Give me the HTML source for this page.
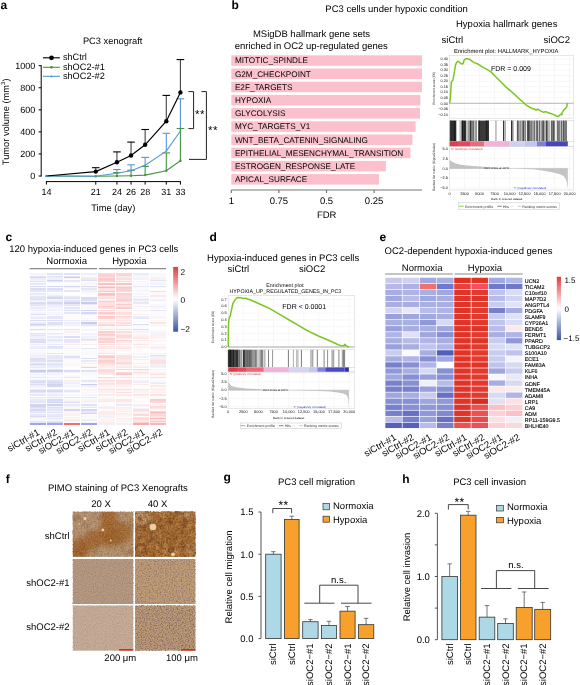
<!DOCTYPE html>
<html><head><meta charset="utf-8"><title>Figure</title>
<style>html,body{margin:0;padding:0;background:#fff;overflow:hidden}svg{display:block;font-family:"Liberation Sans",sans-serif;text-rendering:geometricPrecision;will-change:transform}</style>
</head><body>
<svg width="580" height="685" viewBox="0 0 580 685">
<rect width="580" height="685" fill="#fff"/>
<text x="0.60" y="8.70" font-size="12" font-weight="bold">a</text>
<text x="231.40" y="8.70" font-size="12" font-weight="bold">b</text>
<text x="5.40" y="241.30" font-size="12" font-weight="bold">c</text>
<text x="209.60" y="241.30" font-size="12" font-weight="bold">d</text>
<text x="379.60" y="241.00" font-size="12" font-weight="bold">e</text>
<text x="5.80" y="482.50" font-size="12" font-weight="bold">f</text>
<text x="223.50" y="481.30" font-size="12" font-weight="bold">g</text>
<text x="402.20" y="483.20" font-size="12" font-weight="bold">h</text>
<text x="82.90" y="43.60" font-size="9.3">PC3 xenograft</text>
<line x1="43.00" y1="57.80" x2="59.90" y2="57.80" stroke="#000" stroke-width="1.1"/>
<circle cx="51.5" cy="57.8" r="2.4" fill="#000"/>
<line x1="43.00" y1="67.30" x2="59.90" y2="67.30" stroke="#46963c" stroke-width="1.1"/>
<circle cx="51.5" cy="67.3" r="1.4" fill="#46963c"/>
<line x1="43.00" y1="76.30" x2="59.90" y2="76.30" stroke="#5096dc" stroke-width="1.1"/>
<path d="M50.1,77.3 L51.5,74.9 L52.9,77.3 Z" fill="#5096dc"/>
<text x="62.90" y="59.60" font-size="9.2">shCtrl</text>
<text x="62.90" y="69.60" font-size="9.2">shOC2-#1</text>
<text x="62.90" y="79.30" font-size="9.2">shOC2-#2</text>
<line x1="41.20" y1="65.20" x2="41.20" y2="176.50" stroke="#000" stroke-width="1"/>
<line x1="38.60" y1="176.00" x2="41.20" y2="176.00" stroke="#000" stroke-width="1"/>
<text x="35.20" y="179.30" font-size="9.0" text-anchor="end">0</text>
<line x1="38.60" y1="153.94" x2="41.20" y2="153.94" stroke="#000" stroke-width="1"/>
<text x="35.20" y="157.24" font-size="9.0" text-anchor="end">200</text>
<line x1="38.60" y1="131.88" x2="41.20" y2="131.88" stroke="#000" stroke-width="1"/>
<text x="35.20" y="135.18" font-size="9.0" text-anchor="end">400</text>
<line x1="38.60" y1="109.82" x2="41.20" y2="109.82" stroke="#000" stroke-width="1"/>
<text x="35.20" y="113.12" font-size="9.0" text-anchor="end">600</text>
<line x1="38.60" y1="87.76" x2="41.20" y2="87.76" stroke="#000" stroke-width="1"/>
<text x="35.20" y="91.06" font-size="9.0" text-anchor="end">800</text>
<line x1="38.60" y1="65.70" x2="41.20" y2="65.70" stroke="#000" stroke-width="1"/>
<text x="35.20" y="69.00" font-size="9.0" text-anchor="end">1000</text>
<text transform="translate(8.6,121.8) rotate(-90)" font-size="9.3" text-anchor="middle">Tumor volume (mm<tspan font-size="6" dy="-3.2">3</tspan><tspan dy="3.2">)</tspan></text>
<line x1="45.90" y1="181.60" x2="180.90" y2="181.60" stroke="#000" stroke-width="1"/>
<line x1="46.40" y1="181.60" x2="46.40" y2="184.60" stroke="#000" stroke-width="1"/>
<text x="46.40" y="195.40" font-size="9.0" text-anchor="middle">14</text>
<line x1="95.77" y1="181.60" x2="95.77" y2="184.60" stroke="#000" stroke-width="1"/>
<text x="95.77" y="195.40" font-size="9.0" text-anchor="middle">21</text>
<line x1="116.93" y1="181.60" x2="116.93" y2="184.60" stroke="#000" stroke-width="1"/>
<text x="116.93" y="195.40" font-size="9.0" text-anchor="middle">24</text>
<line x1="131.04" y1="181.60" x2="131.04" y2="184.60" stroke="#000" stroke-width="1"/>
<text x="131.04" y="195.40" font-size="9.0" text-anchor="middle">26</text>
<line x1="145.14" y1="181.60" x2="145.14" y2="184.60" stroke="#000" stroke-width="1"/>
<text x="145.14" y="195.40" font-size="9.0" text-anchor="middle">28</text>
<line x1="166.30" y1="181.60" x2="166.30" y2="184.60" stroke="#000" stroke-width="1"/>
<text x="166.30" y="195.40" font-size="9.0" text-anchor="middle">31</text>
<line x1="180.41" y1="181.60" x2="180.41" y2="184.60" stroke="#000" stroke-width="1"/>
<text x="180.41" y="195.40" font-size="9.0" text-anchor="middle">33</text>
<text x="113.30" y="211.00" font-size="9.3" text-anchor="middle">Time (day)</text>
<line x1="116.93" y1="173.30" x2="116.93" y2="169.50" stroke="#5096dc" stroke-width="1.1"/>
<line x1="113.13" y1="169.50" x2="120.73" y2="169.50" stroke="#5096dc" stroke-width="1.1"/>
<line x1="131.04" y1="170.80" x2="131.04" y2="164.80" stroke="#5096dc" stroke-width="1.1"/>
<line x1="127.24" y1="164.80" x2="134.84" y2="164.80" stroke="#5096dc" stroke-width="1.1"/>
<line x1="145.14" y1="165.20" x2="145.14" y2="157.40" stroke="#5096dc" stroke-width="1.1"/>
<line x1="141.34" y1="157.40" x2="148.94" y2="157.40" stroke="#5096dc" stroke-width="1.1"/>
<line x1="166.30" y1="151.10" x2="166.30" y2="133.30" stroke="#5096dc" stroke-width="1.1"/>
<line x1="162.50" y1="133.30" x2="170.10" y2="133.30" stroke="#5096dc" stroke-width="1.1"/>
<line x1="180.41" y1="131.00" x2="180.41" y2="98.80" stroke="#5096dc" stroke-width="1.1"/>
<line x1="176.61" y1="98.80" x2="184.21" y2="98.80" stroke="#5096dc" stroke-width="1.1"/>
<line x1="116.93" y1="176.00" x2="116.93" y2="172.60" stroke="#46963c" stroke-width="1.1"/>
<line x1="113.13" y1="172.60" x2="120.73" y2="172.60" stroke="#46963c" stroke-width="1.1"/>
<line x1="131.04" y1="175.70" x2="131.04" y2="170.20" stroke="#46963c" stroke-width="1.1"/>
<line x1="127.24" y1="170.20" x2="134.84" y2="170.20" stroke="#46963c" stroke-width="1.1"/>
<line x1="145.14" y1="175.10" x2="145.14" y2="166.40" stroke="#46963c" stroke-width="1.1"/>
<line x1="141.34" y1="166.40" x2="148.94" y2="166.40" stroke="#46963c" stroke-width="1.1"/>
<line x1="166.30" y1="170.70" x2="166.30" y2="152.90" stroke="#46963c" stroke-width="1.1"/>
<line x1="162.50" y1="152.90" x2="170.10" y2="152.90" stroke="#46963c" stroke-width="1.1"/>
<line x1="180.41" y1="160.80" x2="180.41" y2="128.50" stroke="#46963c" stroke-width="1.1"/>
<line x1="176.61" y1="128.50" x2="184.21" y2="128.50" stroke="#46963c" stroke-width="1.1"/>
<line x1="95.77" y1="171.60" x2="95.77" y2="167.70" stroke="#444" stroke-width="1.1"/>
<line x1="91.97" y1="167.70" x2="99.57" y2="167.70" stroke="#000" stroke-width="1.1"/>
<line x1="116.93" y1="162.20" x2="116.93" y2="151.90" stroke="#444" stroke-width="1.1"/>
<line x1="113.13" y1="151.90" x2="120.73" y2="151.90" stroke="#000" stroke-width="1.1"/>
<line x1="131.04" y1="155.50" x2="131.04" y2="142.10" stroke="#444" stroke-width="1.1"/>
<line x1="127.24" y1="142.10" x2="134.84" y2="142.10" stroke="#000" stroke-width="1.1"/>
<line x1="145.14" y1="144.80" x2="145.14" y2="129.50" stroke="#444" stroke-width="1.1"/>
<line x1="141.34" y1="129.50" x2="148.94" y2="129.50" stroke="#000" stroke-width="1.1"/>
<line x1="166.30" y1="121.20" x2="166.30" y2="95.40" stroke="#444" stroke-width="1.1"/>
<line x1="162.50" y1="95.40" x2="170.10" y2="95.40" stroke="#000" stroke-width="1.1"/>
<line x1="180.41" y1="92.40" x2="180.41" y2="59.60" stroke="#444" stroke-width="1.1"/>
<line x1="176.61" y1="59.60" x2="184.21" y2="59.60" stroke="#000" stroke-width="1.1"/>
<polyline points="46.40,176.00 95.77,176.20 116.93,176.00 131.04,175.70 145.14,175.10 166.30,170.70 180.41,160.80" fill="none" stroke="#46963c" stroke-width="1.1"/>
<polyline points="46.40,176.00 95.77,176.20 116.93,173.30 131.04,170.80 145.14,165.20 166.30,151.10 180.41,131.00" fill="none" stroke="#5096dc" stroke-width="1.1"/>
<polyline points="46.40,176.00 95.77,171.60 116.93,162.20 131.04,155.50 145.14,144.80 166.30,121.20 180.41,92.40" fill="none" stroke="#000" stroke-width="1.2"/>
<circle cx="46.40" cy="176.00" r="1.2" fill="#46963c"/>
<circle cx="95.77" cy="176.20" r="1.2" fill="#46963c"/>
<circle cx="116.93" cy="176.00" r="1.2" fill="#46963c"/>
<circle cx="131.04" cy="175.70" r="1.2" fill="#46963c"/>
<circle cx="145.14" cy="175.10" r="1.2" fill="#46963c"/>
<circle cx="166.30" cy="170.70" r="1.2" fill="#46963c"/>
<circle cx="180.41" cy="160.80" r="1.2" fill="#46963c"/>
<path d="M45.30,176.70 L46.40,174.90 L47.50,176.70 Z" fill="#5096dc"/>
<path d="M94.67,176.90 L95.77,175.10 L96.87,176.90 Z" fill="#5096dc"/>
<path d="M115.83,174.00 L116.93,172.20 L118.03,174.00 Z" fill="#5096dc"/>
<path d="M129.94,171.50 L131.04,169.70 L132.14,171.50 Z" fill="#5096dc"/>
<path d="M144.04,165.90 L145.14,164.10 L146.24,165.90 Z" fill="#5096dc"/>
<path d="M165.20,151.80 L166.30,150.00 L167.40,151.80 Z" fill="#5096dc"/>
<path d="M179.31,131.70 L180.41,129.90 L181.51,131.70 Z" fill="#5096dc"/>
<circle cx="95.77" cy="171.60" r="2.2" fill="#000"/>
<circle cx="116.93" cy="162.20" r="2.2" fill="#000"/>
<circle cx="131.04" cy="155.50" r="2.2" fill="#000"/>
<circle cx="145.14" cy="144.80" r="2.2" fill="#000"/>
<circle cx="166.30" cy="121.20" r="2.2" fill="#000"/>
<circle cx="180.41" cy="92.40" r="2.2" fill="#000"/>
<path d="M188.4,91.6 H193.6 V128.6 H188.4" fill="none" stroke="#222" stroke-width="1"/>
<text x="200.00" y="117.60" font-size="11.5" text-anchor="middle" letter-spacing="0.5">**</text>
<path d="M201.4,91.6 H206.4 V159.4 H189" fill="none" stroke="#222" stroke-width="1"/>
<text x="212.90" y="134.00" font-size="11.5" text-anchor="middle" letter-spacing="0.5">**</text>
<text x="325.30" y="11.80" font-size="9.5">PC3 cells under hypoxic condition</text>
<text x="311.50" y="37.20" font-size="9.5" text-anchor="middle">MSigDB hallmark gene sets</text>
<text x="311.30" y="49.00" font-size="9.5" text-anchor="middle">enriched in OC2 up-regulated genes</text>
<rect x="231.30" y="55.30" width="190.70" height="10.50" fill="#fbc0cc"/>
<text x="234.90" y="63.40" font-size="8.2">MITOTIC_SPINDLE</text>
<rect x="231.30" y="68.50" width="190.70" height="10.50" fill="#fbc0cc"/>
<text x="234.90" y="76.60" font-size="8.2">G2M_CHECKPOINT</text>
<rect x="231.30" y="81.70" width="190.70" height="10.50" fill="#fbc0cc"/>
<text x="234.90" y="89.80" font-size="8.2">E2F_TARGETS</text>
<rect x="231.30" y="94.90" width="189.10" height="10.50" fill="#fbc0cc"/>
<text x="234.90" y="103.00" font-size="8.2">HYPOXIA</text>
<rect x="231.30" y="108.10" width="188.70" height="10.50" fill="#fbc0cc"/>
<text x="234.90" y="116.20" font-size="8.2">GLYCOLYSIS</text>
<rect x="231.30" y="121.30" width="184.30" height="10.50" fill="#fbc0cc"/>
<text x="234.90" y="129.40" font-size="8.2">MYC_TARGETS_V1</text>
<rect x="231.30" y="134.50" width="181.10" height="10.50" fill="#fbc0cc"/>
<text x="234.90" y="142.60" font-size="8.2">WNT_BETA_CATENIN_SIGNALING</text>
<rect x="231.30" y="147.70" width="179.10" height="10.50" fill="#fbc0cc"/>
<text x="234.90" y="155.80" font-size="8.2">EPITHELIAL_MESENCHYMAL_TRANSITION</text>
<rect x="231.30" y="160.90" width="154.60" height="10.50" fill="#fbc0cc"/>
<text x="234.90" y="169.00" font-size="8.2">ESTROGEN_RESPONSE_LATE</text>
<rect x="231.30" y="174.10" width="147.70" height="10.50" fill="#fbc0cc"/>
<text x="234.90" y="182.20" font-size="8.2">APICAL_SURFACE</text>
<line x1="231.30" y1="190.00" x2="422.00" y2="190.00" stroke="#777" stroke-width="1.2"/>
<line x1="231.30" y1="190.00" x2="231.30" y2="193.00" stroke="#777" stroke-width="1.2"/>
<text x="231.30" y="204.00" font-size="9.5" text-anchor="middle">1</text>
<line x1="278.90" y1="190.00" x2="278.90" y2="193.00" stroke="#777" stroke-width="1.2"/>
<text x="278.90" y="204.00" font-size="9.5" text-anchor="middle">0.75</text>
<line x1="326.50" y1="190.00" x2="326.50" y2="193.00" stroke="#777" stroke-width="1.2"/>
<text x="326.50" y="204.00" font-size="9.5" text-anchor="middle">0.5</text>
<line x1="374.10" y1="190.00" x2="374.10" y2="193.00" stroke="#777" stroke-width="1.2"/>
<text x="374.10" y="204.00" font-size="9.5" text-anchor="middle">0.25</text>
<text x="326.70" y="218.00" font-size="9.5" text-anchor="middle">FDR</text>
<text x="456.00" y="26.80" font-size="9.5">Hypoxia hallmark genes</text>
<text x="441.60" y="42.80" font-size="9.5">siCtrl</text>
<text x="543.60" y="42.80" font-size="9.5">siOC2</text>
<text x="506.20" y="53.00" font-size="5.85" text-anchor="middle">Enrichment plot: HALLMARK_HYPOXIA</text>
<rect x="449.60" y="55.30" width="124.10" height="62.90" fill="#fff" stroke="#d8d8d8" stroke-width="0.6"/>
<line x1="464.60" y1="55.30" x2="464.60" y2="118.20" stroke="#eeeeee" stroke-width="0.5"/>
<line x1="464.60" y1="146.60" x2="464.60" y2="190.00" stroke="#eeeeee" stroke-width="0.5"/>
<line x1="479.60" y1="55.30" x2="479.60" y2="118.20" stroke="#eeeeee" stroke-width="0.5"/>
<line x1="479.60" y1="146.60" x2="479.60" y2="190.00" stroke="#eeeeee" stroke-width="0.5"/>
<line x1="494.60" y1="55.30" x2="494.60" y2="118.20" stroke="#eeeeee" stroke-width="0.5"/>
<line x1="494.60" y1="146.60" x2="494.60" y2="190.00" stroke="#eeeeee" stroke-width="0.5"/>
<line x1="509.60" y1="55.30" x2="509.60" y2="118.20" stroke="#eeeeee" stroke-width="0.5"/>
<line x1="509.60" y1="146.60" x2="509.60" y2="190.00" stroke="#eeeeee" stroke-width="0.5"/>
<line x1="524.60" y1="55.30" x2="524.60" y2="118.20" stroke="#eeeeee" stroke-width="0.5"/>
<line x1="524.60" y1="146.60" x2="524.60" y2="190.00" stroke="#eeeeee" stroke-width="0.5"/>
<line x1="539.60" y1="55.30" x2="539.60" y2="118.20" stroke="#eeeeee" stroke-width="0.5"/>
<line x1="539.60" y1="146.60" x2="539.60" y2="190.00" stroke="#eeeeee" stroke-width="0.5"/>
<line x1="554.60" y1="55.30" x2="554.60" y2="118.20" stroke="#eeeeee" stroke-width="0.5"/>
<line x1="554.60" y1="146.60" x2="554.60" y2="190.00" stroke="#eeeeee" stroke-width="0.5"/>
<line x1="569.60" y1="55.30" x2="569.60" y2="118.20" stroke="#eeeeee" stroke-width="0.5"/>
<line x1="569.60" y1="146.60" x2="569.60" y2="190.00" stroke="#eeeeee" stroke-width="0.5"/>
<line x1="449.60" y1="58.98" x2="573.70" y2="58.98" stroke="#f0f0f0" stroke-width="0.5"/>
<line x1="449.60" y1="64.52" x2="573.70" y2="64.52" stroke="#f0f0f0" stroke-width="0.5"/>
<line x1="449.60" y1="70.06" x2="573.70" y2="70.06" stroke="#f0f0f0" stroke-width="0.5"/>
<line x1="449.60" y1="75.60" x2="573.70" y2="75.60" stroke="#f0f0f0" stroke-width="0.5"/>
<line x1="449.60" y1="81.14" x2="573.70" y2="81.14" stroke="#f0f0f0" stroke-width="0.5"/>
<line x1="449.60" y1="86.68" x2="573.70" y2="86.68" stroke="#f0f0f0" stroke-width="0.5"/>
<line x1="449.60" y1="92.22" x2="573.70" y2="92.22" stroke="#f0f0f0" stroke-width="0.5"/>
<line x1="449.60" y1="97.76" x2="573.70" y2="97.76" stroke="#f0f0f0" stroke-width="0.5"/>
<line x1="449.60" y1="103.30" x2="573.70" y2="103.30" stroke="#f0f0f0" stroke-width="0.5"/>
<line x1="449.60" y1="108.84" x2="573.70" y2="108.84" stroke="#f0f0f0" stroke-width="0.5"/>
<line x1="449.60" y1="114.38" x2="573.70" y2="114.38" stroke="#f0f0f0" stroke-width="0.5"/>
<line x1="449.60" y1="103.30" x2="573.70" y2="103.30" stroke="#9a9a9a" stroke-width="0.7"/>
<text x="448.00" y="60.18" font-size="3.9" text-anchor="end" fill="#111">0.40</text>
<text x="448.00" y="65.72" font-size="3.9" text-anchor="end" fill="#111">0.35</text>
<text x="448.00" y="71.26" font-size="3.9" text-anchor="end" fill="#111">0.30</text>
<text x="448.00" y="76.80" font-size="3.9" text-anchor="end" fill="#111">0.25</text>
<text x="448.00" y="82.34" font-size="3.9" text-anchor="end" fill="#111">0.20</text>
<text x="448.00" y="87.88" font-size="3.9" text-anchor="end" fill="#111">0.15</text>
<text x="448.00" y="93.42" font-size="3.9" text-anchor="end" fill="#111">0.10</text>
<text x="448.00" y="98.96" font-size="3.9" text-anchor="end" fill="#111">0.05</text>
<text x="448.00" y="104.50" font-size="3.9" text-anchor="end" fill="#111">0.00</text>
<text x="448.00" y="110.04" font-size="3.9" text-anchor="end" fill="#111">−0.05</text>
<text x="448.00" y="115.58" font-size="3.9" text-anchor="end" fill="#111">−0.10</text>
<polyline points="449.60,103.30 450.40,97.90 451.30,82.20 452.20,81.00 452.80,80.40 454.10,73.70 455.60,64.70 456.50,62.60 458.00,61.20 460.10,62.90 461.90,64.10 463.10,63.50 464.30,59.80 466.10,58.60 468.50,59.00 470.30,59.80 474.00,62.60 477.00,63.50 480.00,65.30 483.60,67.70 487.80,69.90 490.90,71.90 495.70,76.70 500.50,81.60 505.30,86.40 510.20,90.60 515.00,94.80 517.10,96.90 523.10,102.30 526.70,105.30 531.00,108.00 534.00,109.00 536.10,110.20 537.60,109.20 540.60,110.80 543.60,112.30 545.40,111.60 548.40,112.80 553.30,114.40 556.30,116.00 558.10,116.60 559.90,115.00 561.10,114.00 561.70,114.80 562.90,111.10 564.10,109.60 565.90,108.00 566.80,106.60 567.20,104.10 567.50,102.90" fill="none" stroke="#7cc623" stroke-width="1.5" stroke-linejoin="round"/>
<rect x="449.60" y="120.40" width="124.10" height="20.90" fill="#fff" stroke="#d8d8d8" stroke-width="0.6"/>
<rect x="449.90" y="120.70" width="6.30" height="20.60" fill="#2a2a2a"/>
<rect x="461.80" y="120.70" width="4.50" height="20.60" fill="#333"/>
<rect x="467.40" y="120.70" width="6.70" height="20.60" fill="#999"/>
<rect x="478.60" y="120.70" width="10.10" height="20.60" fill="#3a3a3a"/>
<rect x="516.70" y="120.70" width="4.50" height="20.60" fill="#aaa"/>
<rect x="526.80" y="120.70" width="7.90" height="20.60" fill="#a4a4a4"/>
<rect x="541.40" y="120.70" width="9.00" height="20.60" fill="#b8b8b8"/>
<rect x="557.10" y="120.70" width="6.70" height="20.60" fill="#bbb"/>
<line x1="452.70" y1="120.70" x2="452.70" y2="141.30" stroke="rgb(50,50,50)" stroke-width="0.6"/>
<line x1="455.71" y1="120.70" x2="455.71" y2="141.30" stroke="rgb(41,41,41)" stroke-width="0.6"/>
<line x1="453.05" y1="120.70" x2="453.05" y2="141.30" stroke="rgb(52,52,52)" stroke-width="0.6"/>
<line x1="450.98" y1="120.70" x2="450.98" y2="141.30" stroke="rgb(46,46,46)" stroke-width="0.6"/>
<line x1="453.83" y1="120.70" x2="453.83" y2="141.30" stroke="rgb(71,71,71)" stroke-width="0.6"/>
<line x1="450.40" y1="120.70" x2="450.40" y2="141.30" stroke="rgb(27,27,27)" stroke-width="0.6"/>
<line x1="450.38" y1="120.70" x2="450.38" y2="141.30" stroke="rgb(72,72,72)" stroke-width="0.6"/>
<line x1="454.24" y1="120.70" x2="454.24" y2="141.30" stroke="rgb(3,3,3)" stroke-width="0.6"/>
<line x1="461.43" y1="120.70" x2="461.43" y2="141.30" stroke="rgb(146,146,146)" stroke-width="0.6"/>
<line x1="460.12" y1="120.70" x2="460.12" y2="141.30" stroke="rgb(107,107,107)" stroke-width="0.6"/>
<line x1="462.51" y1="120.70" x2="462.51" y2="141.30" stroke="rgb(1,1,1)" stroke-width="0.6"/>
<line x1="464.18" y1="120.70" x2="464.18" y2="141.30" stroke="rgb(5,5,5)" stroke-width="0.6"/>
<line x1="462.66" y1="120.70" x2="462.66" y2="141.30" stroke="rgb(21,21,21)" stroke-width="0.6"/>
<line x1="461.94" y1="120.70" x2="461.94" y2="141.30" stroke="rgb(41,41,41)" stroke-width="0.6"/>
<line x1="463.78" y1="120.70" x2="463.78" y2="141.30" stroke="rgb(75,75,75)" stroke-width="0.6"/>
<line x1="470.88" y1="120.70" x2="470.88" y2="141.30" stroke="rgb(57,57,57)" stroke-width="0.6"/>
<line x1="470.75" y1="120.70" x2="470.75" y2="141.30" stroke="rgb(59,59,59)" stroke-width="0.6"/>
<line x1="470.46" y1="120.70" x2="470.46" y2="141.30" stroke="rgb(25,25,25)" stroke-width="0.6"/>
<line x1="474.08" y1="120.70" x2="474.08" y2="141.30" stroke="rgb(89,89,89)" stroke-width="0.6"/>
<line x1="473.03" y1="120.70" x2="473.03" y2="141.30" stroke="rgb(63,63,63)" stroke-width="0.6"/>
<line x1="476.10" y1="120.70" x2="476.10" y2="141.30" stroke="rgb(65,65,65)" stroke-width="0.6"/>
<line x1="476.01" y1="120.70" x2="476.01" y2="141.30" stroke="rgb(47,47,47)" stroke-width="0.6"/>
<line x1="486.34" y1="120.70" x2="486.34" y2="141.30" stroke="rgb(36,36,36)" stroke-width="0.6"/>
<line x1="487.15" y1="120.70" x2="487.15" y2="141.30" stroke="rgb(34,34,34)" stroke-width="0.6"/>
<line x1="488.28" y1="120.70" x2="488.28" y2="141.30" stroke="rgb(76,76,76)" stroke-width="0.6"/>
<line x1="478.61" y1="120.70" x2="478.61" y2="141.30" stroke="rgb(18,18,18)" stroke-width="0.6"/>
<line x1="487.79" y1="120.70" x2="487.79" y2="141.30" stroke="rgb(42,42,42)" stroke-width="0.6"/>
<line x1="488.50" y1="120.70" x2="488.50" y2="141.30" stroke="rgb(35,35,35)" stroke-width="0.6"/>
<line x1="479.34" y1="120.70" x2="479.34" y2="141.30" stroke="rgb(56,56,56)" stroke-width="0.6"/>
<line x1="486.46" y1="120.70" x2="486.46" y2="141.30" stroke="rgb(24,24,24)" stroke-width="0.6"/>
<line x1="479.48" y1="120.70" x2="479.48" y2="141.30" stroke="rgb(29,29,29)" stroke-width="0.6"/>
<line x1="495.96" y1="120.70" x2="495.96" y2="141.30" stroke="rgb(68,68,68)" stroke-width="0.6"/>
<line x1="503.56" y1="120.70" x2="503.56" y2="141.30" stroke="rgb(22,22,22)" stroke-width="0.6"/>
<line x1="503.52" y1="120.70" x2="503.52" y2="141.30" stroke="rgb(5,5,5)" stroke-width="0.6"/>
<line x1="505.05" y1="120.70" x2="505.05" y2="141.30" stroke="rgb(15,15,15)" stroke-width="0.6"/>
<line x1="513.00" y1="120.70" x2="513.00" y2="141.30" stroke="rgb(40,40,40)" stroke-width="0.6"/>
<line x1="511.75" y1="120.70" x2="511.75" y2="141.30" stroke="rgb(65,65,65)" stroke-width="0.6"/>
<line x1="511.55" y1="120.70" x2="511.55" y2="141.30" stroke="rgb(57,57,57)" stroke-width="0.6"/>
<line x1="511.50" y1="120.70" x2="511.50" y2="141.30" stroke="rgb(37,37,37)" stroke-width="0.6"/>
<line x1="511.82" y1="120.70" x2="511.82" y2="141.30" stroke="rgb(24,24,24)" stroke-width="0.6"/>
<line x1="521.07" y1="120.70" x2="521.07" y2="141.30" stroke="rgb(72,72,72)" stroke-width="0.6"/>
<line x1="518.07" y1="120.70" x2="518.07" y2="141.30" stroke="rgb(79,79,79)" stroke-width="0.6"/>
<line x1="517.65" y1="120.70" x2="517.65" y2="141.30" stroke="rgb(35,35,35)" stroke-width="0.6"/>
<line x1="525.22" y1="120.70" x2="525.22" y2="141.30" stroke="rgb(57,57,57)" stroke-width="0.6"/>
<line x1="522.73" y1="120.70" x2="522.73" y2="141.30" stroke="rgb(89,89,89)" stroke-width="0.6"/>
<line x1="523.10" y1="120.70" x2="523.10" y2="141.30" stroke="rgb(23,23,23)" stroke-width="0.6"/>
<line x1="524.95" y1="120.70" x2="524.95" y2="141.30" stroke="rgb(29,29,29)" stroke-width="0.6"/>
<line x1="523.38" y1="120.70" x2="523.38" y2="141.30" stroke="rgb(6,6,6)" stroke-width="0.6"/>
<line x1="527.51" y1="120.70" x2="527.51" y2="141.30" stroke="rgb(52,52,52)" stroke-width="0.6"/>
<line x1="528.72" y1="120.70" x2="528.72" y2="141.30" stroke="rgb(54,54,54)" stroke-width="0.6"/>
<line x1="529.74" y1="120.70" x2="529.74" y2="141.30" stroke="rgb(40,40,40)" stroke-width="0.6"/>
<line x1="534.38" y1="120.70" x2="534.38" y2="141.30" stroke="rgb(43,43,43)" stroke-width="0.6"/>
<line x1="531.34" y1="120.70" x2="531.34" y2="141.30" stroke="rgb(77,77,77)" stroke-width="0.6"/>
<line x1="528.24" y1="120.70" x2="528.24" y2="141.30" stroke="rgb(13,13,13)" stroke-width="0.6"/>
<line x1="539.89" y1="120.70" x2="539.89" y2="141.30" stroke="rgb(73,73,73)" stroke-width="0.6"/>
<line x1="536.92" y1="120.70" x2="536.92" y2="141.30" stroke="rgb(17,17,17)" stroke-width="0.6"/>
<line x1="539.13" y1="120.70" x2="539.13" y2="141.30" stroke="rgb(84,84,84)" stroke-width="0.6"/>
<line x1="536.68" y1="120.70" x2="536.68" y2="141.30" stroke="rgb(85,85,85)" stroke-width="0.6"/>
<line x1="539.77" y1="120.70" x2="539.77" y2="141.30" stroke="rgb(54,54,54)" stroke-width="0.6"/>
<line x1="537.70" y1="120.70" x2="537.70" y2="141.30" stroke="rgb(9,9,9)" stroke-width="0.6"/>
<line x1="535.97" y1="120.70" x2="535.97" y2="141.30" stroke="rgb(86,86,86)" stroke-width="0.6"/>
<line x1="543.55" y1="120.70" x2="543.55" y2="141.30" stroke="rgb(63,63,63)" stroke-width="0.6"/>
<line x1="543.71" y1="120.70" x2="543.71" y2="141.30" stroke="rgb(74,74,74)" stroke-width="0.6"/>
<line x1="546.77" y1="120.70" x2="546.77" y2="141.30" stroke="rgb(26,26,26)" stroke-width="0.6"/>
<line x1="542.98" y1="120.70" x2="542.98" y2="141.30" stroke="rgb(64,64,64)" stroke-width="0.6"/>
<line x1="542.02" y1="120.70" x2="542.02" y2="141.30" stroke="rgb(20,20,20)" stroke-width="0.6"/>
<line x1="546.43" y1="120.70" x2="546.43" y2="141.30" stroke="rgb(76,76,76)" stroke-width="0.6"/>
<line x1="546.93" y1="120.70" x2="546.93" y2="141.30" stroke="rgb(25,25,25)" stroke-width="0.6"/>
<line x1="554.62" y1="120.70" x2="554.62" y2="141.30" stroke="rgb(18,18,18)" stroke-width="0.6"/>
<line x1="551.56" y1="120.70" x2="551.56" y2="141.30" stroke="rgb(24,24,24)" stroke-width="0.6"/>
<line x1="553.02" y1="120.70" x2="553.02" y2="141.30" stroke="rgb(5,5,5)" stroke-width="0.6"/>
<line x1="552.10" y1="120.70" x2="552.10" y2="141.30" stroke="rgb(33,33,33)" stroke-width="0.6"/>
<line x1="553.45" y1="120.70" x2="553.45" y2="141.30" stroke="rgb(11,11,11)" stroke-width="0.6"/>
<line x1="559.42" y1="120.70" x2="559.42" y2="141.30" stroke="rgb(80,80,80)" stroke-width="0.6"/>
<line x1="563.38" y1="120.70" x2="563.38" y2="141.30" stroke="rgb(59,59,59)" stroke-width="0.6"/>
<line x1="561.52" y1="120.70" x2="561.52" y2="141.30" stroke="rgb(52,52,52)" stroke-width="0.6"/>
<line x1="558.00" y1="120.70" x2="558.00" y2="141.30" stroke="rgb(3,3,3)" stroke-width="0.6"/>
<line x1="557.21" y1="120.70" x2="557.21" y2="141.30" stroke="rgb(81,81,81)" stroke-width="0.6"/>
<line x1="566.32" y1="120.70" x2="566.32" y2="141.30" stroke="rgb(86,86,86)" stroke-width="0.6"/>
<line x1="563.88" y1="120.70" x2="563.88" y2="141.30" stroke="rgb(57,57,57)" stroke-width="0.6"/>
<line x1="565.54" y1="120.70" x2="565.54" y2="141.30" stroke="rgb(65,65,65)" stroke-width="0.6"/>
<line x1="564.95" y1="120.70" x2="564.95" y2="141.30" stroke="rgb(89,89,89)" stroke-width="0.6"/>
<line x1="564.07" y1="120.70" x2="564.07" y2="141.30" stroke="rgb(49,49,49)" stroke-width="0.6"/>
<line x1="566.45" y1="120.70" x2="566.45" y2="141.30" stroke="rgb(81,81,81)" stroke-width="0.6"/>
<rect x="449.60" y="141.30" width="124.10" height="5.30" fill="#fff" stroke="#d8d8d8" stroke-width="0.6"/>
<rect x="449.60" y="141.30" width="8.40" height="5.30" fill="#dc4050"/>
<rect x="458.00" y="141.30" width="12.00" height="5.30" fill="#e24a5c"/>
<rect x="470.00" y="141.30" width="14.20" height="5.30" fill="#ea6a80"/>
<rect x="484.20" y="141.30" width="24.80" height="5.30" fill="#f1b2d8"/>
<rect x="509.00" y="141.30" width="16.00" height="5.30" fill="#d0d0f2"/>
<rect x="525.00" y="141.30" width="12.00" height="5.30" fill="#c4c4ee"/>
<rect x="537.00" y="141.30" width="9.00" height="5.30" fill="#8080d4"/>
<rect x="546.00" y="141.30" width="21.80" height="5.30" fill="#4646ba"/>
<rect x="449.60" y="146.60" width="124.10" height="43.40" fill="none" stroke="#d8d8d8" stroke-width="0.6"/>
<line x1="449.60" y1="148.90" x2="573.70" y2="148.90" stroke="#f0f0f0" stroke-width="0.5"/>
<text x="448.00" y="150.00" font-size="3.9" text-anchor="end" fill="#111">5.0</text>
<line x1="449.60" y1="158.65" x2="573.70" y2="158.65" stroke="#f0f0f0" stroke-width="0.5"/>
<text x="448.00" y="159.75" font-size="3.9" text-anchor="end" fill="#111">2.5</text>
<line x1="449.60" y1="168.40" x2="573.70" y2="168.40" stroke="#f0f0f0" stroke-width="0.5"/>
<text x="448.00" y="169.50" font-size="3.9" text-anchor="end" fill="#111">0.0</text>
<line x1="449.60" y1="178.15" x2="573.70" y2="178.15" stroke="#f0f0f0" stroke-width="0.5"/>
<text x="448.00" y="179.25" font-size="3.9" text-anchor="end" fill="#111">−2.5</text>
<line x1="449.60" y1="187.90" x2="573.70" y2="187.90" stroke="#f0f0f0" stroke-width="0.5"/>
<text x="448.00" y="189.00" font-size="3.9" text-anchor="end" fill="#111">−5.0</text>
<path d="M449.60,168.40 L449.60,159.70 L451.00,161.00 L453.00,162.30 L456.00,163.40 L460.00,164.40 L467.00,165.40 L480.00,166.60 L490.00,167.30 L500.00,167.90 L512.00,168.40 L525.00,168.90 L535.00,169.60 L542.00,170.40 L548.00,171.50 L555.00,172.90 L560.00,174.20 L563.50,176.00 L565.50,178.50 L566.80,182.00 L567.50,187.80 L567.80,187.80 L567.80,168.40 Z" fill="#c4c4c4" stroke="none" stroke-width="1"/>
<line x1="449.60" y1="168.40" x2="567.80" y2="168.40" stroke="#aaaaaa" stroke-width="0.4"/>
<text x="450.60" y="150.00" font-size="2.95" fill="#e04040">'N' (positively correlated)</text>
<text x="484.20" y="169.40" font-size="2.95" fill="#333">Zero cross at 10H1</text>
<text x="513.40" y="189.00" font-size="2.95" fill="#3040c0">'Y' (negatively correlated)</text>
<text x="449.60" y="194.50" font-size="3.9" text-anchor="middle" fill="#111">0</text>
<text x="464.60" y="194.50" font-size="3.9" text-anchor="middle" fill="#111">2500</text>
<text x="479.60" y="194.50" font-size="3.9" text-anchor="middle" fill="#111">5000</text>
<text x="494.60" y="194.50" font-size="3.9" text-anchor="middle" fill="#111">7500</text>
<text x="509.60" y="194.50" font-size="3.9" text-anchor="middle" fill="#111">10,000</text>
<text x="524.60" y="194.50" font-size="3.9" text-anchor="middle" fill="#111">12,500</text>
<text x="539.60" y="194.50" font-size="3.9" text-anchor="middle" fill="#111">15,000</text>
<text x="554.60" y="194.50" font-size="3.9" text-anchor="middle" fill="#111">17,500</text>
<text x="569.60" y="194.50" font-size="3.9" text-anchor="middle" fill="#111">20,000</text>
<text x="506.70" y="199.70" font-size="2.95" text-anchor="middle" fill="#111">Rank in ordered dataset</text>
<text transform="translate(435.10,88.30) rotate(-90)" font-size="3.25" text-anchor="middle" fill="#111">Enrichment score (ES)</text>
<text transform="translate(435.10,167.00) rotate(-90)" font-size="3.25" text-anchor="middle" fill="#111">Ranked list metric (Signal2Noise)</text>
<rect x="458.40" y="202.80" width="100.90" height="6.90" fill="#fff" stroke="#c4c4c4" stroke-width="0.5"/>
<line x1="459.00" y1="206.25" x2="463.60" y2="206.25" stroke="#7cc623" stroke-width="0.9"/>
<text x="464.90" y="207.50" font-size="3.5" fill="#333">Enrichment profile</text>
<line x1="497.20" y1="206.25" x2="501.80" y2="206.25" stroke="#333" stroke-width="0.6"/>
<text x="503.10" y="207.50" font-size="3.5" fill="#333">Hits</text>
<line x1="510.20" y1="206.25" x2="513.90" y2="206.25" stroke="#e4e4e4" stroke-width="0.6"/>
<line x1="517.60" y1="206.25" x2="521.40" y2="206.25" stroke="#aaa" stroke-width="0.6"/>
<text x="522.30" y="207.50" font-size="3.5" fill="#333">Ranking metric scores</text>
<text x="491.00" y="70.90" font-size="7.0">FDR = 0.009</text>
<text x="207.10" y="260.70" font-size="9.5">Hypoxia-induced genes in PC3 cells</text>
<text x="227.60" y="272.20" font-size="9.5">siCtrl</text>
<text x="299.00" y="272.20" font-size="9.5">siOC2</text>
<text x="285.40" y="286.50" font-size="5.3" text-anchor="middle">Enrichment plot:</text>
<text x="285.40" y="293.30" font-size="5.3" text-anchor="middle">HYPOXIA_UP_REGULATED_GENES_IN_PC3</text>
<rect x="228.20" y="295.40" width="126.50" height="52.30" fill="#fff" stroke="#d8d8d8" stroke-width="0.6"/>
<line x1="243.32" y1="295.40" x2="243.32" y2="347.70" stroke="#eeeeee" stroke-width="0.5"/>
<line x1="243.32" y1="372.00" x2="243.32" y2="408.50" stroke="#eeeeee" stroke-width="0.5"/>
<line x1="258.45" y1="295.40" x2="258.45" y2="347.70" stroke="#eeeeee" stroke-width="0.5"/>
<line x1="258.45" y1="372.00" x2="258.45" y2="408.50" stroke="#eeeeee" stroke-width="0.5"/>
<line x1="273.57" y1="295.40" x2="273.57" y2="347.70" stroke="#eeeeee" stroke-width="0.5"/>
<line x1="273.57" y1="372.00" x2="273.57" y2="408.50" stroke="#eeeeee" stroke-width="0.5"/>
<line x1="288.70" y1="295.40" x2="288.70" y2="347.70" stroke="#eeeeee" stroke-width="0.5"/>
<line x1="288.70" y1="372.00" x2="288.70" y2="408.50" stroke="#eeeeee" stroke-width="0.5"/>
<line x1="303.82" y1="295.40" x2="303.82" y2="347.70" stroke="#eeeeee" stroke-width="0.5"/>
<line x1="303.82" y1="372.00" x2="303.82" y2="408.50" stroke="#eeeeee" stroke-width="0.5"/>
<line x1="318.95" y1="295.40" x2="318.95" y2="347.70" stroke="#eeeeee" stroke-width="0.5"/>
<line x1="318.95" y1="372.00" x2="318.95" y2="408.50" stroke="#eeeeee" stroke-width="0.5"/>
<line x1="334.07" y1="295.40" x2="334.07" y2="347.70" stroke="#eeeeee" stroke-width="0.5"/>
<line x1="334.07" y1="372.00" x2="334.07" y2="408.50" stroke="#eeeeee" stroke-width="0.5"/>
<line x1="349.20" y1="295.40" x2="349.20" y2="347.70" stroke="#eeeeee" stroke-width="0.5"/>
<line x1="349.20" y1="372.00" x2="349.20" y2="408.50" stroke="#eeeeee" stroke-width="0.5"/>
<line x1="228.20" y1="299.51" x2="354.70" y2="299.51" stroke="#f0f0f0" stroke-width="0.5"/>
<line x1="228.20" y1="306.28" x2="354.70" y2="306.28" stroke="#f0f0f0" stroke-width="0.5"/>
<line x1="228.20" y1="313.05" x2="354.70" y2="313.05" stroke="#f0f0f0" stroke-width="0.5"/>
<line x1="228.20" y1="319.82" x2="354.70" y2="319.82" stroke="#f0f0f0" stroke-width="0.5"/>
<line x1="228.20" y1="326.59" x2="354.70" y2="326.59" stroke="#f0f0f0" stroke-width="0.5"/>
<line x1="228.20" y1="333.36" x2="354.70" y2="333.36" stroke="#f0f0f0" stroke-width="0.5"/>
<line x1="228.20" y1="340.13" x2="354.70" y2="340.13" stroke="#f0f0f0" stroke-width="0.5"/>
<line x1="228.20" y1="346.90" x2="354.70" y2="346.90" stroke="#f0f0f0" stroke-width="0.5"/>
<line x1="228.20" y1="346.90" x2="354.70" y2="346.90" stroke="#9a9a9a" stroke-width="0.7"/>
<text x="226.60" y="300.71" font-size="3.9" text-anchor="end" fill="#111">0.7</text>
<text x="226.60" y="307.48" font-size="3.9" text-anchor="end" fill="#111">0.6</text>
<text x="226.60" y="314.25" font-size="3.9" text-anchor="end" fill="#111">0.5</text>
<text x="226.60" y="321.02" font-size="3.9" text-anchor="end" fill="#111">0.4</text>
<text x="226.60" y="327.79" font-size="3.9" text-anchor="end" fill="#111">0.3</text>
<text x="226.60" y="334.56" font-size="3.9" text-anchor="end" fill="#111">0.2</text>
<text x="226.60" y="341.33" font-size="3.9" text-anchor="end" fill="#111">0.1</text>
<text x="226.60" y="348.10" font-size="3.9" text-anchor="end" fill="#111">0.0</text>
<polyline points="228.30,346.90 228.40,330.60 228.60,322.20 229.20,318.00 230.20,316.10 231.40,310.10 232.90,303.50 234.70,300.40 237.10,297.40 241.30,297.80 243.10,298.60 245.50,298.30 249.80,299.80 255.80,302.30 263.00,305.50 270.30,308.90 277.50,313.10 284.80,317.30 290.00,320.50 297.20,324.70 304.50,329.00 311.70,332.80 319.00,336.20 326.20,339.20 333.40,342.50 338.30,344.70 341.90,345.90 343.70,345.60 344.90,344.40 346.10,345.60 348.90,347.10" fill="none" stroke="#7cc623" stroke-width="1.5" stroke-linejoin="round"/>
<rect x="228.20" y="349.60" width="126.50" height="17.80" fill="#fff" stroke="#d8d8d8" stroke-width="0.6"/>
<rect x="228.60" y="349.90" width="5.60" height="17.50" fill="#1a1a1a"/>
<rect x="234.20" y="349.90" width="3.50" height="17.50" fill="#555"/>
<rect x="237.70" y="349.90" width="4.50" height="17.50" fill="#aaa"/>
<rect x="243.30" y="349.90" width="2.30" height="17.50" fill="#333"/>
<rect x="245.60" y="349.90" width="10.30" height="17.50" fill="#999"/>
<rect x="256.00" y="349.90" width="6.70" height="17.50" fill="#ccc"/>
<line x1="232.01" y1="349.90" x2="232.01" y2="367.40" stroke="rgb(66,66,66)" stroke-width="0.6"/>
<line x1="233.01" y1="349.90" x2="233.01" y2="367.40" stroke="rgb(84,84,84)" stroke-width="0.6"/>
<line x1="232.69" y1="349.90" x2="232.69" y2="367.40" stroke="rgb(83,83,83)" stroke-width="0.6"/>
<line x1="228.57" y1="349.90" x2="228.57" y2="367.40" stroke="rgb(41,41,41)" stroke-width="0.6"/>
<line x1="233.87" y1="349.90" x2="233.87" y2="367.40" stroke="rgb(58,58,58)" stroke-width="0.6"/>
<line x1="233.63" y1="349.90" x2="233.63" y2="367.40" stroke="rgb(10,10,10)" stroke-width="0.6"/>
<line x1="231.12" y1="349.90" x2="231.12" y2="367.40" stroke="rgb(22,22,22)" stroke-width="0.6"/>
<line x1="231.55" y1="349.90" x2="231.55" y2="367.40" stroke="rgb(51,51,51)" stroke-width="0.6"/>
<line x1="228.48" y1="349.90" x2="228.48" y2="367.40" stroke="rgb(19,19,19)" stroke-width="0.6"/>
<line x1="230.02" y1="349.90" x2="230.02" y2="367.40" stroke="rgb(82,82,82)" stroke-width="0.6"/>
<line x1="232.84" y1="349.90" x2="232.84" y2="367.40" stroke="rgb(14,14,14)" stroke-width="0.6"/>
<line x1="233.02" y1="349.90" x2="233.02" y2="367.40" stroke="rgb(12,12,12)" stroke-width="0.6"/>
<line x1="231.98" y1="349.90" x2="231.98" y2="367.40" stroke="rgb(11,11,11)" stroke-width="0.6"/>
<line x1="228.41" y1="349.90" x2="228.41" y2="367.40" stroke="rgb(78,78,78)" stroke-width="0.6"/>
<line x1="229.61" y1="349.90" x2="229.61" y2="367.40" stroke="rgb(19,19,19)" stroke-width="0.6"/>
<line x1="234.10" y1="349.90" x2="234.10" y2="367.40" stroke="rgb(78,78,78)" stroke-width="0.6"/>
<line x1="230.08" y1="349.90" x2="230.08" y2="367.40" stroke="rgb(86,86,86)" stroke-width="0.6"/>
<line x1="231.53" y1="349.90" x2="231.53" y2="367.40" stroke="rgb(61,61,61)" stroke-width="0.6"/>
<line x1="229.59" y1="349.90" x2="229.59" y2="367.40" stroke="rgb(84,84,84)" stroke-width="0.6"/>
<line x1="232.41" y1="349.90" x2="232.41" y2="367.40" stroke="rgb(86,86,86)" stroke-width="0.6"/>
<line x1="233.58" y1="349.90" x2="233.58" y2="367.40" stroke="rgb(26,26,26)" stroke-width="0.6"/>
<line x1="230.49" y1="349.90" x2="230.49" y2="367.40" stroke="rgb(14,14,14)" stroke-width="0.6"/>
<line x1="229.25" y1="349.90" x2="229.25" y2="367.40" stroke="rgb(5,5,5)" stroke-width="0.6"/>
<line x1="230.15" y1="349.90" x2="230.15" y2="367.40" stroke="rgb(54,54,54)" stroke-width="0.6"/>
<line x1="228.42" y1="349.90" x2="228.42" y2="367.40" stroke="rgb(61,61,61)" stroke-width="0.6"/>
<line x1="230.36" y1="349.90" x2="230.36" y2="367.40" stroke="rgb(27,27,27)" stroke-width="0.6"/>
<line x1="237.06" y1="349.90" x2="237.06" y2="367.40" stroke="rgb(43,43,43)" stroke-width="0.6"/>
<line x1="235.31" y1="349.90" x2="235.31" y2="367.40" stroke="rgb(43,43,43)" stroke-width="0.6"/>
<line x1="236.67" y1="349.90" x2="236.67" y2="367.40" stroke="rgb(5,5,5)" stroke-width="0.6"/>
<line x1="237.61" y1="349.90" x2="237.61" y2="367.40" stroke="rgb(2,2,2)" stroke-width="0.6"/>
<line x1="236.82" y1="349.90" x2="236.82" y2="367.40" stroke="rgb(76,76,76)" stroke-width="0.6"/>
<line x1="234.26" y1="349.90" x2="234.26" y2="367.40" stroke="rgb(70,70,70)" stroke-width="0.6"/>
<line x1="239.35" y1="349.90" x2="239.35" y2="367.40" stroke="rgb(103,103,103)" stroke-width="0.6"/>
<line x1="237.74" y1="349.90" x2="237.74" y2="367.40" stroke="rgb(45,45,45)" stroke-width="0.6"/>
<line x1="238.51" y1="349.90" x2="238.51" y2="367.40" stroke="rgb(145,145,145)" stroke-width="0.6"/>
<line x1="238.58" y1="349.90" x2="238.58" y2="367.40" stroke="rgb(123,123,123)" stroke-width="0.6"/>
<line x1="241.88" y1="349.90" x2="241.88" y2="367.40" stroke="rgb(143,143,143)" stroke-width="0.6"/>
<line x1="239.25" y1="349.90" x2="239.25" y2="367.40" stroke="rgb(79,79,79)" stroke-width="0.6"/>
<line x1="244.51" y1="349.90" x2="244.51" y2="367.40" stroke="rgb(69,69,69)" stroke-width="0.6"/>
<line x1="243.55" y1="349.90" x2="243.55" y2="367.40" stroke="rgb(67,67,67)" stroke-width="0.6"/>
<line x1="245.13" y1="349.90" x2="245.13" y2="367.40" stroke="rgb(77,77,77)" stroke-width="0.6"/>
<line x1="243.38" y1="349.90" x2="243.38" y2="367.40" stroke="rgb(85,85,85)" stroke-width="0.6"/>
<line x1="243.51" y1="349.90" x2="243.51" y2="367.40" stroke="rgb(30,30,30)" stroke-width="0.6"/>
<line x1="251.89" y1="349.90" x2="251.89" y2="367.40" stroke="rgb(140,140,140)" stroke-width="0.6"/>
<line x1="249.10" y1="349.90" x2="249.10" y2="367.40" stroke="rgb(141,141,141)" stroke-width="0.6"/>
<line x1="251.21" y1="349.90" x2="251.21" y2="367.40" stroke="rgb(74,74,74)" stroke-width="0.6"/>
<line x1="248.86" y1="349.90" x2="248.86" y2="367.40" stroke="rgb(59,59,59)" stroke-width="0.6"/>
<line x1="246.41" y1="349.90" x2="246.41" y2="367.40" stroke="rgb(56,56,56)" stroke-width="0.6"/>
<line x1="252.70" y1="349.90" x2="252.70" y2="367.40" stroke="rgb(149,149,149)" stroke-width="0.6"/>
<line x1="247.26" y1="349.90" x2="247.26" y2="367.40" stroke="rgb(45,45,45)" stroke-width="0.6"/>
<line x1="255.76" y1="349.90" x2="255.76" y2="367.40" stroke="rgb(98,98,98)" stroke-width="0.6"/>
<line x1="249.78" y1="349.90" x2="249.78" y2="367.40" stroke="rgb(66,66,66)" stroke-width="0.6"/>
<line x1="251.72" y1="349.90" x2="251.72" y2="367.40" stroke="rgb(130,130,130)" stroke-width="0.6"/>
<line x1="250.29" y1="349.90" x2="250.29" y2="367.40" stroke="rgb(86,86,86)" stroke-width="0.6"/>
<line x1="246.17" y1="349.90" x2="246.17" y2="367.40" stroke="rgb(140,140,140)" stroke-width="0.6"/>
<line x1="256.22" y1="349.90" x2="256.22" y2="367.40" stroke="rgb(94,94,94)" stroke-width="0.6"/>
<line x1="261.62" y1="349.90" x2="261.62" y2="367.40" stroke="rgb(54,54,54)" stroke-width="0.6"/>
<line x1="260.90" y1="349.90" x2="260.90" y2="367.40" stroke="rgb(144,144,144)" stroke-width="0.6"/>
<line x1="260.22" y1="349.90" x2="260.22" y2="367.40" stroke="rgb(126,126,126)" stroke-width="0.6"/>
<line x1="262.80" y1="349.90" x2="262.80" y2="367.40" stroke="rgb(39,39,39)" stroke-width="0.6"/>
<line x1="264.89" y1="349.90" x2="264.89" y2="367.40" stroke="rgb(76,76,76)" stroke-width="0.6"/>
<line x1="268.49" y1="349.90" x2="268.49" y2="367.40" stroke="rgb(40,40,40)" stroke-width="0.6"/>
<line x1="272.60" y1="349.90" x2="272.60" y2="367.40" stroke="rgb(76,76,76)" stroke-width="0.6"/>
<line x1="288.40" y1="349.90" x2="288.40" y2="367.40" stroke="#222" stroke-width="0.6"/>
<line x1="293.40" y1="349.90" x2="293.40" y2="367.40" stroke="#777" stroke-width="0.6"/>
<line x1="296.80" y1="349.90" x2="296.80" y2="367.40" stroke="#666" stroke-width="0.6"/>
<line x1="298.00" y1="349.90" x2="298.00" y2="367.40" stroke="#888" stroke-width="0.6"/>
<line x1="301.40" y1="349.90" x2="301.40" y2="367.40" stroke="#222" stroke-width="0.6"/>
<line x1="311.00" y1="349.90" x2="311.00" y2="367.40" stroke="#333" stroke-width="0.6"/>
<line x1="312.80" y1="349.90" x2="312.80" y2="367.40" stroke="#333" stroke-width="0.6"/>
<line x1="317.30" y1="349.90" x2="317.30" y2="367.40" stroke="#222" stroke-width="0.6"/>
<line x1="324.10" y1="349.90" x2="324.10" y2="367.40" stroke="#333" stroke-width="0.6"/>
<line x1="327.60" y1="349.90" x2="327.60" y2="367.40" stroke="#444" stroke-width="0.6"/>
<line x1="332.10" y1="349.90" x2="332.10" y2="367.40" stroke="#333" stroke-width="0.6"/>
<line x1="333.70" y1="349.90" x2="333.70" y2="367.40" stroke="#444" stroke-width="0.6"/>
<line x1="338.90" y1="349.90" x2="338.90" y2="367.40" stroke="#333" stroke-width="0.6"/>
<line x1="342.30" y1="349.90" x2="342.30" y2="367.40" stroke="#444" stroke-width="0.6"/>
<line x1="343.50" y1="349.90" x2="343.50" y2="367.40" stroke="#333" stroke-width="0.6"/>
<line x1="344.60" y1="349.90" x2="344.60" y2="367.40" stroke="#222" stroke-width="0.6"/>
<rect x="228.20" y="367.40" width="126.50" height="4.60" fill="#fff" stroke="#d8d8d8" stroke-width="0.6"/>
<rect x="228.20" y="367.40" width="8.80" height="4.60" fill="#dc3c4c"/>
<rect x="237.00" y="367.40" width="9.80" height="4.60" fill="#e24a5c"/>
<rect x="246.80" y="367.40" width="17.00" height="4.60" fill="#ea6678"/>
<rect x="263.80" y="367.40" width="25.10" height="4.60" fill="#f1b2d8"/>
<rect x="288.90" y="367.40" width="20.00" height="4.60" fill="#d4d4f4"/>
<rect x="308.90" y="367.40" width="8.40" height="4.60" fill="#c6c6f0"/>
<rect x="317.30" y="367.40" width="8.00" height="4.60" fill="#8282d8"/>
<rect x="325.30" y="367.40" width="19.20" height="4.60" fill="#4a4ac0"/>
<rect x="344.50" y="367.40" width="4.40" height="4.60" fill="#3434a8"/>
<rect x="228.20" y="372.00" width="126.50" height="36.50" fill="none" stroke="#d8d8d8" stroke-width="0.6"/>
<line x1="228.20" y1="373.70" x2="354.70" y2="373.70" stroke="#f0f0f0" stroke-width="0.5"/>
<text x="226.60" y="374.80" font-size="3.9" text-anchor="end" fill="#111">5.0</text>
<line x1="228.20" y1="381.95" x2="354.70" y2="381.95" stroke="#f0f0f0" stroke-width="0.5"/>
<text x="226.60" y="383.05" font-size="3.9" text-anchor="end" fill="#111">2.5</text>
<line x1="228.20" y1="390.20" x2="354.70" y2="390.20" stroke="#f0f0f0" stroke-width="0.5"/>
<text x="226.60" y="391.30" font-size="3.9" text-anchor="end" fill="#111">0.0</text>
<line x1="228.20" y1="398.45" x2="354.70" y2="398.45" stroke="#f0f0f0" stroke-width="0.5"/>
<text x="226.60" y="399.55" font-size="3.9" text-anchor="end" fill="#111">−2.5</text>
<line x1="228.20" y1="406.70" x2="354.70" y2="406.70" stroke="#f0f0f0" stroke-width="0.5"/>
<text x="226.60" y="407.80" font-size="3.9" text-anchor="end" fill="#111">−5.0</text>
<path d="M228.20,390.20 L228.20,381.00 L229.50,383.50 L231.70,386.00 L236.00,387.30 L246.10,388.40 L263.00,389.40 L280.00,389.90 L288.40,390.20 L300.00,390.50 L318.50,390.90 L330.00,391.60 L337.90,392.60 L343.00,393.60 L346.00,394.80 L347.50,396.50 L348.30,400.00 L348.70,406.80 L348.90,406.80 L348.90,390.20 Z" fill="#c4c4c4" stroke="none" stroke-width="1"/>
<line x1="228.20" y1="390.20" x2="348.90" y2="390.20" stroke="#aaaaaa" stroke-width="0.4"/>
<text x="229.20" y="375.40" font-size="2.95" fill="#e04040">'N' (positively correlated)</text>
<text x="263.00" y="391.20" font-size="2.95" fill="#333">Zero cross at 10H1</text>
<text x="293.20" y="407.50" font-size="2.95" fill="#3040c0">'Y' (negatively correlated)</text>
<text x="228.20" y="412.60" font-size="3.9" text-anchor="middle" fill="#111">0</text>
<text x="243.32" y="412.60" font-size="3.9" text-anchor="middle" fill="#111">2500</text>
<text x="258.45" y="412.60" font-size="3.9" text-anchor="middle" fill="#111">5000</text>
<text x="273.57" y="412.60" font-size="3.9" text-anchor="middle" fill="#111">7500</text>
<text x="288.70" y="412.60" font-size="3.9" text-anchor="middle" fill="#111">10,000</text>
<text x="303.82" y="412.60" font-size="3.9" text-anchor="middle" fill="#111">12,500</text>
<text x="318.95" y="412.60" font-size="3.9" text-anchor="middle" fill="#111">15,000</text>
<text x="334.07" y="412.60" font-size="3.9" text-anchor="middle" fill="#111">17,500</text>
<text x="349.20" y="412.60" font-size="3.9" text-anchor="middle" fill="#111">20,000</text>
<text x="288.60" y="419.10" font-size="2.95" text-anchor="middle" fill="#111">Rank in ordered dataset</text>
<text transform="translate(213.90,327.00) rotate(-90)" font-size="3.25" text-anchor="middle" fill="#111">Enrichment score (ES)</text>
<text transform="translate(213.90,394.00) rotate(-90)" font-size="3.25" text-anchor="middle" fill="#111">Ranked list metric (Signal2Noise)</text>
<rect x="240.20" y="423.00" width="101.20" height="5.40" fill="#fff" stroke="#c4c4c4" stroke-width="0.5"/>
<line x1="240.80" y1="425.70" x2="245.40" y2="425.70" stroke="#7cc623" stroke-width="0.9"/>
<text x="246.70" y="426.95" font-size="3.5" fill="#333">Enrichment profile</text>
<line x1="279.00" y1="425.70" x2="283.60" y2="425.70" stroke="#333" stroke-width="0.6"/>
<text x="284.90" y="426.95" font-size="3.5" fill="#333">Hits</text>
<line x1="292.00" y1="425.70" x2="295.70" y2="425.70" stroke="#e4e4e4" stroke-width="0.6"/>
<line x1="299.40" y1="425.70" x2="303.20" y2="425.70" stroke="#aaa" stroke-width="0.6"/>
<text x="304.10" y="426.95" font-size="3.5" fill="#333">Ranking metric scores</text>
<text x="282.30" y="308.60" font-size="7.0">FDR &lt; 0.0001</text>
<text x="9.30" y="252.00" font-size="9.5">120 hypoxia-induced genes in PC3 cells</text>
<text x="66.70" y="264.40" font-size="9.5" text-anchor="middle">Normoxia</text>
<text x="129.30" y="264.40" font-size="9.5" text-anchor="middle">Hypoxia</text>
<line x1="29.60" y1="268.60" x2="97.00" y2="268.60" stroke="#8a8a8a" stroke-width="1.2"/>
<line x1="98.80" y1="268.60" x2="166.00" y2="268.60" stroke="#8a8a8a" stroke-width="1.2"/>
<g shape-rendering="crispEdges">
<rect x="29.50" y="273.30" width="16.30" height="1.28" fill="#f4f5fc"/>
<rect x="46.70" y="273.30" width="16.30" height="1.28" fill="#e1e3f6"/>
<rect x="63.90" y="273.30" width="16.30" height="1.28" fill="#e2e4f6"/>
<rect x="81.10" y="273.30" width="16.30" height="1.28" fill="#edeef9"/>
<rect x="98.30" y="273.30" width="16.30" height="1.28" fill="#fbd6d6"/>
<rect x="115.50" y="273.30" width="16.30" height="1.28" fill="#fbd4d4"/>
<rect x="132.70" y="273.30" width="16.30" height="1.28" fill="#ebecf9"/>
<rect x="149.90" y="273.30" width="16.30" height="1.28" fill="#f8f9fd"/>
<rect x="29.50" y="274.56" width="16.30" height="1.28" fill="#fef8f8"/>
<rect x="46.70" y="274.56" width="16.30" height="1.28" fill="#fafafd"/>
<rect x="63.90" y="274.56" width="16.30" height="1.28" fill="#fffefe"/>
<rect x="81.10" y="274.56" width="16.30" height="1.28" fill="#fcfcfe"/>
<rect x="98.30" y="274.56" width="16.30" height="1.28" fill="#fbcdcd"/>
<rect x="115.50" y="274.56" width="16.30" height="1.28" fill="#fbd1d1"/>
<rect x="132.70" y="274.56" width="16.30" height="1.28" fill="#f3f4fb"/>
<rect x="149.90" y="274.56" width="16.30" height="1.28" fill="#fef7f7"/>
<rect x="29.50" y="275.82" width="16.30" height="1.28" fill="#e5e6f7"/>
<rect x="46.70" y="275.82" width="16.30" height="1.28" fill="#e3e4f6"/>
<rect x="63.90" y="275.82" width="16.30" height="1.28" fill="#e6e7f7"/>
<rect x="81.10" y="275.82" width="16.30" height="1.28" fill="#fffafa"/>
<rect x="98.30" y="275.82" width="16.30" height="1.28" fill="#fbd5d5"/>
<rect x="115.50" y="275.82" width="16.30" height="1.28" fill="#fdebeb"/>
<rect x="132.70" y="275.82" width="16.30" height="1.28" fill="#f8f8fd"/>
<rect x="149.90" y="275.82" width="16.30" height="1.28" fill="#fffafa"/>
<rect x="29.50" y="277.08" width="16.30" height="1.28" fill="#d5d7f2"/>
<rect x="46.70" y="277.08" width="16.30" height="1.28" fill="#ebecf9"/>
<rect x="63.90" y="277.08" width="16.30" height="1.28" fill="#c7cbee"/>
<rect x="81.10" y="277.08" width="16.30" height="1.28" fill="#edeef9"/>
<rect x="98.30" y="277.08" width="16.30" height="1.28" fill="#fcdcdc"/>
<rect x="115.50" y="277.08" width="16.30" height="1.28" fill="#fde5e5"/>
<rect x="132.70" y="277.08" width="16.30" height="1.28" fill="#f5f5fc"/>
<rect x="149.90" y="277.08" width="16.30" height="1.28" fill="#f4f4fb"/>
<rect x="29.50" y="278.34" width="16.30" height="1.28" fill="#efeffa"/>
<rect x="46.70" y="278.34" width="16.30" height="1.28" fill="#eeeffa"/>
<rect x="63.90" y="278.34" width="16.30" height="1.28" fill="#fff9f9"/>
<rect x="81.10" y="278.34" width="16.30" height="1.28" fill="#e8eaf8"/>
<rect x="98.30" y="278.34" width="16.30" height="1.28" fill="#fac9c9"/>
<rect x="115.50" y="278.34" width="16.30" height="1.28" fill="#fcdede"/>
<rect x="132.70" y="278.34" width="16.30" height="1.28" fill="#f3f3fb"/>
<rect x="149.90" y="278.34" width="16.30" height="1.28" fill="#feefef"/>
<rect x="29.50" y="279.60" width="16.30" height="1.28" fill="#f2f3fb"/>
<rect x="46.70" y="279.60" width="16.30" height="1.28" fill="#cfd2f0"/>
<rect x="63.90" y="279.60" width="16.30" height="1.28" fill="#e4e5f6"/>
<rect x="81.10" y="279.60" width="16.30" height="1.28" fill="#dddff4"/>
<rect x="98.30" y="279.60" width="16.30" height="1.28" fill="#fbcdcd"/>
<rect x="115.50" y="279.60" width="16.30" height="1.28" fill="#fef5f5"/>
<rect x="132.70" y="279.60" width="16.30" height="1.28" fill="#fffefe"/>
<rect x="149.90" y="279.60" width="16.30" height="1.28" fill="#e3e4f6"/>
<rect x="29.50" y="280.86" width="16.30" height="1.28" fill="#e2e4f6"/>
<rect x="46.70" y="280.86" width="16.30" height="1.28" fill="#e2e4f6"/>
<rect x="63.90" y="280.86" width="16.30" height="1.28" fill="#e8e9f8"/>
<rect x="81.10" y="280.86" width="16.30" height="1.28" fill="#fffcfc"/>
<rect x="98.30" y="280.86" width="16.30" height="1.28" fill="#fbd1d1"/>
<rect x="115.50" y="280.86" width="16.30" height="1.28" fill="#fcd7d7"/>
<rect x="132.70" y="280.86" width="16.30" height="1.28" fill="#f5f5fc"/>
<rect x="149.90" y="280.86" width="16.30" height="1.28" fill="#f9f9fd"/>
<rect x="29.50" y="282.12" width="16.30" height="1.28" fill="#f8f9fd"/>
<rect x="46.70" y="282.12" width="16.30" height="1.28" fill="#fcfcfe"/>
<rect x="63.90" y="282.12" width="16.30" height="1.28" fill="#fbfbfe"/>
<rect x="81.10" y="282.12" width="16.30" height="1.28" fill="#f9f9fd"/>
<rect x="98.30" y="282.12" width="16.30" height="1.28" fill="#fef9f9"/>
<rect x="115.50" y="282.12" width="16.30" height="1.28" fill="#fff9f9"/>
<rect x="132.70" y="282.12" width="16.30" height="1.28" fill="#fbfcfe"/>
<rect x="149.90" y="282.12" width="16.30" height="1.28" fill="#f9f9fd"/>
<rect x="29.50" y="283.38" width="16.30" height="1.28" fill="#e8e9f8"/>
<rect x="46.70" y="283.38" width="16.30" height="1.28" fill="#fffefe"/>
<rect x="63.90" y="283.38" width="16.30" height="1.28" fill="#fdfdfe"/>
<rect x="81.10" y="283.38" width="16.30" height="1.28" fill="#fef4f4"/>
<rect x="98.30" y="283.38" width="16.30" height="1.28" fill="#fac2c2"/>
<rect x="115.50" y="283.38" width="16.30" height="1.28" fill="#fac4c4"/>
<rect x="132.70" y="283.38" width="16.30" height="1.28" fill="#fef6f6"/>
<rect x="149.90" y="283.38" width="16.30" height="1.28" fill="#f3f3fb"/>
<rect x="29.50" y="284.64" width="16.30" height="1.28" fill="#ffffff"/>
<rect x="46.70" y="284.64" width="16.30" height="1.28" fill="#fdfdfe"/>
<rect x="63.90" y="284.64" width="16.30" height="1.28" fill="#fafafd"/>
<rect x="81.10" y="284.64" width="16.30" height="1.28" fill="#fffcfc"/>
<rect x="98.30" y="284.64" width="16.30" height="1.28" fill="#fef5f5"/>
<rect x="115.50" y="284.64" width="16.30" height="1.28" fill="#fef8f8"/>
<rect x="132.70" y="284.64" width="16.30" height="1.28" fill="#fbfbfe"/>
<rect x="149.90" y="284.64" width="16.30" height="1.28" fill="#ffffff"/>
<rect x="29.50" y="285.90" width="16.30" height="1.28" fill="#dadcf3"/>
<rect x="46.70" y="285.90" width="16.30" height="1.28" fill="#d5d7f2"/>
<rect x="63.90" y="285.90" width="16.30" height="1.28" fill="#d2d5f1"/>
<rect x="81.10" y="285.90" width="16.30" height="1.28" fill="#d6d9f2"/>
<rect x="98.30" y="285.90" width="16.30" height="1.28" fill="#fcdfdf"/>
<rect x="115.50" y="285.90" width="16.30" height="1.28" fill="#fde2e2"/>
<rect x="132.70" y="285.90" width="16.30" height="1.28" fill="#e6e7f7"/>
<rect x="149.90" y="285.90" width="16.30" height="1.28" fill="#e2e4f6"/>
<rect x="29.50" y="287.16" width="16.30" height="1.28" fill="#fbfbfe"/>
<rect x="46.70" y="287.16" width="16.30" height="1.28" fill="#fcfdfe"/>
<rect x="63.90" y="287.16" width="16.30" height="1.28" fill="#f2f3fb"/>
<rect x="81.10" y="287.16" width="16.30" height="1.28" fill="#fef7f7"/>
<rect x="98.30" y="287.16" width="16.30" height="1.28" fill="#f9b7b7"/>
<rect x="115.50" y="287.16" width="16.30" height="1.28" fill="#fac6c6"/>
<rect x="132.70" y="287.16" width="16.30" height="1.28" fill="#fef7f7"/>
<rect x="149.90" y="287.16" width="16.30" height="1.28" fill="#fef8f8"/>
<rect x="29.50" y="288.42" width="16.30" height="1.28" fill="#dcdef4"/>
<rect x="46.70" y="288.42" width="16.30" height="1.28" fill="#dcdef4"/>
<rect x="63.90" y="288.42" width="16.30" height="1.28" fill="#fafafd"/>
<rect x="81.10" y="288.42" width="16.30" height="1.28" fill="#e5e7f7"/>
<rect x="98.30" y="288.42" width="16.30" height="1.28" fill="#fce1e1"/>
<rect x="115.50" y="288.42" width="16.30" height="1.28" fill="#fbd2d2"/>
<rect x="132.70" y="288.42" width="16.30" height="1.28" fill="#fbfbfe"/>
<rect x="149.90" y="288.42" width="16.30" height="1.28" fill="#fdfdfe"/>
<rect x="29.50" y="289.68" width="16.30" height="1.28" fill="#e1e3f6"/>
<rect x="46.70" y="289.68" width="16.30" height="1.28" fill="#e4e6f7"/>
<rect x="63.90" y="289.68" width="16.30" height="1.28" fill="#e6e7f7"/>
<rect x="81.10" y="289.68" width="16.30" height="1.28" fill="#f3f3fb"/>
<rect x="98.30" y="289.68" width="16.30" height="1.28" fill="#fde4e4"/>
<rect x="115.50" y="289.68" width="16.30" height="1.28" fill="#fbd2d2"/>
<rect x="132.70" y="289.68" width="16.30" height="1.28" fill="#f2f3fb"/>
<rect x="149.90" y="289.68" width="16.30" height="1.28" fill="#fff9f9"/>
<rect x="29.50" y="290.94" width="16.30" height="1.28" fill="#e7e8f7"/>
<rect x="46.70" y="290.94" width="16.30" height="1.28" fill="#e9eaf8"/>
<rect x="63.90" y="290.94" width="16.30" height="1.28" fill="#e3e5f6"/>
<rect x="81.10" y="290.94" width="16.30" height="1.28" fill="#f0f1fa"/>
<rect x="98.30" y="290.94" width="16.30" height="1.28" fill="#fac6c6"/>
<rect x="115.50" y="290.94" width="16.30" height="1.28" fill="#fcdada"/>
<rect x="132.70" y="290.94" width="16.30" height="1.28" fill="#fffbfb"/>
<rect x="149.90" y="290.94" width="16.30" height="1.28" fill="#e2e3f6"/>
<rect x="29.50" y="292.20" width="16.30" height="1.28" fill="#fbfbfe"/>
<rect x="46.70" y="292.20" width="16.30" height="1.28" fill="#fdfdfe"/>
<rect x="63.90" y="292.20" width="16.30" height="1.28" fill="#fefeff"/>
<rect x="81.10" y="292.20" width="16.30" height="1.28" fill="#f9fafd"/>
<rect x="98.30" y="292.20" width="16.30" height="1.28" fill="#fef6f6"/>
<rect x="115.50" y="292.20" width="16.30" height="1.28" fill="#fef8f8"/>
<rect x="132.70" y="292.20" width="16.30" height="1.28" fill="#fcfcfe"/>
<rect x="149.90" y="292.20" width="16.30" height="1.28" fill="#fffcfc"/>
<rect x="29.50" y="293.46" width="16.30" height="1.28" fill="#e8eaf8"/>
<rect x="46.70" y="293.46" width="16.30" height="1.28" fill="#f7f7fc"/>
<rect x="63.90" y="293.46" width="16.30" height="1.28" fill="#fffdfd"/>
<rect x="81.10" y="293.46" width="16.30" height="1.28" fill="#fafbfe"/>
<rect x="98.30" y="293.46" width="16.30" height="1.28" fill="#fac1c1"/>
<rect x="115.50" y="293.46" width="16.30" height="1.28" fill="#fbd2d2"/>
<rect x="132.70" y="293.46" width="16.30" height="1.28" fill="#f7f7fc"/>
<rect x="149.90" y="293.46" width="16.30" height="1.28" fill="#fafafd"/>
<rect x="29.50" y="294.72" width="16.30" height="1.28" fill="#f8f9fd"/>
<rect x="46.70" y="294.72" width="16.30" height="1.28" fill="#eff0fa"/>
<rect x="63.90" y="294.72" width="16.30" height="1.28" fill="#fffafa"/>
<rect x="81.10" y="294.72" width="16.30" height="1.28" fill="#fffdfd"/>
<rect x="98.30" y="294.72" width="16.30" height="1.28" fill="#facaca"/>
<rect x="115.50" y="294.72" width="16.30" height="1.28" fill="#fcd7d7"/>
<rect x="132.70" y="294.72" width="16.30" height="1.28" fill="#fdfdfe"/>
<rect x="149.90" y="294.72" width="16.30" height="1.28" fill="#fdeaea"/>
<rect x="29.50" y="295.98" width="16.30" height="1.28" fill="#e6e7f7"/>
<rect x="46.70" y="295.98" width="16.30" height="1.28" fill="#e3e5f6"/>
<rect x="63.90" y="295.98" width="16.30" height="1.28" fill="#eaebf8"/>
<rect x="81.10" y="295.98" width="16.30" height="1.28" fill="#ffffff"/>
<rect x="98.30" y="295.98" width="16.30" height="1.28" fill="#fde7e7"/>
<rect x="115.50" y="295.98" width="16.30" height="1.28" fill="#fcd7d7"/>
<rect x="132.70" y="295.98" width="16.30" height="1.28" fill="#f2f2fb"/>
<rect x="149.90" y="295.98" width="16.30" height="1.28" fill="#fde9e9"/>
<rect x="29.50" y="297.24" width="16.30" height="1.28" fill="#e3e4f6"/>
<rect x="46.70" y="297.24" width="16.30" height="1.28" fill="#d4d7f2"/>
<rect x="63.90" y="297.24" width="16.30" height="1.28" fill="#e2e3f6"/>
<rect x="81.10" y="297.24" width="16.30" height="1.28" fill="#d8dbf3"/>
<rect x="98.30" y="297.24" width="16.30" height="1.28" fill="#fce1e1"/>
<rect x="115.50" y="297.24" width="16.30" height="1.28" fill="#fcd8d8"/>
<rect x="132.70" y="297.24" width="16.30" height="1.28" fill="#f6f6fc"/>
<rect x="149.90" y="297.24" width="16.30" height="1.28" fill="#fafbfe"/>
<rect x="29.50" y="298.50" width="16.30" height="1.28" fill="#dfe1f5"/>
<rect x="46.70" y="298.50" width="16.30" height="1.28" fill="#f6f6fc"/>
<rect x="63.90" y="298.50" width="16.30" height="1.28" fill="#f3f3fb"/>
<rect x="81.10" y="298.50" width="16.30" height="1.28" fill="#dcdef4"/>
<rect x="98.30" y="298.50" width="16.30" height="1.28" fill="#fef5f5"/>
<rect x="115.50" y="298.50" width="16.30" height="1.28" fill="#fbcfcf"/>
<rect x="132.70" y="298.50" width="16.30" height="1.28" fill="#e1e2f5"/>
<rect x="149.90" y="298.50" width="16.30" height="1.28" fill="#f3f3fb"/>
<rect x="29.50" y="299.76" width="16.30" height="1.28" fill="#ebecf9"/>
<rect x="46.70" y="299.76" width="16.30" height="1.28" fill="#eff0fa"/>
<rect x="63.90" y="299.76" width="16.30" height="1.28" fill="#e7e8f7"/>
<rect x="81.10" y="299.76" width="16.30" height="1.28" fill="#dddff4"/>
<rect x="98.30" y="299.76" width="16.30" height="1.28" fill="#fef0f0"/>
<rect x="115.50" y="299.76" width="16.30" height="1.28" fill="#fbd0d0"/>
<rect x="132.70" y="299.76" width="16.30" height="1.28" fill="#eff0fa"/>
<rect x="149.90" y="299.76" width="16.30" height="1.28" fill="#f1f1fa"/>
<rect x="29.50" y="301.02" width="16.30" height="1.28" fill="#f9f9fd"/>
<rect x="46.70" y="301.02" width="16.30" height="1.28" fill="#ebecf9"/>
<rect x="63.90" y="301.02" width="16.30" height="1.28" fill="#e3e5f6"/>
<rect x="81.10" y="301.02" width="16.30" height="1.28" fill="#f1f2fb"/>
<rect x="98.30" y="301.02" width="16.30" height="1.28" fill="#fbcece"/>
<rect x="115.50" y="301.02" width="16.30" height="1.28" fill="#fcdada"/>
<rect x="132.70" y="301.02" width="16.30" height="1.28" fill="#f2f2fb"/>
<rect x="149.90" y="301.02" width="16.30" height="1.28" fill="#fffafa"/>
<rect x="29.50" y="302.28" width="16.30" height="1.28" fill="#d9dbf3"/>
<rect x="46.70" y="302.28" width="16.30" height="1.28" fill="#d8daf3"/>
<rect x="63.90" y="302.28" width="16.30" height="1.28" fill="#cdd0ef"/>
<rect x="81.10" y="302.28" width="16.30" height="1.28" fill="#c8cbee"/>
<rect x="98.30" y="302.28" width="16.30" height="1.28" fill="#fde2e2"/>
<rect x="115.50" y="302.28" width="16.30" height="1.28" fill="#fdeaea"/>
<rect x="132.70" y="302.28" width="16.30" height="1.28" fill="#e9eaf8"/>
<rect x="149.90" y="302.28" width="16.30" height="1.28" fill="#fefeff"/>
<rect x="29.50" y="303.54" width="16.30" height="1.28" fill="#e5e7f7"/>
<rect x="46.70" y="303.54" width="16.30" height="1.28" fill="#e5e6f7"/>
<rect x="63.90" y="303.54" width="16.30" height="1.28" fill="#e9eaf8"/>
<rect x="81.10" y="303.54" width="16.30" height="1.28" fill="#eaebf8"/>
<rect x="98.30" y="303.54" width="16.30" height="1.28" fill="#fcdede"/>
<rect x="115.50" y="303.54" width="16.30" height="1.28" fill="#facaca"/>
<rect x="132.70" y="303.54" width="16.30" height="1.28" fill="#fef8f8"/>
<rect x="149.90" y="303.54" width="16.30" height="1.28" fill="#f8f9fd"/>
<rect x="29.50" y="304.80" width="16.30" height="1.28" fill="#e3e4f6"/>
<rect x="46.70" y="304.80" width="16.30" height="1.28" fill="#edeef9"/>
<rect x="63.90" y="304.80" width="16.30" height="1.28" fill="#e2e4f6"/>
<rect x="81.10" y="304.80" width="16.30" height="1.28" fill="#fafafd"/>
<rect x="98.30" y="304.80" width="16.30" height="1.28" fill="#fde5e5"/>
<rect x="115.50" y="304.80" width="16.30" height="1.28" fill="#fde4e4"/>
<rect x="132.70" y="304.80" width="16.30" height="1.28" fill="#fefeff"/>
<rect x="149.90" y="304.80" width="16.30" height="1.28" fill="#fef7f7"/>
<rect x="29.50" y="306.06" width="16.30" height="1.28" fill="#f6f7fc"/>
<rect x="46.70" y="306.06" width="16.30" height="1.28" fill="#edeef9"/>
<rect x="63.90" y="306.06" width="16.30" height="1.28" fill="#fbfbfe"/>
<rect x="81.10" y="306.06" width="16.30" height="1.28" fill="#f9f9fd"/>
<rect x="98.30" y="306.06" width="16.30" height="1.28" fill="#facaca"/>
<rect x="115.50" y="306.06" width="16.30" height="1.28" fill="#fde5e5"/>
<rect x="132.70" y="306.06" width="16.30" height="1.28" fill="#f2f2fb"/>
<rect x="149.90" y="306.06" width="16.30" height="1.28" fill="#eeeffa"/>
<rect x="29.50" y="307.32" width="16.30" height="1.28" fill="#eaebf8"/>
<rect x="46.70" y="307.32" width="16.30" height="1.28" fill="#f5f6fc"/>
<rect x="63.90" y="307.32" width="16.30" height="1.28" fill="#e4e6f7"/>
<rect x="81.10" y="307.32" width="16.30" height="1.28" fill="#f6f6fc"/>
<rect x="98.30" y="307.32" width="16.30" height="1.28" fill="#fce0e0"/>
<rect x="115.50" y="307.32" width="16.30" height="1.28" fill="#fbcccc"/>
<rect x="132.70" y="307.32" width="16.30" height="1.28" fill="#fafafd"/>
<rect x="149.90" y="307.32" width="16.30" height="1.28" fill="#fef5f5"/>
<rect x="29.50" y="308.58" width="16.30" height="1.28" fill="#f8f8fd"/>
<rect x="46.70" y="308.58" width="16.30" height="1.28" fill="#f7f7fc"/>
<rect x="63.90" y="308.58" width="16.30" height="1.28" fill="#fbfbfe"/>
<rect x="81.10" y="308.58" width="16.30" height="1.28" fill="#fefeff"/>
<rect x="98.30" y="308.58" width="16.30" height="1.28" fill="#fffdfd"/>
<rect x="115.50" y="308.58" width="16.30" height="1.28" fill="#fffefe"/>
<rect x="132.70" y="308.58" width="16.30" height="1.28" fill="#fffdfd"/>
<rect x="149.90" y="308.58" width="16.30" height="1.28" fill="#fdfdfe"/>
<rect x="29.50" y="309.84" width="16.30" height="1.28" fill="#edeef9"/>
<rect x="46.70" y="309.84" width="16.30" height="1.28" fill="#eeeffa"/>
<rect x="63.90" y="309.84" width="16.30" height="1.28" fill="#dcdef4"/>
<rect x="81.10" y="309.84" width="16.30" height="1.28" fill="#cfd1f0"/>
<rect x="98.30" y="309.84" width="16.30" height="1.28" fill="#fcdcdc"/>
<rect x="115.50" y="309.84" width="16.30" height="1.28" fill="#fef2f2"/>
<rect x="132.70" y="309.84" width="16.30" height="1.28" fill="#f5f6fc"/>
<rect x="149.90" y="309.84" width="16.30" height="1.28" fill="#e4e5f6"/>
<rect x="29.50" y="311.10" width="16.30" height="1.28" fill="#fdfdfe"/>
<rect x="46.70" y="311.10" width="16.30" height="1.28" fill="#fefeff"/>
<rect x="63.90" y="311.10" width="16.30" height="1.28" fill="#fffdfd"/>
<rect x="81.10" y="311.10" width="16.30" height="1.28" fill="#fefeff"/>
<rect x="98.30" y="311.10" width="16.30" height="1.28" fill="#fef6f6"/>
<rect x="115.50" y="311.10" width="16.30" height="1.28" fill="#fef3f3"/>
<rect x="132.70" y="311.10" width="16.30" height="1.28" fill="#fffafa"/>
<rect x="149.90" y="311.10" width="16.30" height="1.28" fill="#fffdfd"/>
<rect x="29.50" y="312.36" width="16.30" height="1.28" fill="#f5f6fc"/>
<rect x="46.70" y="312.36" width="16.30" height="1.28" fill="#f6f6fc"/>
<rect x="63.90" y="312.36" width="16.30" height="1.28" fill="#e6e8f7"/>
<rect x="81.10" y="312.36" width="16.30" height="1.28" fill="#d7d9f2"/>
<rect x="98.30" y="312.36" width="16.30" height="1.28" fill="#fbcccc"/>
<rect x="115.50" y="312.36" width="16.30" height="1.28" fill="#fce0e0"/>
<rect x="132.70" y="312.36" width="16.30" height="1.28" fill="#fffefe"/>
<rect x="149.90" y="312.36" width="16.30" height="1.28" fill="#fcfcfe"/>
<rect x="29.50" y="313.62" width="16.30" height="1.28" fill="#dfe1f5"/>
<rect x="46.70" y="313.62" width="16.30" height="1.28" fill="#f5f5fc"/>
<rect x="63.90" y="313.62" width="16.30" height="1.28" fill="#fffefe"/>
<rect x="81.10" y="313.62" width="16.30" height="1.28" fill="#f2f3fb"/>
<rect x="98.30" y="313.62" width="16.30" height="1.28" fill="#fcdcdc"/>
<rect x="115.50" y="313.62" width="16.30" height="1.28" fill="#fde3e3"/>
<rect x="132.70" y="313.62" width="16.30" height="1.28" fill="#fdeded"/>
<rect x="149.90" y="313.62" width="16.30" height="1.28" fill="#fef9f9"/>
<rect x="29.50" y="314.88" width="16.30" height="1.28" fill="#f9fafd"/>
<rect x="46.70" y="314.88" width="16.30" height="1.28" fill="#fcfcfe"/>
<rect x="63.90" y="314.88" width="16.30" height="1.28" fill="#fbfcfe"/>
<rect x="81.10" y="314.88" width="16.30" height="1.28" fill="#f8f8fd"/>
<rect x="98.30" y="314.88" width="16.30" height="1.28" fill="#fffafa"/>
<rect x="115.50" y="314.88" width="16.30" height="1.28" fill="#fef8f8"/>
<rect x="132.70" y="314.88" width="16.30" height="1.28" fill="#fcfcfe"/>
<rect x="149.90" y="314.88" width="16.30" height="1.28" fill="#fffdfd"/>
<rect x="29.50" y="316.14" width="16.30" height="1.28" fill="#f4f5fc"/>
<rect x="46.70" y="316.14" width="16.30" height="1.28" fill="#e4e6f7"/>
<rect x="63.90" y="316.14" width="16.30" height="1.28" fill="#fff9f9"/>
<rect x="81.10" y="316.14" width="16.30" height="1.28" fill="#fffefe"/>
<rect x="98.30" y="316.14" width="16.30" height="1.28" fill="#fac6c6"/>
<rect x="115.50" y="316.14" width="16.30" height="1.28" fill="#fbd6d6"/>
<rect x="132.70" y="316.14" width="16.30" height="1.28" fill="#eeeffa"/>
<rect x="149.90" y="316.14" width="16.30" height="1.28" fill="#f5f6fc"/>
<rect x="29.50" y="317.40" width="16.30" height="1.28" fill="#ebecf9"/>
<rect x="46.70" y="317.40" width="16.30" height="1.28" fill="#e5e6f7"/>
<rect x="63.90" y="317.40" width="16.30" height="1.28" fill="#fffbfb"/>
<rect x="81.10" y="317.40" width="16.30" height="1.28" fill="#f9f9fd"/>
<rect x="98.30" y="317.40" width="16.30" height="1.28" fill="#fbd1d1"/>
<rect x="115.50" y="317.40" width="16.30" height="1.28" fill="#fde5e5"/>
<rect x="132.70" y="317.40" width="16.30" height="1.28" fill="#e6e7f7"/>
<rect x="149.90" y="317.40" width="16.30" height="1.28" fill="#fef6f6"/>
<rect x="29.50" y="318.66" width="16.30" height="1.28" fill="#fcfcfe"/>
<rect x="46.70" y="318.66" width="16.30" height="1.28" fill="#fafafd"/>
<rect x="63.90" y="318.66" width="16.30" height="1.28" fill="#fcfcfe"/>
<rect x="81.10" y="318.66" width="16.30" height="1.28" fill="#fcfdfe"/>
<rect x="98.30" y="318.66" width="16.30" height="1.28" fill="#fef4f4"/>
<rect x="115.50" y="318.66" width="16.30" height="1.28" fill="#fef6f6"/>
<rect x="132.70" y="318.66" width="16.30" height="1.28" fill="#ffffff"/>
<rect x="149.90" y="318.66" width="16.30" height="1.28" fill="#ffffff"/>
<rect x="29.50" y="319.92" width="16.30" height="1.28" fill="#dbddf4"/>
<rect x="46.70" y="319.92" width="16.30" height="1.28" fill="#dee0f5"/>
<rect x="63.90" y="319.92" width="16.30" height="1.28" fill="#ebecf9"/>
<rect x="81.10" y="319.92" width="16.30" height="1.28" fill="#e9eaf8"/>
<rect x="98.30" y="319.92" width="16.30" height="1.28" fill="#fdeded"/>
<rect x="115.50" y="319.92" width="16.30" height="1.28" fill="#fde4e4"/>
<rect x="132.70" y="319.92" width="16.30" height="1.28" fill="#ffffff"/>
<rect x="149.90" y="319.92" width="16.30" height="1.28" fill="#fef7f7"/>
<rect x="29.50" y="321.18" width="16.30" height="1.28" fill="#fcfcfe"/>
<rect x="46.70" y="321.18" width="16.30" height="1.28" fill="#fbfcfe"/>
<rect x="63.90" y="321.18" width="16.30" height="1.28" fill="#fbfbfe"/>
<rect x="81.10" y="321.18" width="16.30" height="1.28" fill="#f8f8fd"/>
<rect x="98.30" y="321.18" width="16.30" height="1.28" fill="#fffafa"/>
<rect x="115.50" y="321.18" width="16.30" height="1.28" fill="#fef8f8"/>
<rect x="132.70" y="321.18" width="16.30" height="1.28" fill="#f9f9fd"/>
<rect x="149.90" y="321.18" width="16.30" height="1.28" fill="#fbfbfe"/>
<rect x="29.50" y="322.44" width="16.30" height="1.28" fill="#eaebf8"/>
<rect x="46.70" y="322.44" width="16.30" height="1.28" fill="#dfe1f5"/>
<rect x="63.90" y="322.44" width="16.30" height="1.28" fill="#ebedf9"/>
<rect x="81.10" y="322.44" width="16.30" height="1.28" fill="#c8cbee"/>
<rect x="98.30" y="322.44" width="16.30" height="1.28" fill="#fde6e6"/>
<rect x="115.50" y="322.44" width="16.30" height="1.28" fill="#fce0e0"/>
<rect x="132.70" y="322.44" width="16.30" height="1.28" fill="#ffffff"/>
<rect x="149.90" y="322.44" width="16.30" height="1.28" fill="#fde6e6"/>
<rect x="29.50" y="323.70" width="16.30" height="1.28" fill="#cccfef"/>
<rect x="46.70" y="323.70" width="16.30" height="1.28" fill="#e0e2f5"/>
<rect x="63.90" y="323.70" width="16.30" height="1.28" fill="#f3f3fb"/>
<rect x="81.10" y="323.70" width="16.30" height="1.28" fill="#e5e6f7"/>
<rect x="98.30" y="323.70" width="16.30" height="1.28" fill="#fcdede"/>
<rect x="115.50" y="323.70" width="16.30" height="1.28" fill="#fdeded"/>
<rect x="132.70" y="323.70" width="16.30" height="1.28" fill="#dadcf3"/>
<rect x="149.90" y="323.70" width="16.30" height="1.28" fill="#fffbfb"/>
<rect x="29.50" y="324.96" width="16.30" height="1.28" fill="#e1e2f5"/>
<rect x="46.70" y="324.96" width="16.30" height="1.28" fill="#edeef9"/>
<rect x="63.90" y="324.96" width="16.30" height="1.28" fill="#eeeffa"/>
<rect x="81.10" y="324.96" width="16.30" height="1.28" fill="#e5e6f7"/>
<rect x="98.30" y="324.96" width="16.30" height="1.28" fill="#fbcfcf"/>
<rect x="115.50" y="324.96" width="16.30" height="1.28" fill="#fcd7d7"/>
<rect x="132.70" y="324.96" width="16.30" height="1.28" fill="#f9f9fd"/>
<rect x="149.90" y="324.96" width="16.30" height="1.28" fill="#fef1f1"/>
<rect x="29.50" y="326.22" width="16.30" height="1.28" fill="#f7f8fd"/>
<rect x="46.70" y="326.22" width="16.30" height="1.28" fill="#f8f8fd"/>
<rect x="63.90" y="326.22" width="16.30" height="1.28" fill="#fdfdfe"/>
<rect x="81.10" y="326.22" width="16.30" height="1.28" fill="#f8f8fd"/>
<rect x="98.30" y="326.22" width="16.30" height="1.28" fill="#fffafa"/>
<rect x="115.50" y="326.22" width="16.30" height="1.28" fill="#ffffff"/>
<rect x="132.70" y="326.22" width="16.30" height="1.28" fill="#f9fafd"/>
<rect x="149.90" y="326.22" width="16.30" height="1.28" fill="#fbfbfe"/>
<rect x="29.50" y="327.48" width="16.30" height="1.28" fill="#fbfbfe"/>
<rect x="46.70" y="327.48" width="16.30" height="1.28" fill="#fefeff"/>
<rect x="63.90" y="327.48" width="16.30" height="1.28" fill="#fffcfc"/>
<rect x="81.10" y="327.48" width="16.30" height="1.28" fill="#fffefe"/>
<rect x="98.30" y="327.48" width="16.30" height="1.28" fill="#fef6f6"/>
<rect x="115.50" y="327.48" width="16.30" height="1.28" fill="#fef8f8"/>
<rect x="132.70" y="327.48" width="16.30" height="1.28" fill="#fffbfb"/>
<rect x="149.90" y="327.48" width="16.30" height="1.28" fill="#fffefe"/>
<rect x="29.50" y="328.74" width="16.30" height="1.28" fill="#dbddf4"/>
<rect x="46.70" y="328.74" width="16.30" height="1.28" fill="#e5e6f7"/>
<rect x="63.90" y="328.74" width="16.30" height="1.28" fill="#e3e4f6"/>
<rect x="81.10" y="328.74" width="16.30" height="1.28" fill="#f3f4fb"/>
<rect x="98.30" y="328.74" width="16.30" height="1.28" fill="#fde3e3"/>
<rect x="115.50" y="328.74" width="16.30" height="1.28" fill="#fcdddd"/>
<rect x="132.70" y="328.74" width="16.30" height="1.28" fill="#dbddf4"/>
<rect x="149.90" y="328.74" width="16.30" height="1.28" fill="#fcfcfe"/>
<rect x="29.50" y="330.00" width="16.30" height="1.28" fill="#f7f8fd"/>
<rect x="46.70" y="330.00" width="16.30" height="1.28" fill="#f9f9fd"/>
<rect x="63.90" y="330.00" width="16.30" height="1.28" fill="#fafafd"/>
<rect x="81.10" y="330.00" width="16.30" height="1.28" fill="#f6f6fc"/>
<rect x="98.30" y="330.00" width="16.30" height="1.28" fill="#fffbfb"/>
<rect x="115.50" y="330.00" width="16.30" height="1.28" fill="#fffbfb"/>
<rect x="132.70" y="330.00" width="16.30" height="1.28" fill="#fbfbfe"/>
<rect x="149.90" y="330.00" width="16.30" height="1.28" fill="#fbfbfe"/>
<rect x="29.50" y="331.26" width="16.30" height="1.28" fill="#fefeff"/>
<rect x="46.70" y="331.26" width="16.30" height="1.28" fill="#fdfdfe"/>
<rect x="63.90" y="331.26" width="16.30" height="1.28" fill="#feeeee"/>
<rect x="81.10" y="331.26" width="16.30" height="1.28" fill="#fcfdfe"/>
<rect x="98.30" y="331.26" width="16.30" height="1.28" fill="#fbcfcf"/>
<rect x="115.50" y="331.26" width="16.30" height="1.28" fill="#fcdcdc"/>
<rect x="132.70" y="331.26" width="16.30" height="1.28" fill="#f3f4fb"/>
<rect x="149.90" y="331.26" width="16.30" height="1.28" fill="#f6f6fc"/>
<rect x="29.50" y="332.52" width="16.30" height="1.28" fill="#e2e3f6"/>
<rect x="46.70" y="332.52" width="16.30" height="1.28" fill="#eaebf8"/>
<rect x="63.90" y="332.52" width="16.30" height="1.28" fill="#fffbfb"/>
<rect x="81.10" y="332.52" width="16.30" height="1.28" fill="#f4f4fb"/>
<rect x="98.30" y="332.52" width="16.30" height="1.28" fill="#fce0e0"/>
<rect x="115.50" y="332.52" width="16.30" height="1.28" fill="#fef1f1"/>
<rect x="132.70" y="332.52" width="16.30" height="1.28" fill="#fdfdfe"/>
<rect x="149.90" y="332.52" width="16.30" height="1.28" fill="#f2f3fb"/>
<rect x="29.50" y="333.78" width="16.30" height="1.28" fill="#eff0fa"/>
<rect x="46.70" y="333.78" width="16.30" height="1.28" fill="#f1f2fb"/>
<rect x="63.90" y="333.78" width="16.30" height="1.28" fill="#f7f7fc"/>
<rect x="81.10" y="333.78" width="16.30" height="1.28" fill="#eeeffa"/>
<rect x="98.30" y="333.78" width="16.30" height="1.28" fill="#fbcccc"/>
<rect x="115.50" y="333.78" width="16.30" height="1.28" fill="#fde6e6"/>
<rect x="132.70" y="333.78" width="16.30" height="1.28" fill="#fef1f1"/>
<rect x="149.90" y="333.78" width="16.30" height="1.28" fill="#f4f5fc"/>
<rect x="29.50" y="335.04" width="16.30" height="1.28" fill="#e3e4f6"/>
<rect x="46.70" y="335.04" width="16.30" height="1.28" fill="#fafbfe"/>
<rect x="63.90" y="335.04" width="16.30" height="1.28" fill="#fffdfd"/>
<rect x="81.10" y="335.04" width="16.30" height="1.28" fill="#fbfbfe"/>
<rect x="98.30" y="335.04" width="16.30" height="1.28" fill="#fbd4d4"/>
<rect x="115.50" y="335.04" width="16.30" height="1.28" fill="#fcd8d8"/>
<rect x="132.70" y="335.04" width="16.30" height="1.28" fill="#fef2f2"/>
<rect x="149.90" y="335.04" width="16.30" height="1.28" fill="#f2f2fb"/>
<rect x="29.50" y="336.30" width="16.30" height="1.28" fill="#eeeffa"/>
<rect x="46.70" y="336.30" width="16.30" height="1.28" fill="#e9ebf8"/>
<rect x="63.90" y="336.30" width="16.30" height="1.28" fill="#dcdef4"/>
<rect x="81.10" y="336.30" width="16.30" height="1.28" fill="#f0f1fa"/>
<rect x="98.30" y="336.30" width="16.30" height="1.28" fill="#fde9e9"/>
<rect x="115.50" y="336.30" width="16.30" height="1.28" fill="#fcd8d8"/>
<rect x="132.70" y="336.30" width="16.30" height="1.28" fill="#fdeded"/>
<rect x="149.90" y="336.30" width="16.30" height="1.28" fill="#fef0f0"/>
<rect x="29.50" y="337.56" width="16.30" height="1.28" fill="#f1f2fb"/>
<rect x="46.70" y="337.56" width="16.30" height="1.28" fill="#f7f7fc"/>
<rect x="63.90" y="337.56" width="16.30" height="1.28" fill="#fdfdfe"/>
<rect x="81.10" y="337.56" width="16.30" height="1.28" fill="#f4f4fb"/>
<rect x="98.30" y="337.56" width="16.30" height="1.28" fill="#fbcece"/>
<rect x="115.50" y="337.56" width="16.30" height="1.28" fill="#fdeded"/>
<rect x="132.70" y="337.56" width="16.30" height="1.28" fill="#fde4e4"/>
<rect x="149.90" y="337.56" width="16.30" height="1.28" fill="#fef4f4"/>
<rect x="29.50" y="338.82" width="16.30" height="1.28" fill="#dadcf3"/>
<rect x="46.70" y="338.82" width="16.30" height="1.28" fill="#ecedf9"/>
<rect x="63.90" y="338.82" width="16.30" height="1.28" fill="#e7e9f8"/>
<rect x="81.10" y="338.82" width="16.30" height="1.28" fill="#dddff4"/>
<rect x="98.30" y="338.82" width="16.30" height="1.28" fill="#fbd3d3"/>
<rect x="115.50" y="338.82" width="16.30" height="1.28" fill="#fef8f8"/>
<rect x="132.70" y="338.82" width="16.30" height="1.28" fill="#fcfcfe"/>
<rect x="149.90" y="338.82" width="16.30" height="1.28" fill="#fdfdfe"/>
<rect x="29.50" y="340.08" width="16.30" height="1.28" fill="#e1e3f6"/>
<rect x="46.70" y="340.08" width="16.30" height="1.28" fill="#dfe1f5"/>
<rect x="63.90" y="340.08" width="16.30" height="1.28" fill="#e4e6f7"/>
<rect x="81.10" y="340.08" width="16.30" height="1.28" fill="#ecedf9"/>
<rect x="98.30" y="340.08" width="16.30" height="1.28" fill="#fcdada"/>
<rect x="115.50" y="340.08" width="16.30" height="1.28" fill="#fbd5d5"/>
<rect x="132.70" y="340.08" width="16.30" height="1.28" fill="#fde9e9"/>
<rect x="149.90" y="340.08" width="16.30" height="1.28" fill="#fef3f3"/>
<rect x="29.50" y="341.34" width="16.30" height="1.28" fill="#dbddf4"/>
<rect x="46.70" y="341.34" width="16.30" height="1.28" fill="#f4f5fc"/>
<rect x="63.90" y="341.34" width="16.30" height="1.28" fill="#e8e9f8"/>
<rect x="81.10" y="341.34" width="16.30" height="1.28" fill="#fafafd"/>
<rect x="98.30" y="341.34" width="16.30" height="1.28" fill="#fbd5d5"/>
<rect x="115.50" y="341.34" width="16.30" height="1.28" fill="#fde8e8"/>
<rect x="132.70" y="341.34" width="16.30" height="1.28" fill="#fbfcfe"/>
<rect x="149.90" y="341.34" width="16.30" height="1.28" fill="#fbfbfe"/>
<rect x="29.50" y="342.60" width="16.30" height="1.28" fill="#f7f8fd"/>
<rect x="46.70" y="342.60" width="16.30" height="1.28" fill="#fafbfe"/>
<rect x="63.90" y="342.60" width="16.30" height="1.28" fill="#fbfbfe"/>
<rect x="81.10" y="342.60" width="16.30" height="1.28" fill="#fffcfc"/>
<rect x="98.30" y="342.60" width="16.30" height="1.28" fill="#fef8f8"/>
<rect x="115.50" y="342.60" width="16.30" height="1.28" fill="#fff9f9"/>
<rect x="132.70" y="342.60" width="16.30" height="1.28" fill="#fffafa"/>
<rect x="149.90" y="342.60" width="16.30" height="1.28" fill="#fefeff"/>
<rect x="29.50" y="343.86" width="16.30" height="1.28" fill="#ecedf9"/>
<rect x="46.70" y="343.86" width="16.30" height="1.28" fill="#eaebf8"/>
<rect x="63.90" y="343.86" width="16.30" height="1.28" fill="#fdebeb"/>
<rect x="81.10" y="343.86" width="16.30" height="1.28" fill="#fdecec"/>
<rect x="98.30" y="343.86" width="16.30" height="1.28" fill="#fcdcdc"/>
<rect x="115.50" y="343.86" width="16.30" height="1.28" fill="#fde7e7"/>
<rect x="132.70" y="343.86" width="16.30" height="1.28" fill="#fde5e5"/>
<rect x="149.90" y="343.86" width="16.30" height="1.28" fill="#fef3f3"/>
<rect x="29.50" y="345.12" width="16.30" height="1.28" fill="#fbfbfe"/>
<rect x="46.70" y="345.12" width="16.30" height="1.28" fill="#fbfbfe"/>
<rect x="63.90" y="345.12" width="16.30" height="1.28" fill="#ffffff"/>
<rect x="81.10" y="345.12" width="16.30" height="1.28" fill="#ffffff"/>
<rect x="98.30" y="345.12" width="16.30" height="1.28" fill="#fff9f9"/>
<rect x="115.50" y="345.12" width="16.30" height="1.28" fill="#fffbfb"/>
<rect x="132.70" y="345.12" width="16.30" height="1.28" fill="#fcfcfe"/>
<rect x="149.90" y="345.12" width="16.30" height="1.28" fill="#fffbfb"/>
<rect x="29.50" y="346.38" width="16.30" height="1.28" fill="#edeef9"/>
<rect x="46.70" y="346.38" width="16.30" height="1.28" fill="#e1e3f6"/>
<rect x="63.90" y="346.38" width="16.30" height="1.28" fill="#f7f7fc"/>
<rect x="81.10" y="346.38" width="16.30" height="1.28" fill="#fefeff"/>
<rect x="98.30" y="346.38" width="16.30" height="1.28" fill="#fdebeb"/>
<rect x="115.50" y="346.38" width="16.30" height="1.28" fill="#fdebeb"/>
<rect x="132.70" y="346.38" width="16.30" height="1.28" fill="#fef1f1"/>
<rect x="149.90" y="346.38" width="16.30" height="1.28" fill="#f1f2fb"/>
<rect x="29.50" y="347.64" width="16.30" height="1.28" fill="#ebecf9"/>
<rect x="46.70" y="347.64" width="16.30" height="1.28" fill="#e6e8f7"/>
<rect x="63.90" y="347.64" width="16.30" height="1.28" fill="#f4f5fc"/>
<rect x="81.10" y="347.64" width="16.30" height="1.28" fill="#e6e7f7"/>
<rect x="98.30" y="347.64" width="16.30" height="1.28" fill="#fde7e7"/>
<rect x="115.50" y="347.64" width="16.30" height="1.28" fill="#fce2e2"/>
<rect x="132.70" y="347.64" width="16.30" height="1.28" fill="#fef8f8"/>
<rect x="149.90" y="347.64" width="16.30" height="1.28" fill="#fdeded"/>
<rect x="29.50" y="348.90" width="16.30" height="1.28" fill="#fafafd"/>
<rect x="46.70" y="348.90" width="16.30" height="1.28" fill="#fafbfe"/>
<rect x="63.90" y="348.90" width="16.30" height="1.28" fill="#fdfdfe"/>
<rect x="81.10" y="348.90" width="16.30" height="1.28" fill="#fafafd"/>
<rect x="98.30" y="348.90" width="16.30" height="1.28" fill="#fff9f9"/>
<rect x="115.50" y="348.90" width="16.30" height="1.28" fill="#fef8f8"/>
<rect x="132.70" y="348.90" width="16.30" height="1.28" fill="#fffefe"/>
<rect x="149.90" y="348.90" width="16.30" height="1.28" fill="#fcfcfe"/>
<rect x="29.50" y="350.16" width="16.30" height="1.28" fill="#fafafd"/>
<rect x="46.70" y="350.16" width="16.30" height="1.28" fill="#fdfdfe"/>
<rect x="63.90" y="350.16" width="16.30" height="1.28" fill="#fef9f9"/>
<rect x="81.10" y="350.16" width="16.30" height="1.28" fill="#fefeff"/>
<rect x="98.30" y="350.16" width="16.30" height="1.28" fill="#fef7f7"/>
<rect x="115.50" y="350.16" width="16.30" height="1.28" fill="#fef7f7"/>
<rect x="132.70" y="350.16" width="16.30" height="1.28" fill="#fffefe"/>
<rect x="149.90" y="350.16" width="16.30" height="1.28" fill="#fffbfb"/>
<rect x="29.50" y="351.42" width="16.30" height="1.28" fill="#f8f8fd"/>
<rect x="46.70" y="351.42" width="16.30" height="1.28" fill="#fcfcfe"/>
<rect x="63.90" y="351.42" width="16.30" height="1.28" fill="#fdfdfe"/>
<rect x="81.10" y="351.42" width="16.30" height="1.28" fill="#fafafd"/>
<rect x="98.30" y="351.42" width="16.30" height="1.28" fill="#fef6f6"/>
<rect x="115.50" y="351.42" width="16.30" height="1.28" fill="#ffffff"/>
<rect x="132.70" y="351.42" width="16.30" height="1.28" fill="#fffdfd"/>
<rect x="149.90" y="351.42" width="16.30" height="1.28" fill="#fffefe"/>
<rect x="29.50" y="352.68" width="16.30" height="1.28" fill="#f1f2fb"/>
<rect x="46.70" y="352.68" width="16.30" height="1.28" fill="#e2e4f6"/>
<rect x="63.90" y="352.68" width="16.30" height="1.28" fill="#f7f7fc"/>
<rect x="81.10" y="352.68" width="16.30" height="1.28" fill="#fafafd"/>
<rect x="98.30" y="352.68" width="16.30" height="1.28" fill="#fde5e5"/>
<rect x="115.50" y="352.68" width="16.30" height="1.28" fill="#fef6f6"/>
<rect x="132.70" y="352.68" width="16.30" height="1.28" fill="#fef4f4"/>
<rect x="149.90" y="352.68" width="16.30" height="1.28" fill="#feefef"/>
<rect x="29.50" y="353.94" width="16.30" height="1.28" fill="#fbfbfe"/>
<rect x="46.70" y="353.94" width="16.30" height="1.28" fill="#fcfcfe"/>
<rect x="63.90" y="353.94" width="16.30" height="1.28" fill="#fefeff"/>
<rect x="81.10" y="353.94" width="16.30" height="1.28" fill="#f9fafd"/>
<rect x="98.30" y="353.94" width="16.30" height="1.28" fill="#fffcfc"/>
<rect x="115.50" y="353.94" width="16.30" height="1.28" fill="#fef7f7"/>
<rect x="132.70" y="353.94" width="16.30" height="1.28" fill="#fef5f5"/>
<rect x="149.90" y="353.94" width="16.30" height="1.28" fill="#fcfdfe"/>
<rect x="29.50" y="355.20" width="16.30" height="1.28" fill="#ebecf9"/>
<rect x="46.70" y="355.20" width="16.30" height="1.28" fill="#e9eaf8"/>
<rect x="63.90" y="355.20" width="16.30" height="1.28" fill="#f1f2fb"/>
<rect x="81.10" y="355.20" width="16.30" height="1.28" fill="#fffbfb"/>
<rect x="98.30" y="355.20" width="16.30" height="1.28" fill="#fcd9d9"/>
<rect x="115.50" y="355.20" width="16.30" height="1.28" fill="#fde2e2"/>
<rect x="132.70" y="355.20" width="16.30" height="1.28" fill="#fffdfd"/>
<rect x="149.90" y="355.20" width="16.30" height="1.28" fill="#fbd3d3"/>
<rect x="29.50" y="356.46" width="16.30" height="1.28" fill="#f2f2fb"/>
<rect x="46.70" y="356.46" width="16.30" height="1.28" fill="#e5e6f7"/>
<rect x="63.90" y="356.46" width="16.30" height="1.28" fill="#dee0f5"/>
<rect x="81.10" y="356.46" width="16.30" height="1.28" fill="#fffefe"/>
<rect x="98.30" y="356.46" width="16.30" height="1.28" fill="#facaca"/>
<rect x="115.50" y="356.46" width="16.30" height="1.28" fill="#fcdfdf"/>
<rect x="132.70" y="356.46" width="16.30" height="1.28" fill="#eff0fa"/>
<rect x="149.90" y="356.46" width="16.30" height="1.28" fill="#f0f1fa"/>
<rect x="29.50" y="357.72" width="16.30" height="1.28" fill="#dcdef4"/>
<rect x="46.70" y="357.72" width="16.30" height="1.28" fill="#e5e7f7"/>
<rect x="63.90" y="357.72" width="16.30" height="1.28" fill="#f3f4fb"/>
<rect x="81.10" y="357.72" width="16.30" height="1.28" fill="#dbddf4"/>
<rect x="98.30" y="357.72" width="16.30" height="1.28" fill="#fde6e6"/>
<rect x="115.50" y="357.72" width="16.30" height="1.28" fill="#fce2e2"/>
<rect x="132.70" y="357.72" width="16.30" height="1.28" fill="#fefeff"/>
<rect x="149.90" y="357.72" width="16.30" height="1.28" fill="#f2f3fb"/>
<rect x="29.50" y="358.98" width="16.30" height="1.28" fill="#dddff4"/>
<rect x="46.70" y="358.98" width="16.30" height="1.28" fill="#edeef9"/>
<rect x="63.90" y="358.98" width="16.30" height="1.28" fill="#fef9f9"/>
<rect x="81.10" y="358.98" width="16.30" height="1.28" fill="#fdfdfe"/>
<rect x="98.30" y="358.98" width="16.30" height="1.28" fill="#fce0e0"/>
<rect x="115.50" y="358.98" width="16.30" height="1.28" fill="#fde4e4"/>
<rect x="132.70" y="358.98" width="16.30" height="1.28" fill="#eeeffa"/>
<rect x="149.90" y="358.98" width="16.30" height="1.28" fill="#fde9e9"/>
<rect x="29.50" y="360.24" width="16.30" height="1.28" fill="#dfe1f5"/>
<rect x="46.70" y="360.24" width="16.30" height="1.28" fill="#dddff4"/>
<rect x="63.90" y="360.24" width="16.30" height="1.28" fill="#fffbfb"/>
<rect x="81.10" y="360.24" width="16.30" height="1.28" fill="#e8eaf8"/>
<rect x="98.30" y="360.24" width="16.30" height="1.28" fill="#fbcfcf"/>
<rect x="115.50" y="360.24" width="16.30" height="1.28" fill="#fdeaea"/>
<rect x="132.70" y="360.24" width="16.30" height="1.28" fill="#fffbfb"/>
<rect x="149.90" y="360.24" width="16.30" height="1.28" fill="#fce1e1"/>
<rect x="29.50" y="361.50" width="16.30" height="1.28" fill="#f1f2fb"/>
<rect x="46.70" y="361.50" width="16.30" height="1.28" fill="#f7f7fc"/>
<rect x="63.90" y="361.50" width="16.30" height="1.28" fill="#fef7f7"/>
<rect x="81.10" y="361.50" width="16.30" height="1.28" fill="#fbfbfe"/>
<rect x="98.30" y="361.50" width="16.30" height="1.28" fill="#fcd6d6"/>
<rect x="115.50" y="361.50" width="16.30" height="1.28" fill="#fce1e1"/>
<rect x="132.70" y="361.50" width="16.30" height="1.28" fill="#fef8f8"/>
<rect x="149.90" y="361.50" width="16.30" height="1.28" fill="#fce1e1"/>
<rect x="29.50" y="362.76" width="16.30" height="1.28" fill="#e7e8f7"/>
<rect x="46.70" y="362.76" width="16.30" height="1.28" fill="#e8e9f8"/>
<rect x="63.90" y="362.76" width="16.30" height="1.28" fill="#fcfcfe"/>
<rect x="81.10" y="362.76" width="16.30" height="1.28" fill="#fde9e9"/>
<rect x="98.30" y="362.76" width="16.30" height="1.28" fill="#fcdcdc"/>
<rect x="115.50" y="362.76" width="16.30" height="1.28" fill="#fbd5d5"/>
<rect x="132.70" y="362.76" width="16.30" height="1.28" fill="#f2f3fb"/>
<rect x="149.90" y="362.76" width="16.30" height="1.28" fill="#fce1e1"/>
<rect x="29.50" y="364.02" width="16.30" height="1.28" fill="#d3d6f1"/>
<rect x="46.70" y="364.02" width="16.30" height="1.28" fill="#dfe1f5"/>
<rect x="63.90" y="364.02" width="16.30" height="1.28" fill="#f4f4fb"/>
<rect x="81.10" y="364.02" width="16.30" height="1.28" fill="#fdfdfe"/>
<rect x="98.30" y="364.02" width="16.30" height="1.28" fill="#fce1e1"/>
<rect x="115.50" y="364.02" width="16.30" height="1.28" fill="#fdecec"/>
<rect x="132.70" y="364.02" width="16.30" height="1.28" fill="#fffdfd"/>
<rect x="149.90" y="364.02" width="16.30" height="1.28" fill="#fef0f0"/>
<rect x="29.50" y="365.28" width="16.30" height="1.28" fill="#edeef9"/>
<rect x="46.70" y="365.28" width="16.30" height="1.28" fill="#ebecf9"/>
<rect x="63.90" y="365.28" width="16.30" height="1.28" fill="#fafafd"/>
<rect x="81.10" y="365.28" width="16.30" height="1.28" fill="#fef5f5"/>
<rect x="98.30" y="365.28" width="16.30" height="1.28" fill="#fdecec"/>
<rect x="115.50" y="365.28" width="16.30" height="1.28" fill="#feefef"/>
<rect x="132.70" y="365.28" width="16.30" height="1.28" fill="#fef4f4"/>
<rect x="149.90" y="365.28" width="16.30" height="1.28" fill="#eeeffa"/>
<rect x="29.50" y="366.54" width="16.30" height="1.28" fill="#eaebf8"/>
<rect x="46.70" y="366.54" width="16.30" height="1.28" fill="#eeeffa"/>
<rect x="63.90" y="366.54" width="16.30" height="1.28" fill="#fffdfd"/>
<rect x="81.10" y="366.54" width="16.30" height="1.28" fill="#d6d8f2"/>
<rect x="98.30" y="366.54" width="16.30" height="1.28" fill="#fef1f1"/>
<rect x="115.50" y="366.54" width="16.30" height="1.28" fill="#fde6e6"/>
<rect x="132.70" y="366.54" width="16.30" height="1.28" fill="#fde7e7"/>
<rect x="149.90" y="366.54" width="16.30" height="1.28" fill="#f1f2fb"/>
<rect x="29.50" y="367.80" width="16.30" height="1.28" fill="#f9fafd"/>
<rect x="46.70" y="367.80" width="16.30" height="1.28" fill="#fcfdfe"/>
<rect x="63.90" y="367.80" width="16.30" height="1.28" fill="#fffdfd"/>
<rect x="81.10" y="367.80" width="16.30" height="1.28" fill="#fefeff"/>
<rect x="98.30" y="367.80" width="16.30" height="1.28" fill="#fef9f9"/>
<rect x="115.50" y="367.80" width="16.30" height="1.28" fill="#fffbfb"/>
<rect x="132.70" y="367.80" width="16.30" height="1.28" fill="#ffffff"/>
<rect x="149.90" y="367.80" width="16.30" height="1.28" fill="#ffffff"/>
<rect x="29.50" y="369.06" width="16.30" height="1.28" fill="#eff0fa"/>
<rect x="46.70" y="369.06" width="16.30" height="1.28" fill="#e4e6f7"/>
<rect x="63.90" y="369.06" width="16.30" height="1.28" fill="#fff9f9"/>
<rect x="81.10" y="369.06" width="16.30" height="1.28" fill="#fafbfe"/>
<rect x="98.30" y="369.06" width="16.30" height="1.28" fill="#fcdbdb"/>
<rect x="115.50" y="369.06" width="16.30" height="1.28" fill="#fbd6d6"/>
<rect x="132.70" y="369.06" width="16.30" height="1.28" fill="#fbd3d3"/>
<rect x="149.90" y="369.06" width="16.30" height="1.28" fill="#fef1f1"/>
<rect x="29.50" y="370.32" width="16.30" height="1.28" fill="#c9ccee"/>
<rect x="46.70" y="370.32" width="16.30" height="1.28" fill="#cccfef"/>
<rect x="63.90" y="370.32" width="16.30" height="1.28" fill="#dadcf3"/>
<rect x="81.10" y="370.32" width="16.30" height="1.28" fill="#dfe1f5"/>
<rect x="98.30" y="370.32" width="16.30" height="1.28" fill="#fcdada"/>
<rect x="115.50" y="370.32" width="16.30" height="1.28" fill="#fffafa"/>
<rect x="132.70" y="370.32" width="16.30" height="1.28" fill="#fef1f1"/>
<rect x="149.90" y="370.32" width="16.30" height="1.28" fill="#fcfcfe"/>
<rect x="29.50" y="371.58" width="16.30" height="1.28" fill="#dfe1f5"/>
<rect x="46.70" y="371.58" width="16.30" height="1.28" fill="#eeeffa"/>
<rect x="63.90" y="371.58" width="16.30" height="1.28" fill="#f2f3fb"/>
<rect x="81.10" y="371.58" width="16.30" height="1.28" fill="#fafafd"/>
<rect x="98.30" y="371.58" width="16.30" height="1.28" fill="#fde2e2"/>
<rect x="115.50" y="371.58" width="16.30" height="1.28" fill="#fbd5d5"/>
<rect x="132.70" y="371.58" width="16.30" height="1.28" fill="#fde4e4"/>
<rect x="149.90" y="371.58" width="16.30" height="1.28" fill="#fef1f1"/>
<rect x="29.50" y="372.84" width="16.30" height="1.28" fill="#fcfcfe"/>
<rect x="46.70" y="372.84" width="16.30" height="1.28" fill="#f3f4fb"/>
<rect x="63.90" y="372.84" width="16.30" height="1.28" fill="#fdfdfe"/>
<rect x="81.10" y="372.84" width="16.30" height="1.28" fill="#fef6f6"/>
<rect x="98.30" y="372.84" width="16.30" height="1.28" fill="#fde2e2"/>
<rect x="115.50" y="372.84" width="16.30" height="1.28" fill="#fbcdcd"/>
<rect x="132.70" y="372.84" width="16.30" height="1.28" fill="#fdebeb"/>
<rect x="149.90" y="372.84" width="16.30" height="1.28" fill="#fef1f1"/>
<rect x="29.50" y="374.10" width="16.30" height="1.28" fill="#eff0fa"/>
<rect x="46.70" y="374.10" width="16.30" height="1.28" fill="#f0f1fa"/>
<rect x="63.90" y="374.10" width="16.30" height="1.28" fill="#fffefe"/>
<rect x="81.10" y="374.10" width="16.30" height="1.28" fill="#f8f8fd"/>
<rect x="98.30" y="374.10" width="16.30" height="1.28" fill="#fdecec"/>
<rect x="115.50" y="374.10" width="16.30" height="1.28" fill="#fac3c3"/>
<rect x="132.70" y="374.10" width="16.30" height="1.28" fill="#fef4f4"/>
<rect x="149.90" y="374.10" width="16.30" height="1.28" fill="#fcdddd"/>
<rect x="29.50" y="375.36" width="16.30" height="1.28" fill="#f8f9fd"/>
<rect x="46.70" y="375.36" width="16.30" height="1.28" fill="#fbfbfe"/>
<rect x="63.90" y="375.36" width="16.30" height="1.28" fill="#f9f9fd"/>
<rect x="81.10" y="375.36" width="16.30" height="1.28" fill="#fbfbfe"/>
<rect x="98.30" y="375.36" width="16.30" height="1.28" fill="#fffdfd"/>
<rect x="115.50" y="375.36" width="16.30" height="1.28" fill="#fef8f8"/>
<rect x="132.70" y="375.36" width="16.30" height="1.28" fill="#fffefe"/>
<rect x="149.90" y="375.36" width="16.30" height="1.28" fill="#fef9f9"/>
<rect x="29.50" y="376.62" width="16.30" height="1.28" fill="#e6e8f7"/>
<rect x="46.70" y="376.62" width="16.30" height="1.28" fill="#f2f3fb"/>
<rect x="63.90" y="376.62" width="16.30" height="1.28" fill="#fde4e4"/>
<rect x="81.10" y="376.62" width="16.30" height="1.28" fill="#fffbfb"/>
<rect x="98.30" y="376.62" width="16.30" height="1.28" fill="#fcd7d7"/>
<rect x="115.50" y="376.62" width="16.30" height="1.28" fill="#fde7e7"/>
<rect x="132.70" y="376.62" width="16.30" height="1.28" fill="#fdecec"/>
<rect x="149.90" y="376.62" width="16.30" height="1.28" fill="#fcdfdf"/>
<rect x="29.50" y="377.88" width="16.30" height="1.28" fill="#fbfbfe"/>
<rect x="46.70" y="377.88" width="16.30" height="1.28" fill="#f9f9fd"/>
<rect x="63.90" y="377.88" width="16.30" height="1.28" fill="#fffbfb"/>
<rect x="81.10" y="377.88" width="16.30" height="1.28" fill="#fcfcfe"/>
<rect x="98.30" y="377.88" width="16.30" height="1.28" fill="#fef8f8"/>
<rect x="115.50" y="377.88" width="16.30" height="1.28" fill="#fff9f9"/>
<rect x="132.70" y="377.88" width="16.30" height="1.28" fill="#fffcfc"/>
<rect x="149.90" y="377.88" width="16.30" height="1.28" fill="#fffafa"/>
<rect x="29.50" y="379.14" width="16.30" height="1.28" fill="#f9fafd"/>
<rect x="46.70" y="379.14" width="16.30" height="1.28" fill="#f8f9fd"/>
<rect x="63.90" y="379.14" width="16.30" height="1.28" fill="#fcfcfe"/>
<rect x="81.10" y="379.14" width="16.30" height="1.28" fill="#fafbfe"/>
<rect x="98.30" y="379.14" width="16.30" height="1.28" fill="#fef9f9"/>
<rect x="115.50" y="379.14" width="16.30" height="1.28" fill="#fffafa"/>
<rect x="132.70" y="379.14" width="16.30" height="1.28" fill="#fdfdfe"/>
<rect x="149.90" y="379.14" width="16.30" height="1.28" fill="#fffcfc"/>
<rect x="29.50" y="380.40" width="16.30" height="1.28" fill="#dfe1f5"/>
<rect x="46.70" y="380.40" width="16.30" height="1.28" fill="#e0e2f5"/>
<rect x="63.90" y="380.40" width="16.30" height="1.28" fill="#feefef"/>
<rect x="81.10" y="380.40" width="16.30" height="1.28" fill="#e7e8f7"/>
<rect x="98.30" y="380.40" width="16.30" height="1.28" fill="#fce0e0"/>
<rect x="115.50" y="380.40" width="16.30" height="1.28" fill="#fcdede"/>
<rect x="132.70" y="380.40" width="16.30" height="1.28" fill="#feeeee"/>
<rect x="149.90" y="380.40" width="16.30" height="1.28" fill="#fafafd"/>
<rect x="29.50" y="381.66" width="16.30" height="1.28" fill="#d7d9f2"/>
<rect x="46.70" y="381.66" width="16.30" height="1.28" fill="#d8daf3"/>
<rect x="63.90" y="381.66" width="16.30" height="1.28" fill="#f2f3fb"/>
<rect x="81.10" y="381.66" width="16.30" height="1.28" fill="#f7f8fd"/>
<rect x="98.30" y="381.66" width="16.30" height="1.28" fill="#fef0f0"/>
<rect x="115.50" y="381.66" width="16.30" height="1.28" fill="#fde3e3"/>
<rect x="132.70" y="381.66" width="16.30" height="1.28" fill="#eaebf8"/>
<rect x="149.90" y="381.66" width="16.30" height="1.28" fill="#eff0fa"/>
<rect x="29.50" y="382.92" width="16.30" height="1.28" fill="#edeef9"/>
<rect x="46.70" y="382.92" width="16.30" height="1.28" fill="#dfe0f5"/>
<rect x="63.90" y="382.92" width="16.30" height="1.28" fill="#ecedf9"/>
<rect x="81.10" y="382.92" width="16.30" height="1.28" fill="#fcfcfe"/>
<rect x="98.30" y="382.92" width="16.30" height="1.28" fill="#fcdfdf"/>
<rect x="115.50" y="382.92" width="16.30" height="1.28" fill="#fce0e0"/>
<rect x="132.70" y="382.92" width="16.30" height="1.28" fill="#fbfcfe"/>
<rect x="149.90" y="382.92" width="16.30" height="1.28" fill="#eaebf8"/>
<rect x="29.50" y="384.18" width="16.30" height="1.28" fill="#dcdef4"/>
<rect x="46.70" y="384.18" width="16.30" height="1.28" fill="#d1d4f1"/>
<rect x="63.90" y="384.18" width="16.30" height="1.28" fill="#f8f8fd"/>
<rect x="81.10" y="384.18" width="16.30" height="1.28" fill="#cacdee"/>
<rect x="98.30" y="384.18" width="16.30" height="1.28" fill="#fde5e5"/>
<rect x="115.50" y="384.18" width="16.30" height="1.28" fill="#fdebeb"/>
<rect x="132.70" y="384.18" width="16.30" height="1.28" fill="#fdeded"/>
<rect x="149.90" y="384.18" width="16.30" height="1.28" fill="#fdfdfe"/>
<rect x="29.50" y="385.44" width="16.30" height="1.28" fill="#eeeffa"/>
<rect x="46.70" y="385.44" width="16.30" height="1.28" fill="#d5d7f2"/>
<rect x="63.90" y="385.44" width="16.30" height="1.28" fill="#f5f5fc"/>
<rect x="81.10" y="385.44" width="16.30" height="1.28" fill="#eff0fa"/>
<rect x="98.30" y="385.44" width="16.30" height="1.28" fill="#fef3f3"/>
<rect x="115.50" y="385.44" width="16.30" height="1.28" fill="#fef0f0"/>
<rect x="132.70" y="385.44" width="16.30" height="1.28" fill="#fffefe"/>
<rect x="149.90" y="385.44" width="16.30" height="1.28" fill="#fde9e9"/>
<rect x="29.50" y="386.70" width="16.30" height="1.28" fill="#f6f6fc"/>
<rect x="46.70" y="386.70" width="16.30" height="1.28" fill="#f9f9fd"/>
<rect x="63.90" y="386.70" width="16.30" height="1.28" fill="#fbfbfe"/>
<rect x="81.10" y="386.70" width="16.30" height="1.28" fill="#f6f6fc"/>
<rect x="98.30" y="386.70" width="16.30" height="1.28" fill="#fffbfb"/>
<rect x="115.50" y="386.70" width="16.30" height="1.28" fill="#fef9f9"/>
<rect x="132.70" y="386.70" width="16.30" height="1.28" fill="#fffefe"/>
<rect x="149.90" y="386.70" width="16.30" height="1.28" fill="#fef9f9"/>
<rect x="29.50" y="387.96" width="16.30" height="1.28" fill="#fbfbfe"/>
<rect x="46.70" y="387.96" width="16.30" height="1.28" fill="#ffffff"/>
<rect x="63.90" y="387.96" width="16.30" height="1.28" fill="#fffefe"/>
<rect x="81.10" y="387.96" width="16.30" height="1.28" fill="#fffcfc"/>
<rect x="98.30" y="387.96" width="16.30" height="1.28" fill="#fef2f2"/>
<rect x="115.50" y="387.96" width="16.30" height="1.28" fill="#fff9f9"/>
<rect x="132.70" y="387.96" width="16.30" height="1.28" fill="#fffafa"/>
<rect x="149.90" y="387.96" width="16.30" height="1.28" fill="#fef4f4"/>
<rect x="29.50" y="389.22" width="16.30" height="1.28" fill="#e9ebf8"/>
<rect x="46.70" y="389.22" width="16.30" height="1.28" fill="#e9ebf8"/>
<rect x="63.90" y="389.22" width="16.30" height="1.28" fill="#f7f8fd"/>
<rect x="81.10" y="389.22" width="16.30" height="1.28" fill="#f2f3fb"/>
<rect x="98.30" y="389.22" width="16.30" height="1.28" fill="#fde2e2"/>
<rect x="115.50" y="389.22" width="16.30" height="1.28" fill="#fce1e1"/>
<rect x="132.70" y="389.22" width="16.30" height="1.28" fill="#fde7e7"/>
<rect x="149.90" y="389.22" width="16.30" height="1.28" fill="#fdeaea"/>
<rect x="29.50" y="390.48" width="16.30" height="1.28" fill="#d8daf3"/>
<rect x="46.70" y="390.48" width="16.30" height="1.28" fill="#d8daf3"/>
<rect x="63.90" y="390.48" width="16.30" height="1.28" fill="#e4e5f6"/>
<rect x="81.10" y="390.48" width="16.30" height="1.28" fill="#fef8f8"/>
<rect x="98.30" y="390.48" width="16.30" height="1.28" fill="#fef0f0"/>
<rect x="115.50" y="390.48" width="16.30" height="1.28" fill="#fef6f6"/>
<rect x="132.70" y="390.48" width="16.30" height="1.28" fill="#f4f5fc"/>
<rect x="149.90" y="390.48" width="16.30" height="1.28" fill="#fef4f4"/>
<rect x="29.50" y="391.74" width="16.30" height="1.28" fill="#e3e4f6"/>
<rect x="46.70" y="391.74" width="16.30" height="1.28" fill="#e9eaf8"/>
<rect x="63.90" y="391.74" width="16.30" height="1.28" fill="#f5f5fc"/>
<rect x="81.10" y="391.74" width="16.30" height="1.28" fill="#f7f8fd"/>
<rect x="98.30" y="391.74" width="16.30" height="1.28" fill="#fef0f0"/>
<rect x="115.50" y="391.74" width="16.30" height="1.28" fill="#fcdfdf"/>
<rect x="132.70" y="391.74" width="16.30" height="1.28" fill="#fef2f2"/>
<rect x="149.90" y="391.74" width="16.30" height="1.28" fill="#feefef"/>
<rect x="29.50" y="393.00" width="16.30" height="1.28" fill="#f9fafd"/>
<rect x="46.70" y="393.00" width="16.30" height="1.28" fill="#f8f9fd"/>
<rect x="63.90" y="393.00" width="16.30" height="1.28" fill="#ffffff"/>
<rect x="81.10" y="393.00" width="16.30" height="1.28" fill="#fffdfd"/>
<rect x="98.30" y="393.00" width="16.30" height="1.28" fill="#fffbfb"/>
<rect x="115.50" y="393.00" width="16.30" height="1.28" fill="#fffdfd"/>
<rect x="132.70" y="393.00" width="16.30" height="1.28" fill="#fef9f9"/>
<rect x="149.90" y="393.00" width="16.30" height="1.28" fill="#fffcfc"/>
<rect x="29.50" y="394.26" width="16.30" height="1.28" fill="#e6e7f7"/>
<rect x="46.70" y="394.26" width="16.30" height="1.28" fill="#ebecf9"/>
<rect x="63.90" y="394.26" width="16.30" height="1.28" fill="#f6f6fc"/>
<rect x="81.10" y="394.26" width="16.30" height="1.28" fill="#f5f6fc"/>
<rect x="98.30" y="394.26" width="16.30" height="1.28" fill="#fdeaea"/>
<rect x="115.50" y="394.26" width="16.30" height="1.28" fill="#fdeaea"/>
<rect x="132.70" y="394.26" width="16.30" height="1.28" fill="#fde6e6"/>
<rect x="149.90" y="394.26" width="16.30" height="1.28" fill="#fde3e3"/>
<rect x="29.50" y="395.52" width="16.30" height="1.28" fill="#ffffff"/>
<rect x="46.70" y="395.52" width="16.30" height="1.28" fill="#f8f8fd"/>
<rect x="63.90" y="395.52" width="16.30" height="1.28" fill="#fffefe"/>
<rect x="81.10" y="395.52" width="16.30" height="1.28" fill="#fcfcfe"/>
<rect x="98.30" y="395.52" width="16.30" height="1.28" fill="#ffffff"/>
<rect x="115.50" y="395.52" width="16.30" height="1.28" fill="#fef8f8"/>
<rect x="132.70" y="395.52" width="16.30" height="1.28" fill="#fdfdfe"/>
<rect x="149.90" y="395.52" width="16.30" height="1.28" fill="#fffafa"/>
<rect x="29.50" y="396.78" width="16.30" height="1.28" fill="#e7e8f7"/>
<rect x="46.70" y="396.78" width="16.30" height="1.28" fill="#e6e7f7"/>
<rect x="63.90" y="396.78" width="16.30" height="1.28" fill="#e1e3f6"/>
<rect x="81.10" y="396.78" width="16.30" height="1.28" fill="#e4e6f7"/>
<rect x="98.30" y="396.78" width="16.30" height="1.28" fill="#fef2f2"/>
<rect x="115.50" y="396.78" width="16.30" height="1.28" fill="#fffbfb"/>
<rect x="132.70" y="396.78" width="16.30" height="1.28" fill="#fef2f2"/>
<rect x="149.90" y="396.78" width="16.30" height="1.28" fill="#fbfbfe"/>
<rect x="29.50" y="398.04" width="16.30" height="1.28" fill="#f6f7fc"/>
<rect x="46.70" y="398.04" width="16.30" height="1.28" fill="#f7f8fd"/>
<rect x="63.90" y="398.04" width="16.30" height="1.28" fill="#fefeff"/>
<rect x="81.10" y="398.04" width="16.30" height="1.28" fill="#fbfbfe"/>
<rect x="98.30" y="398.04" width="16.30" height="1.28" fill="#fef8f8"/>
<rect x="115.50" y="398.04" width="16.30" height="1.28" fill="#fffefe"/>
<rect x="132.70" y="398.04" width="16.30" height="1.28" fill="#fffbfb"/>
<rect x="149.90" y="398.04" width="16.30" height="1.28" fill="#fef8f8"/>
<rect x="29.50" y="399.30" width="16.30" height="1.28" fill="#e9eaf8"/>
<rect x="46.70" y="399.30" width="16.30" height="1.28" fill="#d9dbf3"/>
<rect x="63.90" y="399.30" width="16.30" height="1.28" fill="#fef5f5"/>
<rect x="81.10" y="399.30" width="16.30" height="1.28" fill="#f5f6fc"/>
<rect x="98.30" y="399.30" width="16.30" height="1.28" fill="#fdecec"/>
<rect x="115.50" y="399.30" width="16.30" height="1.28" fill="#fde3e3"/>
<rect x="132.70" y="399.30" width="16.30" height="1.28" fill="#fdfdfe"/>
<rect x="149.90" y="399.30" width="16.30" height="1.28" fill="#fbcccc"/>
<rect x="29.50" y="400.56" width="16.30" height="1.28" fill="#e5e7f7"/>
<rect x="46.70" y="400.56" width="16.30" height="1.28" fill="#e2e4f6"/>
<rect x="63.90" y="400.56" width="16.30" height="1.28" fill="#ebecf9"/>
<rect x="81.10" y="400.56" width="16.30" height="1.28" fill="#eff0fa"/>
<rect x="98.30" y="400.56" width="16.30" height="1.28" fill="#fde7e7"/>
<rect x="115.50" y="400.56" width="16.30" height="1.28" fill="#fde7e7"/>
<rect x="132.70" y="400.56" width="16.30" height="1.28" fill="#fef6f6"/>
<rect x="149.90" y="400.56" width="16.30" height="1.28" fill="#fbd4d4"/>
<rect x="29.50" y="401.82" width="16.30" height="1.28" fill="#e6e8f7"/>
<rect x="46.70" y="401.82" width="16.30" height="1.28" fill="#cfd2f0"/>
<rect x="63.90" y="401.82" width="16.30" height="1.28" fill="#dfe0f5"/>
<rect x="81.10" y="401.82" width="16.30" height="1.28" fill="#fef6f6"/>
<rect x="98.30" y="401.82" width="16.30" height="1.28" fill="#fffcfc"/>
<rect x="115.50" y="401.82" width="16.30" height="1.28" fill="#fef2f2"/>
<rect x="132.70" y="401.82" width="16.30" height="1.28" fill="#fffcfc"/>
<rect x="149.90" y="401.82" width="16.30" height="1.28" fill="#fcdcdc"/>
<rect x="29.50" y="403.08" width="16.30" height="1.28" fill="#f7f7fc"/>
<rect x="46.70" y="403.08" width="16.30" height="1.28" fill="#fafafd"/>
<rect x="63.90" y="403.08" width="16.30" height="1.28" fill="#fcfcfe"/>
<rect x="81.10" y="403.08" width="16.30" height="1.28" fill="#fffefe"/>
<rect x="98.30" y="403.08" width="16.30" height="1.28" fill="#fffdfd"/>
<rect x="115.50" y="403.08" width="16.30" height="1.28" fill="#fef7f7"/>
<rect x="132.70" y="403.08" width="16.30" height="1.28" fill="#ffffff"/>
<rect x="149.90" y="403.08" width="16.30" height="1.28" fill="#fef9f9"/>
<rect x="29.50" y="404.34" width="16.30" height="1.28" fill="#d3d6f1"/>
<rect x="46.70" y="404.34" width="16.30" height="1.28" fill="#cfd1f0"/>
<rect x="63.90" y="404.34" width="16.30" height="1.28" fill="#e9eaf8"/>
<rect x="81.10" y="404.34" width="16.30" height="1.28" fill="#e1e2f5"/>
<rect x="98.30" y="404.34" width="16.30" height="1.28" fill="#fbfcfe"/>
<rect x="115.50" y="404.34" width="16.30" height="1.28" fill="#eaebf8"/>
<rect x="132.70" y="404.34" width="16.30" height="1.28" fill="#fdeded"/>
<rect x="149.90" y="404.34" width="16.30" height="1.28" fill="#fef1f1"/>
<rect x="29.50" y="405.60" width="16.30" height="1.28" fill="#d1d4f1"/>
<rect x="46.70" y="405.60" width="16.30" height="1.28" fill="#f4f4fb"/>
<rect x="63.90" y="405.60" width="16.30" height="1.28" fill="#f1f2fb"/>
<rect x="81.10" y="405.60" width="16.30" height="1.28" fill="#f8f8fd"/>
<rect x="98.30" y="405.60" width="16.30" height="1.28" fill="#f5f5fc"/>
<rect x="115.50" y="405.60" width="16.30" height="1.28" fill="#fffdfd"/>
<rect x="132.70" y="405.60" width="16.30" height="1.28" fill="#f3f4fb"/>
<rect x="149.90" y="405.60" width="16.30" height="1.28" fill="#fcd8d8"/>
<rect x="29.50" y="406.86" width="16.30" height="1.28" fill="#dcdef4"/>
<rect x="46.70" y="406.86" width="16.30" height="1.28" fill="#dcdef4"/>
<rect x="63.90" y="406.86" width="16.30" height="1.28" fill="#f8f9fd"/>
<rect x="81.10" y="406.86" width="16.30" height="1.28" fill="#e4e5f6"/>
<rect x="98.30" y="406.86" width="16.30" height="1.28" fill="#fde9e9"/>
<rect x="115.50" y="406.86" width="16.30" height="1.28" fill="#fdecec"/>
<rect x="132.70" y="406.86" width="16.30" height="1.28" fill="#fffcfc"/>
<rect x="149.90" y="406.86" width="16.30" height="1.28" fill="#fcdddd"/>
<rect x="29.50" y="408.12" width="16.30" height="1.28" fill="#e6e7f7"/>
<rect x="46.70" y="408.12" width="16.30" height="1.28" fill="#e7e9f8"/>
<rect x="63.90" y="408.12" width="16.30" height="1.28" fill="#fef5f5"/>
<rect x="81.10" y="408.12" width="16.30" height="1.28" fill="#fdfeff"/>
<rect x="98.30" y="408.12" width="16.30" height="1.28" fill="#fef0f0"/>
<rect x="115.50" y="408.12" width="16.30" height="1.28" fill="#feeeee"/>
<rect x="132.70" y="408.12" width="16.30" height="1.28" fill="#f4f5fc"/>
<rect x="149.90" y="408.12" width="16.30" height="1.28" fill="#fde7e7"/>
<rect x="29.50" y="409.38" width="16.30" height="1.28" fill="#d6d9f2"/>
<rect x="46.70" y="409.38" width="16.30" height="1.28" fill="#e4e6f7"/>
<rect x="63.90" y="409.38" width="16.30" height="1.28" fill="#d5d7f2"/>
<rect x="81.10" y="409.38" width="16.30" height="1.28" fill="#d4d7f2"/>
<rect x="98.30" y="409.38" width="16.30" height="1.28" fill="#fffafa"/>
<rect x="115.50" y="409.38" width="16.30" height="1.28" fill="#fef2f2"/>
<rect x="132.70" y="409.38" width="16.30" height="1.28" fill="#fce0e0"/>
<rect x="149.90" y="409.38" width="16.30" height="1.28" fill="#fffafa"/>
<rect x="29.50" y="410.64" width="16.30" height="1.28" fill="#eaebf8"/>
<rect x="46.70" y="410.64" width="16.30" height="1.28" fill="#f1f2fb"/>
<rect x="63.90" y="410.64" width="16.30" height="1.28" fill="#fef5f5"/>
<rect x="81.10" y="410.64" width="16.30" height="1.28" fill="#e9eaf8"/>
<rect x="98.30" y="410.64" width="16.30" height="1.28" fill="#fdeded"/>
<rect x="115.50" y="410.64" width="16.30" height="1.28" fill="#feefef"/>
<rect x="132.70" y="410.64" width="16.30" height="1.28" fill="#fde6e6"/>
<rect x="149.90" y="410.64" width="16.30" height="1.28" fill="#fcdada"/>
<rect x="29.50" y="411.90" width="16.30" height="1.28" fill="#e3e4f6"/>
<rect x="46.70" y="411.90" width="16.30" height="1.28" fill="#e1e2f5"/>
<rect x="63.90" y="411.90" width="16.30" height="1.28" fill="#fef6f6"/>
<rect x="81.10" y="411.90" width="16.30" height="1.28" fill="#e5e6f7"/>
<rect x="98.30" y="411.90" width="16.30" height="1.28" fill="#fdeded"/>
<rect x="115.50" y="411.90" width="16.30" height="1.28" fill="#fffafa"/>
<rect x="132.70" y="411.90" width="16.30" height="1.28" fill="#fef6f6"/>
<rect x="149.90" y="411.90" width="16.30" height="1.28" fill="#f9bbbb"/>
<rect x="29.50" y="413.16" width="16.30" height="1.28" fill="#f9f9fd"/>
<rect x="46.70" y="413.16" width="16.30" height="1.28" fill="#f6f7fc"/>
<rect x="63.90" y="413.16" width="16.30" height="1.28" fill="#fef6f6"/>
<rect x="81.10" y="413.16" width="16.30" height="1.28" fill="#d5d8f2"/>
<rect x="98.30" y="413.16" width="16.30" height="1.28" fill="#fde9e9"/>
<rect x="115.50" y="413.16" width="16.30" height="1.28" fill="#fdebeb"/>
<rect x="132.70" y="413.16" width="16.30" height="1.28" fill="#feefef"/>
<rect x="149.90" y="413.16" width="16.30" height="1.28" fill="#fbd3d3"/>
<rect x="29.50" y="414.42" width="16.30" height="1.28" fill="#e6e8f7"/>
<rect x="46.70" y="414.42" width="16.30" height="1.28" fill="#e7e9f8"/>
<rect x="63.90" y="414.42" width="16.30" height="1.28" fill="#feefef"/>
<rect x="81.10" y="414.42" width="16.30" height="1.28" fill="#fef8f8"/>
<rect x="98.30" y="414.42" width="16.30" height="1.28" fill="#fef0f0"/>
<rect x="115.50" y="414.42" width="16.30" height="1.28" fill="#fef1f1"/>
<rect x="132.70" y="414.42" width="16.30" height="1.28" fill="#fcdbdb"/>
<rect x="149.90" y="414.42" width="16.30" height="1.28" fill="#fcd8d8"/>
<rect x="29.50" y="415.68" width="16.30" height="1.28" fill="#d9dbf3"/>
<rect x="46.70" y="415.68" width="16.30" height="1.28" fill="#e3e5f6"/>
<rect x="63.90" y="415.68" width="16.30" height="1.28" fill="#fffcfc"/>
<rect x="81.10" y="415.68" width="16.30" height="1.28" fill="#f8f8fd"/>
<rect x="98.30" y="415.68" width="16.30" height="1.28" fill="#f1f2fb"/>
<rect x="115.50" y="415.68" width="16.30" height="1.28" fill="#fef6f6"/>
<rect x="132.70" y="415.68" width="16.30" height="1.28" fill="#fef7f7"/>
<rect x="149.90" y="415.68" width="16.30" height="1.28" fill="#fde4e4"/>
<rect x="29.50" y="416.94" width="16.30" height="1.28" fill="#eeeffa"/>
<rect x="46.70" y="416.94" width="16.30" height="1.28" fill="#f3f4fb"/>
<rect x="63.90" y="416.94" width="16.30" height="1.28" fill="#fdeded"/>
<rect x="81.10" y="416.94" width="16.30" height="1.28" fill="#fff9f9"/>
<rect x="98.30" y="416.94" width="16.30" height="1.28" fill="#fef0f0"/>
<rect x="115.50" y="416.94" width="16.30" height="1.28" fill="#fffdfd"/>
<rect x="132.70" y="416.94" width="16.30" height="1.28" fill="#fde3e3"/>
<rect x="149.90" y="416.94" width="16.30" height="1.28" fill="#fde5e5"/>
<rect x="29.50" y="418.20" width="16.30" height="1.28" fill="#f7f8fd"/>
<rect x="46.70" y="418.20" width="16.30" height="1.28" fill="#e5e7f7"/>
<rect x="63.90" y="418.20" width="16.30" height="1.28" fill="#fef7f7"/>
<rect x="81.10" y="418.20" width="16.30" height="1.28" fill="#fffbfb"/>
<rect x="98.30" y="418.20" width="16.30" height="1.28" fill="#fef7f7"/>
<rect x="115.50" y="418.20" width="16.30" height="1.28" fill="#fdecec"/>
<rect x="132.70" y="418.20" width="16.30" height="1.28" fill="#fbd4d4"/>
<rect x="149.90" y="418.20" width="16.30" height="1.28" fill="#f9b7b7"/>
<rect x="29.50" y="419.46" width="16.30" height="1.28" fill="#f7f7fc"/>
<rect x="46.70" y="419.46" width="16.30" height="1.28" fill="#f6f7fc"/>
<rect x="63.90" y="419.46" width="16.30" height="1.28" fill="#fdebeb"/>
<rect x="81.10" y="419.46" width="16.30" height="1.28" fill="#f0f0fa"/>
<rect x="98.30" y="419.46" width="16.30" height="1.28" fill="#fef2f2"/>
<rect x="115.50" y="419.46" width="16.30" height="1.28" fill="#fef6f6"/>
<rect x="132.70" y="419.46" width="16.30" height="1.28" fill="#fce2e2"/>
<rect x="149.90" y="419.46" width="16.30" height="1.28" fill="#fdebeb"/>
<rect x="29.50" y="420.72" width="16.30" height="1.28" fill="#e6e8f7"/>
<rect x="46.70" y="420.72" width="16.30" height="1.28" fill="#e3e5f6"/>
<rect x="63.90" y="420.72" width="16.30" height="1.28" fill="#f1f1fa"/>
<rect x="81.10" y="420.72" width="16.30" height="1.28" fill="#fcfcfe"/>
<rect x="98.30" y="420.72" width="16.30" height="1.28" fill="#fef6f6"/>
<rect x="115.50" y="420.72" width="16.30" height="1.28" fill="#fef3f3"/>
<rect x="132.70" y="420.72" width="16.30" height="1.28" fill="#fdeaea"/>
<rect x="149.90" y="420.72" width="16.30" height="1.28" fill="#fac6c6"/>
<rect x="29.50" y="421.98" width="16.30" height="1.28" fill="#e6e8f7"/>
<rect x="46.70" y="421.98" width="16.30" height="1.28" fill="#dadcf3"/>
<rect x="63.90" y="421.98" width="16.30" height="1.28" fill="#fffefe"/>
<rect x="81.10" y="421.98" width="16.30" height="1.28" fill="#f3f4fb"/>
<rect x="98.30" y="421.98" width="16.30" height="1.28" fill="#fdecec"/>
<rect x="115.50" y="421.98" width="16.30" height="1.28" fill="#fffafa"/>
<rect x="132.70" y="421.98" width="16.30" height="1.28" fill="#fbd3d3"/>
<rect x="149.90" y="421.98" width="16.30" height="1.28" fill="#fde7e7"/>
<rect x="29.50" y="423.24" width="16.30" height="1.28" fill="#a0a6e1"/>
<rect x="46.70" y="423.24" width="16.30" height="1.28" fill="#a0a6e1"/>
<rect x="63.90" y="423.24" width="16.30" height="1.28" fill="#ed7070"/>
<rect x="81.10" y="423.24" width="16.30" height="1.28" fill="#a0a6e1"/>
<rect x="98.30" y="423.24" width="16.30" height="1.28" fill="#eff0fa"/>
<rect x="115.50" y="423.24" width="16.30" height="1.28" fill="#eff0fa"/>
<rect x="132.70" y="423.24" width="16.30" height="1.28" fill="#f8abab"/>
<rect x="149.90" y="423.24" width="16.30" height="1.28" fill="#f9b6b6"/>
</g>
<defs><linearGradient id="cbg" x1="0" y1="0" x2="0" y2="1"><stop offset="0" stop-color="#e03c3c"/><stop offset="0.5" stop-color="#ffffff"/><stop offset="1" stop-color="#3b56a6"/></linearGradient></defs>
<rect x="173.20" y="266.90" width="4.90" height="64.80" fill="url(#cbg)"/>
<text x="180.40" y="274.80" font-size="8.3">2</text>
<text x="180.40" y="303.30" font-size="8.3">0</text>
<text x="180.40" y="331.80" font-size="8.3">−2</text>
<text transform="translate(40.25,434.20) rotate(-30)" font-size="9.5" text-anchor="end">siCtrl-#1</text>
<text transform="translate(57.85,434.20) rotate(-30)" font-size="9.5" text-anchor="end">siCtrl-#2</text>
<text transform="translate(75.45,434.20) rotate(-30)" font-size="9.5" text-anchor="end">siOC2-#1</text>
<text transform="translate(93.05,434.20) rotate(-30)" font-size="9.5" text-anchor="end">siOC2-#2</text>
<text transform="translate(110.65,434.20) rotate(-30)" font-size="9.5" text-anchor="end">siCtrl-#1</text>
<text transform="translate(128.25,434.20) rotate(-30)" font-size="9.5" text-anchor="end">siCtrl-#2</text>
<text transform="translate(145.85,434.20) rotate(-30)" font-size="9.5" text-anchor="end">siOC2-#1</text>
<text transform="translate(163.45,434.20) rotate(-30)" font-size="9.5" text-anchor="end">siOC2-#2</text>
<text x="384.50" y="253.80" font-size="9.5">OC2-dependent hypoxia-induced genes</text>
<text x="422.10" y="271.10" font-size="9.5" text-anchor="middle">Normoxia</text>
<text x="485.00" y="271.10" font-size="9.5" text-anchor="middle">Hypoxia</text>
<line x1="385.20" y1="274.00" x2="452.70" y2="274.00" stroke="#8a8a8a" stroke-width="1.2"/>
<line x1="454.60" y1="274.00" x2="522.80" y2="274.00" stroke="#8a8a8a" stroke-width="1.2"/>
<rect x="385.00" y="277.40" width="137.76" height="151.00" fill="#ffffff"/>
<rect x="385.35" y="277.75" width="16.52" height="5.34" fill="#c8c8ee"/>
<rect x="402.57" y="277.75" width="16.52" height="5.34" fill="#d0d0f0"/>
<rect x="419.79" y="277.75" width="16.52" height="5.34" fill="#a0a8e0"/>
<rect x="437.01" y="277.75" width="16.52" height="5.34" fill="#a8b0e0"/>
<rect x="454.23" y="277.75" width="16.52" height="5.34" fill="#e03020"/>
<rect x="471.45" y="277.75" width="16.52" height="5.34" fill="#e03525"/>
<rect x="488.67" y="277.75" width="16.52" height="5.34" fill="#a0a8e0"/>
<rect x="505.89" y="277.75" width="16.52" height="5.34" fill="#b0b8e8"/>
<text x="524.80" y="282.82" font-size="5.35" stroke="#000" stroke-width="0.12">UCN2</text>
<rect x="385.35" y="283.79" width="16.52" height="5.34" fill="#b8b8e8"/>
<rect x="402.57" y="283.79" width="16.52" height="5.34" fill="#b0b0e8"/>
<rect x="419.79" y="283.79" width="16.52" height="5.34" fill="#f07070"/>
<rect x="437.01" y="283.79" width="16.52" height="5.34" fill="#7078cc"/>
<rect x="454.23" y="283.79" width="16.52" height="5.34" fill="#e84040"/>
<rect x="471.45" y="283.79" width="16.52" height="5.34" fill="#f05060"/>
<rect x="488.67" y="283.79" width="16.52" height="5.34" fill="#7078cc"/>
<rect x="505.89" y="283.79" width="16.52" height="5.34" fill="#7078c8"/>
<text x="524.80" y="288.86" font-size="5.35" stroke="#000" stroke-width="0.12">TICAM2</text>
<rect x="385.35" y="289.83" width="16.52" height="5.34" fill="#a8aee0"/>
<rect x="402.57" y="289.83" width="16.52" height="5.34" fill="#b0b4e4"/>
<rect x="419.79" y="289.83" width="16.52" height="5.34" fill="#a8b0e0"/>
<rect x="437.01" y="289.83" width="16.52" height="5.34" fill="#a0a8e0"/>
<rect x="454.23" y="289.83" width="16.52" height="5.34" fill="#e03428"/>
<rect x="471.45" y="289.83" width="16.52" height="5.34" fill="#e43a2e"/>
<rect x="488.67" y="289.83" width="16.52" height="5.34" fill="#c0c4ec"/>
<rect x="505.89" y="289.83" width="16.52" height="5.34" fill="#d8dcf4"/>
<text x="524.80" y="294.90" font-size="5.35" stroke="#000" stroke-width="0.12">C10orf10</text>
<rect x="385.35" y="295.87" width="16.52" height="5.34" fill="#a0a8e0"/>
<rect x="402.57" y="295.87" width="16.52" height="5.34" fill="#b8bce8"/>
<rect x="419.79" y="295.87" width="16.52" height="5.34" fill="#a0a8e0"/>
<rect x="437.01" y="295.87" width="16.52" height="5.34" fill="#a8aee0"/>
<rect x="454.23" y="295.87" width="16.52" height="5.34" fill="#e03428"/>
<rect x="471.45" y="295.87" width="16.52" height="5.34" fill="#e03428"/>
<rect x="488.67" y="295.87" width="16.52" height="5.34" fill="#b8bce8"/>
<rect x="505.89" y="295.87" width="16.52" height="5.34" fill="#d0d4f0"/>
<text x="524.80" y="300.94" font-size="5.35" stroke="#000" stroke-width="0.12">MAP7D2</text>
<rect x="385.35" y="301.91" width="16.52" height="5.34" fill="#a8aee0"/>
<rect x="402.57" y="301.91" width="16.52" height="5.34" fill="#a8aee0"/>
<rect x="419.79" y="301.91" width="16.52" height="5.34" fill="#a8b0e0"/>
<rect x="437.01" y="301.91" width="16.52" height="5.34" fill="#a8b0e2"/>
<rect x="454.23" y="301.91" width="16.52" height="5.34" fill="#e03428"/>
<rect x="471.45" y="301.91" width="16.52" height="5.34" fill="#e43a2e"/>
<rect x="488.67" y="301.91" width="16.52" height="5.34" fill="#c8ccee"/>
<rect x="505.89" y="301.91" width="16.52" height="5.34" fill="#e0e2f6"/>
<text x="524.80" y="306.98" font-size="5.35" stroke="#000" stroke-width="0.12">ANGPTL4</text>
<rect x="385.35" y="307.95" width="16.52" height="5.34" fill="#d0d4f0"/>
<rect x="402.57" y="307.95" width="16.52" height="5.34" fill="#e8e8f8"/>
<rect x="419.79" y="307.95" width="16.52" height="5.34" fill="#b8bce8"/>
<rect x="437.01" y="307.95" width="16.52" height="5.34" fill="#b0b4e8"/>
<rect x="454.23" y="307.95" width="16.52" height="5.34" fill="#e03428"/>
<rect x="471.45" y="307.95" width="16.52" height="5.34" fill="#e43a2e"/>
<rect x="488.67" y="307.95" width="16.52" height="5.34" fill="#7880cc"/>
<rect x="505.89" y="307.95" width="16.52" height="5.34" fill="#a8ace0"/>
<text x="524.80" y="313.02" font-size="5.35" stroke="#000" stroke-width="0.12">PDGFA</text>
<rect x="385.35" y="313.99" width="16.52" height="5.34" fill="#9aa0dc"/>
<rect x="402.57" y="313.99" width="16.52" height="5.34" fill="#a0a6de"/>
<rect x="419.79" y="313.99" width="16.52" height="5.34" fill="#a0a8e0"/>
<rect x="437.01" y="313.99" width="16.52" height="5.34" fill="#a8aee0"/>
<rect x="454.23" y="313.99" width="16.52" height="5.34" fill="#e03428"/>
<rect x="471.45" y="313.99" width="16.52" height="5.34" fill="#e23830"/>
<rect x="488.67" y="313.99" width="16.52" height="5.34" fill="#c8ccee"/>
<rect x="505.89" y="313.99" width="16.52" height="5.34" fill="#e0e2f6"/>
<text x="524.80" y="319.06" font-size="5.35" stroke="#000" stroke-width="0.12">SLAMF9</text>
<rect x="385.35" y="320.03" width="16.52" height="5.34" fill="#a8aee0"/>
<rect x="402.57" y="320.03" width="16.52" height="5.34" fill="#a8b0e2"/>
<rect x="419.79" y="320.03" width="16.52" height="5.34" fill="#9098d8"/>
<rect x="437.01" y="320.03" width="16.52" height="5.34" fill="#d8daf2"/>
<rect x="454.23" y="320.03" width="16.52" height="5.34" fill="#e03428"/>
<rect x="471.45" y="320.03" width="16.52" height="5.34" fill="#e43a2e"/>
<rect x="488.67" y="320.03" width="16.52" height="5.34" fill="#c0c4ec"/>
<rect x="505.89" y="320.03" width="16.52" height="5.34" fill="#d8dcf4"/>
<text x="524.80" y="325.10" font-size="5.35" stroke="#000" stroke-width="0.12">CYP26A1</text>
<rect x="385.35" y="326.07" width="16.52" height="5.34" fill="#9aa0dc"/>
<rect x="402.57" y="326.07" width="16.52" height="5.34" fill="#a8aee0"/>
<rect x="419.79" y="326.07" width="16.52" height="5.34" fill="#a8b0e2"/>
<rect x="437.01" y="326.07" width="16.52" height="5.34" fill="#a0a6de"/>
<rect x="454.23" y="326.07" width="16.52" height="5.34" fill="#e03428"/>
<rect x="471.45" y="326.07" width="16.52" height="5.34" fill="#e03428"/>
<rect x="488.67" y="326.07" width="16.52" height="5.34" fill="#b8bce8"/>
<rect x="505.89" y="326.07" width="16.52" height="5.34" fill="#fceaea"/>
<text x="524.80" y="331.14" font-size="5.35" stroke="#000" stroke-width="0.12">BEND5</text>
<rect x="385.35" y="332.11" width="16.52" height="5.34" fill="#b0b4e8"/>
<rect x="402.57" y="332.11" width="16.52" height="5.34" fill="#e0e0f6"/>
<rect x="419.79" y="332.11" width="16.52" height="5.34" fill="#a0a6de"/>
<rect x="437.01" y="332.11" width="16.52" height="5.34" fill="#8890d4"/>
<rect x="454.23" y="332.11" width="16.52" height="5.34" fill="#e03428"/>
<rect x="471.45" y="332.11" width="16.52" height="5.34" fill="#e43a2e"/>
<rect x="488.67" y="332.11" width="16.52" height="5.34" fill="#a8aee0"/>
<rect x="505.89" y="332.11" width="16.52" height="5.34" fill="#b0b4e8"/>
<text x="524.80" y="337.18" font-size="5.35" stroke="#000" stroke-width="0.12">FERMT1</text>
<rect x="385.35" y="338.15" width="16.52" height="5.34" fill="#a8aee0"/>
<rect x="402.57" y="338.15" width="16.52" height="5.34" fill="#b8bce8"/>
<rect x="419.79" y="338.15" width="16.52" height="5.34" fill="#b0b4e6"/>
<rect x="437.01" y="338.15" width="16.52" height="5.34" fill="#a8aee0"/>
<rect x="454.23" y="338.15" width="16.52" height="5.34" fill="#e03428"/>
<rect x="471.45" y="338.15" width="16.52" height="5.34" fill="#e03428"/>
<rect x="488.67" y="338.15" width="16.52" height="5.34" fill="#c8ccee"/>
<rect x="505.89" y="338.15" width="16.52" height="5.34" fill="#9098d8"/>
<text x="524.80" y="343.22" font-size="5.35" stroke="#000" stroke-width="0.12">PPARD</text>
<rect x="385.35" y="344.19" width="16.52" height="5.34" fill="#9aa0dc"/>
<rect x="402.57" y="344.19" width="16.52" height="5.34" fill="#a8aee0"/>
<rect x="419.79" y="344.19" width="16.52" height="5.34" fill="#c0c4ec"/>
<rect x="437.01" y="344.19" width="16.52" height="5.34" fill="#b0b4e6"/>
<rect x="454.23" y="344.19" width="16.52" height="5.34" fill="#e03428"/>
<rect x="471.45" y="344.19" width="16.52" height="5.34" fill="#e43a2e"/>
<rect x="488.67" y="344.19" width="16.52" height="5.34" fill="#d8daf2"/>
<rect x="505.89" y="344.19" width="16.52" height="5.34" fill="#e0e2f6"/>
<text x="524.80" y="349.26" font-size="5.35" stroke="#000" stroke-width="0.12">TUBGCP2</text>
<rect x="385.35" y="350.23" width="16.52" height="5.34" fill="#c8ccee"/>
<rect x="402.57" y="350.23" width="16.52" height="5.34" fill="#fafafe"/>
<rect x="419.79" y="350.23" width="16.52" height="5.34" fill="#a8aee0"/>
<rect x="437.01" y="350.23" width="16.52" height="5.34" fill="#5060b8"/>
<rect x="454.23" y="350.23" width="16.52" height="5.34" fill="#e03428"/>
<rect x="471.45" y="350.23" width="16.52" height="5.34" fill="#e43a2e"/>
<rect x="488.67" y="350.23" width="16.52" height="5.34" fill="#c8ccee"/>
<rect x="505.89" y="350.23" width="16.52" height="5.34" fill="#c0c4ec"/>
<text x="524.80" y="355.30" font-size="5.35" stroke="#000" stroke-width="0.12">S100A10</text>
<rect x="385.35" y="356.27" width="16.52" height="5.34" fill="#a8aee0"/>
<rect x="402.57" y="356.27" width="16.52" height="5.34" fill="#b0b4e6"/>
<rect x="419.79" y="356.27" width="16.52" height="5.34" fill="#8890d4"/>
<rect x="437.01" y="356.27" width="16.52" height="5.34" fill="#a0a6de"/>
<rect x="454.23" y="356.27" width="16.52" height="5.34" fill="#e03428"/>
<rect x="471.45" y="356.27" width="16.52" height="5.34" fill="#e43a2e"/>
<rect x="488.67" y="356.27" width="16.52" height="5.34" fill="#c8ccee"/>
<rect x="505.89" y="356.27" width="16.52" height="5.34" fill="#f4f4fc"/>
<text x="524.80" y="361.34" font-size="5.35" stroke="#000" stroke-width="0.12">ECE1</text>
<rect x="385.35" y="362.31" width="16.52" height="5.34" fill="#7880cc"/>
<rect x="402.57" y="362.31" width="16.52" height="5.34" fill="#8890d4"/>
<rect x="419.79" y="362.31" width="16.52" height="5.34" fill="#b0b4e6"/>
<rect x="437.01" y="362.31" width="16.52" height="5.34" fill="#fefefe"/>
<rect x="454.23" y="362.31" width="16.52" height="5.34" fill="#e03428"/>
<rect x="471.45" y="362.31" width="16.52" height="5.34" fill="#e03428"/>
<rect x="488.67" y="362.31" width="16.52" height="5.34" fill="#c0c4ec"/>
<rect x="505.89" y="362.31" width="16.52" height="5.34" fill="#d8daf2"/>
<text x="524.80" y="367.38" font-size="5.35" stroke="#000" stroke-width="0.12">FAM83A</text>
<rect x="385.35" y="368.35" width="16.52" height="5.34" fill="#9098d8"/>
<rect x="402.57" y="368.35" width="16.52" height="5.34" fill="#a8aee0"/>
<rect x="419.79" y="368.35" width="16.52" height="5.34" fill="#d8daf2"/>
<rect x="437.01" y="368.35" width="16.52" height="5.34" fill="#8890d4"/>
<rect x="454.23" y="368.35" width="16.52" height="5.34" fill="#e03428"/>
<rect x="471.45" y="368.35" width="16.52" height="5.34" fill="#e43a2e"/>
<rect x="488.67" y="368.35" width="16.52" height="5.34" fill="#a0a6de"/>
<rect x="505.89" y="368.35" width="16.52" height="5.34" fill="#c8ccee"/>
<text x="524.80" y="373.42" font-size="5.35" stroke="#000" stroke-width="0.12">KLF6</text>
<rect x="385.35" y="374.39" width="16.52" height="5.34" fill="#a0a6de"/>
<rect x="402.57" y="374.39" width="16.52" height="5.34" fill="#8890d4"/>
<rect x="419.79" y="374.39" width="16.52" height="5.34" fill="#9aa0dc"/>
<rect x="437.01" y="374.39" width="16.52" height="5.34" fill="#8890d4"/>
<rect x="454.23" y="374.39" width="16.52" height="5.34" fill="#e03428"/>
<rect x="471.45" y="374.39" width="16.52" height="5.34" fill="#e43a2e"/>
<rect x="488.67" y="374.39" width="16.52" height="5.34" fill="#f8f8fc"/>
<rect x="505.89" y="374.39" width="16.52" height="5.34" fill="#e8e8f8"/>
<text x="524.80" y="379.46" font-size="5.35" stroke="#000" stroke-width="0.12">INHA</text>
<rect x="385.35" y="380.43" width="16.52" height="5.34" fill="#7880cc"/>
<rect x="402.57" y="380.43" width="16.52" height="5.34" fill="#8890d4"/>
<rect x="419.79" y="380.43" width="16.52" height="5.34" fill="#f0f0fa"/>
<rect x="437.01" y="380.43" width="16.52" height="5.34" fill="#b8bce8"/>
<rect x="454.23" y="380.43" width="16.52" height="5.34" fill="#e03428"/>
<rect x="471.45" y="380.43" width="16.52" height="5.34" fill="#e23830"/>
<rect x="488.67" y="380.43" width="16.52" height="5.34" fill="#a8aee0"/>
<rect x="505.89" y="380.43" width="16.52" height="5.34" fill="#d8daf2"/>
<text x="524.80" y="385.50" font-size="5.35" stroke="#000" stroke-width="0.12">GDNF</text>
<rect x="385.35" y="386.47" width="16.52" height="5.34" fill="#7880cc"/>
<rect x="402.57" y="386.47" width="16.52" height="5.34" fill="#7880cc"/>
<rect x="419.79" y="386.47" width="16.52" height="5.34" fill="#9aa0dc"/>
<rect x="437.01" y="386.47" width="16.52" height="5.34" fill="#8890d4"/>
<rect x="454.23" y="386.47" width="16.52" height="5.34" fill="#e03428"/>
<rect x="471.45" y="386.47" width="16.52" height="5.34" fill="#e43a2e"/>
<rect x="488.67" y="386.47" width="16.52" height="5.34" fill="#fde8ea"/>
<rect x="505.89" y="386.47" width="16.52" height="5.34" fill="#fdeeee"/>
<text x="524.80" y="391.54" font-size="5.35" stroke="#000" stroke-width="0.12">TMEM45A</text>
<rect x="385.35" y="392.51" width="16.52" height="5.34" fill="#a0a6de"/>
<rect x="402.57" y="392.51" width="16.52" height="5.34" fill="#a8aee0"/>
<rect x="419.79" y="392.51" width="16.52" height="5.34" fill="#c8ccee"/>
<rect x="437.01" y="392.51" width="16.52" height="5.34" fill="#6870c4"/>
<rect x="454.23" y="392.51" width="16.52" height="5.34" fill="#e03428"/>
<rect x="471.45" y="392.51" width="16.52" height="5.34" fill="#e43a2e"/>
<rect x="488.67" y="392.51" width="16.52" height="5.34" fill="#d8daf2"/>
<rect x="505.89" y="392.51" width="16.52" height="5.34" fill="#b0b4e6"/>
<text x="524.80" y="397.58" font-size="5.35" stroke="#000" stroke-width="0.12">ADAM8</text>
<rect x="385.35" y="398.55" width="16.52" height="5.34" fill="#8890d4"/>
<rect x="402.57" y="398.55" width="16.52" height="5.34" fill="#8890d4"/>
<rect x="419.79" y="398.55" width="16.52" height="5.34" fill="#a0a6de"/>
<rect x="437.01" y="398.55" width="16.52" height="5.34" fill="#9098d8"/>
<rect x="454.23" y="398.55" width="16.52" height="5.34" fill="#e03428"/>
<rect x="471.45" y="398.55" width="16.52" height="5.34" fill="#d82c20"/>
<rect x="488.67" y="398.55" width="16.52" height="5.34" fill="#e0e0f6"/>
<rect x="505.89" y="398.55" width="16.52" height="5.34" fill="#fde0e4"/>
<text x="524.80" y="403.62" font-size="5.35" stroke="#000" stroke-width="0.12">LRP1</text>
<rect x="385.35" y="404.59" width="16.52" height="5.34" fill="#7880cc"/>
<rect x="402.57" y="404.59" width="16.52" height="5.34" fill="#8890d4"/>
<rect x="419.79" y="404.59" width="16.52" height="5.34" fill="#9098d8"/>
<rect x="437.01" y="404.59" width="16.52" height="5.34" fill="#8890d4"/>
<rect x="454.23" y="404.59" width="16.52" height="5.34" fill="#e03428"/>
<rect x="471.45" y="404.59" width="16.52" height="5.34" fill="#ec5050"/>
<rect x="488.67" y="404.59" width="16.52" height="5.34" fill="#fbc0c8"/>
<rect x="505.89" y="404.59" width="16.52" height="5.34" fill="#fcd0d6"/>
<text x="524.80" y="409.66" font-size="5.35" stroke="#000" stroke-width="0.12">CA9</text>
<rect x="385.35" y="410.63" width="16.52" height="5.34" fill="#7880cc"/>
<rect x="402.57" y="410.63" width="16.52" height="5.34" fill="#6870c4"/>
<rect x="419.79" y="410.63" width="16.52" height="5.34" fill="#9098d8"/>
<rect x="437.01" y="410.63" width="16.52" height="5.34" fill="#8088d0"/>
<rect x="454.23" y="410.63" width="16.52" height="5.34" fill="#e03428"/>
<rect x="471.45" y="410.63" width="16.52" height="5.34" fill="#ec5050"/>
<rect x="488.67" y="410.63" width="16.52" height="5.34" fill="#fcd0d6"/>
<rect x="505.89" y="410.63" width="16.52" height="5.34" fill="#fbc0c8"/>
<text x="524.80" y="415.70" font-size="5.35" stroke="#000" stroke-width="0.12">ADM</text>
<rect x="385.35" y="416.67" width="16.52" height="5.34" fill="#b8bce8"/>
<rect x="402.57" y="416.67" width="16.52" height="5.34" fill="#7880cc"/>
<rect x="419.79" y="416.67" width="16.52" height="5.34" fill="#9aa0dc"/>
<rect x="437.01" y="416.67" width="16.52" height="5.34" fill="#6870c4"/>
<rect x="454.23" y="416.67" width="16.52" height="5.34" fill="#e03428"/>
<rect x="471.45" y="416.67" width="16.52" height="5.34" fill="#ec4848"/>
<rect x="488.67" y="416.67" width="16.52" height="5.34" fill="#fde0e4"/>
<rect x="505.89" y="416.67" width="16.52" height="5.34" fill="#f0f0fa"/>
<text x="524.80" y="421.74" font-size="5.35" stroke="#000" stroke-width="0.12">RP11-159G9.5</text>
<rect x="385.35" y="422.71" width="16.52" height="5.34" fill="#5860bc"/>
<rect x="402.57" y="422.71" width="16.52" height="5.34" fill="#5860bc"/>
<rect x="419.79" y="422.71" width="16.52" height="5.34" fill="#b8bce8"/>
<rect x="437.01" y="422.71" width="16.52" height="5.34" fill="#7880cc"/>
<rect x="454.23" y="422.71" width="16.52" height="5.34" fill="#ec5050"/>
<rect x="471.45" y="422.71" width="16.52" height="5.34" fill="#ec5050"/>
<rect x="488.67" y="422.71" width="16.52" height="5.34" fill="#fcd0d6"/>
<rect x="505.89" y="422.71" width="16.52" height="5.34" fill="#fcd8dc"/>
<text x="524.80" y="427.78" font-size="5.35" stroke="#000" stroke-width="0.12">BHLHE40</text>
<defs><linearGradient id="cbg2" x1="0" y1="0" x2="0" y2="1"><stop offset="0" stop-color="#e03c3c"/><stop offset="0.5" stop-color="#ffffff"/><stop offset="1" stop-color="#3b56a6"/></linearGradient></defs>
<rect x="556.80" y="276.80" width="4.20" height="63.30" fill="url(#cbg2)"/>
<text x="564.40" y="283.20" font-size="8.0">1.5</text>
<text x="564.40" y="311.70" font-size="8.0">0</text>
<text x="563.60" y="340.70" font-size="8.0">−1.5</text>
<text transform="translate(396.96,439.20) rotate(-30)" font-size="9.5" text-anchor="end">siCtrl-#1</text>
<text transform="translate(414.63,439.20) rotate(-30)" font-size="9.5" text-anchor="end">siCtrl-#2</text>
<text transform="translate(432.30,439.20) rotate(-30)" font-size="9.5" text-anchor="end">siOC2-#1</text>
<text transform="translate(449.97,439.20) rotate(-30)" font-size="9.5" text-anchor="end">siOC2-#2</text>
<text transform="translate(467.64,439.20) rotate(-30)" font-size="9.5" text-anchor="end">siCtrl-#1</text>
<text transform="translate(485.31,439.20) rotate(-30)" font-size="9.5" text-anchor="end">siCtrl-#2</text>
<text transform="translate(502.98,439.20) rotate(-30)" font-size="9.5" text-anchor="end">siOC2-#1</text>
<text transform="translate(520.65,439.20) rotate(-30)" font-size="9.5" text-anchor="end">siOC2-#2</text>
<text x="47.90" y="491.10" font-size="9.5">PIMO staining of PC3 Xenografts</text>
<text x="101.00" y="507.40" font-size="9.5" text-anchor="middle">20 X</text>
<text x="157.60" y="507.40" font-size="9.5" text-anchor="middle">40 X</text>
<text x="69.60" y="538.90" font-size="9.5" text-anchor="end">shCtrl</text>
<text x="69.60" y="586.40" font-size="9.5" text-anchor="end">shOC2-#1</text>
<text x="69.60" y="630.40" font-size="9.5" text-anchor="end">shOC2-#2</text>
<text x="120.30" y="660.80" font-size="9.5" text-anchor="middle">200 μm</text>
<text x="182.00" y="660.80" font-size="9.5" text-anchor="middle">100 μm</text>
<defs>
<filter id="sp1" x="0" y="0" width="1" height="1" color-interpolation-filters="sRGB"><feTurbulence type="fractalNoise" baseFrequency="0.7" numOctaves="1" seed="3"/><feColorMatrix type="matrix" values="0 0 0 0 0.471  0 0 0 0 0.282  0 0 0 0 0.125  2.4 0 0 0 -1.05"/><feGaussianBlur stdDeviation="0.55"/></filter>
<filter id="sp1l" x="0" y="0" width="1" height="1" color-interpolation-filters="sRGB"><feTurbulence type="fractalNoise" baseFrequency="0.7" numOctaves="1" seed="8"/><feColorMatrix type="matrix" values="0 0 0 0 0.804  0 0 0 0 0.686  0 0 0 0 0.549  2.4 0 0 0 -1.1"/><feGaussianBlur stdDeviation="0.55"/></filter>
<filter id="sp2" x="0" y="0" width="1" height="1" color-interpolation-filters="sRGB"><feTurbulence type="fractalNoise" baseFrequency="0.6" numOctaves="1" seed="4"/><feColorMatrix type="matrix" values="0 0 0 0 0.412  0 0 0 0 0.235  0 0 0 0 0.098  2.8 0 0 0 -1.2"/><feGaussianBlur stdDeviation="0.55"/></filter>
<filter id="sp2l" x="0" y="0" width="1" height="1" color-interpolation-filters="sRGB"><feTurbulence type="fractalNoise" baseFrequency="0.6" numOctaves="1" seed="12"/><feColorMatrix type="matrix" values="0 0 0 0 0.784  0 0 0 0 0.608  0 0 0 0 0.392  2.4 0 0 0 -1.1"/><feGaussianBlur stdDeviation="0.55"/></filter>
<filter id="sp3" x="0" y="0" width="1" height="1" color-interpolation-filters="sRGB"><feTurbulence type="fractalNoise" baseFrequency="0.9" numOctaves="1" seed="5"/><feColorMatrix type="matrix" values="0 0 0 0 0.529  0 0 0 0 0.412  0 0 0 0 0.412  2.4 0 0 0 -1.1"/><feGaussianBlur stdDeviation="0.55"/></filter>
<filter id="sp3l" x="0" y="0" width="1" height="1" color-interpolation-filters="sRGB"><feTurbulence type="fractalNoise" baseFrequency="0.9" numOctaves="1" seed="15"/><feColorMatrix type="matrix" values="0 0 0 0 0.784  0 0 0 0 0.686  0 0 0 0 0.569  2.4 0 0 0 -1.1"/><feGaussianBlur stdDeviation="0.55"/></filter>
<filter id="sp4" x="0" y="0" width="1" height="1" color-interpolation-filters="sRGB"><feTurbulence type="fractalNoise" baseFrequency="0.75" numOctaves="1" seed="6"/><feColorMatrix type="matrix" values="0 0 0 0 0.471  0 0 0 0 0.353  0 0 0 0 0.392  2.8 0 0 0 -1.25"/><feGaussianBlur stdDeviation="0.55"/></filter>
<filter id="sp4l" x="0" y="0" width="1" height="1" color-interpolation-filters="sRGB"><feTurbulence type="fractalNoise" baseFrequency="0.75" numOctaves="1" seed="16"/><feColorMatrix type="matrix" values="0 0 0 0 0.824  0 0 0 0 0.698  0 0 0 0 0.518  2.4 0 0 0 -1.05"/><feGaussianBlur stdDeviation="0.55"/></filter>
<filter id="sp5" x="0" y="0" width="1" height="1" color-interpolation-filters="sRGB"><feTurbulence type="fractalNoise" baseFrequency="0.9" numOctaves="1" seed="7"/><feColorMatrix type="matrix" values="0 0 0 0 0.608  0 0 0 0 0.490  0 0 0 0 0.490  2.4 0 0 0 -1.1"/><feGaussianBlur stdDeviation="0.55"/></filter>
<filter id="sp5l" x="0" y="0" width="1" height="1" color-interpolation-filters="sRGB"><feTurbulence type="fractalNoise" baseFrequency="0.9" numOctaves="1" seed="17"/><feColorMatrix type="matrix" values="0 0 0 0 0.831  0 0 0 0 0.753  0 0 0 0 0.659  2.4 0 0 0 -1.1"/><feGaussianBlur stdDeviation="0.55"/></filter>
<filter id="sp6" x="0" y="0" width="1" height="1" color-interpolation-filters="sRGB"><feTurbulence type="fractalNoise" baseFrequency="0.75" numOctaves="1" seed="9"/><feColorMatrix type="matrix" values="0 0 0 0 0.431  0 0 0 0 0.314  0 0 0 0 0.392  3.0 0 0 0 -1.3"/><feGaussianBlur stdDeviation="0.55"/></filter>
<filter id="sp6l" x="0" y="0" width="1" height="1" color-interpolation-filters="sRGB"><feTurbulence type="fractalNoise" baseFrequency="0.75" numOctaves="1" seed="19"/><feColorMatrix type="matrix" values="0 0 0 0 0.816  0 0 0 0 0.698  0 0 0 0 0.518  2.4 0 0 0 -1.05"/><feGaussianBlur stdDeviation="0.55"/></filter>
<filter id="mt2" x="0" y="0" width="1" height="1" color-interpolation-filters="sRGB"><feTurbulence type="fractalNoise" baseFrequency="0.16" numOctaves="2" seed="21"/><feColorMatrix type="matrix" values="0 0 0 0 0.463  0 0 0 0 0.267  0 0 0 0 0.110  3.2 0 0 0 -1.35"/><feGaussianBlur stdDeviation="0.55"/></filter>
<filter id="mt2l" x="0" y="0" width="1" height="1" color-interpolation-filters="sRGB"><feTurbulence type="fractalNoise" baseFrequency="0.16" numOctaves="2" seed="23"/><feColorMatrix type="matrix" values="0 0 0 0 0.792  0 0 0 0 0.596  0 0 0 0 0.361  3.0 0 0 0 -1.35"/><feGaussianBlur stdDeviation="0.55"/></filter>
<filter id="mt1" x="0" y="0" width="1" height="1" color-interpolation-filters="sRGB"><feTurbulence type="fractalNoise" baseFrequency="0.14" numOctaves="2" seed="25"/><feColorMatrix type="matrix" values="0 0 0 0 0.510  0 0 0 0 0.314  0 0 0 0 0.137  3.0 0 0 0 -1.35"/><feGaussianBlur stdDeviation="0.55"/></filter>
<filter id="bl3" x="-50%" y="-50%" width="200%" height="200%"><feGaussianBlur stdDeviation="2.6"/></filter><filter id="bl1" x="-50%" y="-50%" width="200%" height="200%"><feGaussianBlur stdDeviation="0.7"/></filter><clipPath id="ci1"><rect x="72.9" y="511.8" width="60.3" height="45"/></clipPath><clipPath id="ci2"><rect x="135.1" y="511.8" width="60.2" height="45"/></clipPath>
</defs>
<rect x="72.90" y="511.80" width="60.30" height="45.00" fill="#b49476"/>
<g clip-path="url(#ci1)"><g filter="url(#bl3)"><path d="M68,542 L80,538 L90,533 L99,529.5 L102,521 L102,508 L116,508 L117,522 L126,524 L131,527 L130,540 L121,545 L110,546 L97,546 L89,552 L85,561 L68,561 Z" fill="#a2662e" opacity="0.95"/><ellipse cx="113" cy="537" rx="9" ry="7" fill="#9a5c24" opacity="0.6"/><ellipse cx="80" cy="551" rx="8" ry="5" fill="#9a5c24" opacity="0.5"/></g></g>
<rect x="72.9" y="511.8" width="60.3" height="45.0" filter="url(#mt1)" opacity="0.35"/>
<rect x="72.9" y="511.8" width="60.3" height="45.0" filter="url(#sp1)" opacity="0.55"/>
<rect x="72.9" y="511.8" width="60.3" height="45.0" filter="url(#sp1l)" opacity="0.45"/>
<g clip-path="url(#ci1)"><g fill="#e6d2b0" filter="url(#bl1)"><circle cx="85" cy="518.5" r="1.5"/><circle cx="102.8" cy="530" r="1.4"/><circle cx="110.8" cy="540.5" r="0.9"/><circle cx="79" cy="524" r="0.8"/></g></g>
<rect x="135.10" y="511.80" width="60.20" height="45.00" fill="#a66a30"/>
<g clip-path="url(#ci2)"><g filter="url(#bl3)"><ellipse cx="141" cy="517" rx="11" ry="8" fill="#c09c78"/><ellipse cx="187" cy="517" rx="8" ry="5" fill="#b88a5c"/><ellipse cx="190" cy="548" rx="6" ry="6" fill="#b48454"/></g></g>
<rect x="135.1" y="511.8" width="60.2" height="45.0" filter="url(#mt2)" opacity="0.8"/>
<rect x="135.1" y="511.8" width="60.2" height="45.0" filter="url(#mt2l)" opacity="0.7"/>
<rect x="135.1" y="511.8" width="60.2" height="45.0" filter="url(#sp2)" opacity="0.8"/>
<rect x="135.1" y="511.8" width="60.2" height="45.0" filter="url(#sp2l)" opacity="0.5"/>
<g clip-path="url(#ci2)"><g fill="#eacfa0" filter="url(#bl1)"><circle cx="153" cy="527" r="3.3"/><circle cx="173" cy="554.3" r="1.9"/></g></g>
<rect x="72.90" y="559.00" width="60.30" height="45.00" fill="#b4977e"/>
<rect x="72.9" y="559.0" width="60.3" height="45.0" filter="url(#sp3)" opacity="0.7"/>
<rect x="72.9" y="559.0" width="60.3" height="45.0" filter="url(#sp3l)" opacity="0.5"/>
<rect x="135.10" y="559.00" width="60.20" height="45.00" fill="#bb9a74"/>
<rect x="135.1" y="559.0" width="60.2" height="45.0" filter="url(#sp4)" opacity="0.8"/>
<rect x="135.1" y="559.0" width="60.2" height="45.0" filter="url(#sp4l)" opacity="0.5"/>
<rect x="72.90" y="605.60" width="60.30" height="45.00" fill="#c3a994"/>
<rect x="72.9" y="605.6" width="60.3" height="45.0" filter="url(#sp5)" opacity="0.6"/>
<rect x="72.9" y="605.6" width="60.3" height="45.0" filter="url(#sp5l)" opacity="0.5"/>
<rect x="135.10" y="605.60" width="60.20" height="45.00" fill="#b99872"/>
<rect x="135.1" y="605.6" width="60.2" height="45.0" filter="url(#sp6)" opacity="0.85"/>
<rect x="135.1" y="605.6" width="60.2" height="45.0" filter="url(#sp6l)" opacity="0.5"/>
<rect x="118.90" y="649.00" width="14.30" height="1.60" fill="#e0261a"/>
<rect x="181.00" y="649.00" width="14.30" height="1.60" fill="#e0261a"/>
<text x="316.50" y="484.60" font-size="9.5" text-anchor="middle">PC3 cell migration</text>
<text transform="translate(232.2,577.0) rotate(-90)" font-size="9.5" text-anchor="middle">Relative cell migration</text>
<line x1="261.00" y1="512.00" x2="261.00" y2="638.60" stroke="#555" stroke-width="1"/>
<line x1="258.40" y1="638.60" x2="261.00" y2="638.60" stroke="#555" stroke-width="1"/>
<text x="253.50" y="641.90" font-size="9.5" text-anchor="end">0.0</text>
<line x1="258.40" y1="596.40" x2="261.00" y2="596.40" stroke="#555" stroke-width="1"/>
<text x="253.50" y="599.70" font-size="9.5" text-anchor="end">0.5</text>
<line x1="258.40" y1="554.20" x2="261.00" y2="554.20" stroke="#555" stroke-width="1"/>
<text x="253.50" y="557.50" font-size="9.5" text-anchor="end">1.0</text>
<line x1="258.40" y1="512.00" x2="261.00" y2="512.00" stroke="#555" stroke-width="1"/>
<text x="253.50" y="515.30" font-size="9.5" text-anchor="end">1.5</text>
<line x1="273.40" y1="554.20" x2="273.40" y2="551.67" stroke="#666" stroke-width="0.9"/>
<line x1="271.20" y1="551.67" x2="275.60" y2="551.67" stroke="#666" stroke-width="0.9"/>
<rect x="265.70" y="554.20" width="15.40" height="84.40" fill="#add8e6" stroke="#333" stroke-width="0.8"/>
<line x1="291.75" y1="519.60" x2="291.75" y2="516.22" stroke="#666" stroke-width="0.9"/>
<line x1="289.55" y1="516.22" x2="293.95" y2="516.22" stroke="#666" stroke-width="0.9"/>
<rect x="284.40" y="519.60" width="14.70" height="119.00" fill="#f7a12c" stroke="#333" stroke-width="0.8"/>
<line x1="310.40" y1="621.72" x2="310.40" y2="619.61" stroke="#666" stroke-width="0.9"/>
<line x1="308.20" y1="619.61" x2="312.60" y2="619.61" stroke="#666" stroke-width="0.9"/>
<rect x="302.70" y="621.72" width="15.40" height="16.88" fill="#add8e6" stroke="#333" stroke-width="0.8"/>
<line x1="328.90" y1="625.52" x2="328.90" y2="621.30" stroke="#666" stroke-width="0.9"/>
<line x1="326.70" y1="621.30" x2="331.10" y2="621.30" stroke="#666" stroke-width="0.9"/>
<rect x="321.40" y="625.52" width="15.00" height="13.08" fill="#add8e6" stroke="#333" stroke-width="0.8"/>
<line x1="347.55" y1="611.17" x2="347.55" y2="606.53" stroke="#666" stroke-width="0.9"/>
<line x1="345.35" y1="606.53" x2="349.75" y2="606.53" stroke="#666" stroke-width="0.9"/>
<rect x="340.00" y="611.17" width="15.10" height="27.43" fill="#f7a12c" stroke="#333" stroke-width="0.8"/>
<line x1="366.10" y1="624.67" x2="366.10" y2="618.34" stroke="#666" stroke-width="0.9"/>
<line x1="363.90" y1="618.34" x2="368.30" y2="618.34" stroke="#666" stroke-width="0.9"/>
<rect x="358.40" y="624.67" width="15.40" height="13.93" fill="#f7a12c" stroke="#333" stroke-width="0.8"/>
<text transform="translate(276.40,643.40) rotate(-90)" font-size="9.5" text-anchor="end">siCtrl</text>
<text transform="translate(294.75,643.40) rotate(-90)" font-size="9.5" text-anchor="end">siCtrl</text>
<text transform="translate(313.40,643.40) rotate(-90)" font-size="9.5" text-anchor="end">siOC2−#1</text>
<text transform="translate(331.90,643.40) rotate(-90)" font-size="9.5" text-anchor="end">siOC2−#2</text>
<text transform="translate(350.55,643.40) rotate(-90)" font-size="9.5" text-anchor="end">siOC2−#1</text>
<text transform="translate(369.10,643.40) rotate(-90)" font-size="9.5" text-anchor="end">siOC2−#2</text>
<path d="M272.8,513.2 V508.5 H291.6 V513.2" fill="none" stroke="#333" stroke-width="0.9"/>
<text x="283.50" y="509.00" font-size="12" text-anchor="middle" letter-spacing="0.4">**</text>
<path d="M304.3,603.2 H334.5 M341.0,603.2 H371.5 M319.7,603.2 V585.2 H358.0 V603.2" fill="none" stroke="#333" stroke-width="0.9"/>
<text x="338.70" y="582.60" font-size="9.5" text-anchor="middle">n.s.</text>
<rect x="323.00" y="503.60" width="6.60" height="6.20" fill="#add8e6" stroke="#333" stroke-width="0.7"/>
<text x="333.00" y="508.90" font-size="9.5">Normoxia</text>
<rect x="323.00" y="516.20" width="6.60" height="6.00" fill="#f7a12c" stroke="#333" stroke-width="0.7"/>
<text x="333.00" y="522.90" font-size="9.5">Hypoxia</text>
<text x="489.60" y="484.60" font-size="9.5" text-anchor="middle">PC3 cell invasion</text>
<text transform="translate(409.6,577.0) rotate(-90)" font-size="9.5" text-anchor="middle">Relative cell invasion</text>
<line x1="437.40" y1="513.30" x2="437.40" y2="639.70" stroke="#555" stroke-width="1"/>
<line x1="434.80" y1="639.70" x2="437.40" y2="639.70" stroke="#555" stroke-width="1"/>
<text x="429.90" y="643.00" font-size="9.5" text-anchor="end">0.0</text>
<line x1="434.80" y1="608.10" x2="437.40" y2="608.10" stroke="#555" stroke-width="1"/>
<line x1="434.80" y1="576.50" x2="437.40" y2="576.50" stroke="#555" stroke-width="1"/>
<text x="429.90" y="579.80" font-size="9.5" text-anchor="end">1.0</text>
<line x1="434.80" y1="544.90" x2="437.40" y2="544.90" stroke="#555" stroke-width="1"/>
<line x1="434.80" y1="513.30" x2="437.40" y2="513.30" stroke="#555" stroke-width="1"/>
<text x="429.90" y="516.60" font-size="9.5" text-anchor="end">2.0</text>
<line x1="449.65" y1="576.50" x2="449.65" y2="563.86" stroke="#666" stroke-width="0.9"/>
<line x1="447.45" y1="563.86" x2="451.85" y2="563.86" stroke="#666" stroke-width="0.9"/>
<rect x="441.90" y="576.50" width="15.50" height="63.20" fill="#add8e6" stroke="#333" stroke-width="0.8"/>
<line x1="468.20" y1="515.20" x2="468.20" y2="511.40" stroke="#666" stroke-width="0.9"/>
<line x1="466.00" y1="511.40" x2="470.40" y2="511.40" stroke="#666" stroke-width="0.9"/>
<rect x="460.40" y="515.20" width="15.60" height="124.50" fill="#f7a12c" stroke="#333" stroke-width="0.8"/>
<line x1="487.00" y1="617.14" x2="487.00" y2="605.57" stroke="#666" stroke-width="0.9"/>
<line x1="484.80" y1="605.57" x2="489.20" y2="605.57" stroke="#666" stroke-width="0.9"/>
<rect x="479.20" y="617.14" width="15.60" height="22.56" fill="#add8e6" stroke="#333" stroke-width="0.8"/>
<line x1="505.50" y1="623.52" x2="505.50" y2="618.84" stroke="#666" stroke-width="0.9"/>
<line x1="503.30" y1="618.84" x2="507.70" y2="618.84" stroke="#666" stroke-width="0.9"/>
<rect x="497.70" y="623.52" width="15.60" height="16.18" fill="#add8e6" stroke="#333" stroke-width="0.8"/>
<line x1="524.20" y1="607.47" x2="524.20" y2="591.98" stroke="#666" stroke-width="0.9"/>
<line x1="522.00" y1="591.98" x2="526.40" y2="591.98" stroke="#666" stroke-width="0.9"/>
<rect x="516.20" y="607.47" width="16.00" height="32.23" fill="#f7a12c" stroke="#333" stroke-width="0.8"/>
<line x1="542.70" y1="609.36" x2="542.70" y2="602.41" stroke="#666" stroke-width="0.9"/>
<line x1="540.50" y1="602.41" x2="544.90" y2="602.41" stroke="#666" stroke-width="0.9"/>
<rect x="534.70" y="609.36" width="16.00" height="30.34" fill="#f7a12c" stroke="#333" stroke-width="0.8"/>
<text transform="translate(452.65,643.40) rotate(-90)" font-size="9.5" text-anchor="end">siCtrl</text>
<text transform="translate(471.20,643.40) rotate(-90)" font-size="9.5" text-anchor="end">siCtrl</text>
<text transform="translate(490.00,643.40) rotate(-90)" font-size="9.5" text-anchor="end">siOC2−#1</text>
<text transform="translate(508.50,643.40) rotate(-90)" font-size="9.5" text-anchor="end">siOC2−#2</text>
<text transform="translate(527.20,643.40) rotate(-90)" font-size="9.5" text-anchor="end">siOC2−#1</text>
<text transform="translate(545.70,643.40) rotate(-90)" font-size="9.5" text-anchor="end">siOC2−#2</text>
<path d="M448.4,509.5 V504.6 H468.2 V509.5" fill="none" stroke="#333" stroke-width="0.9"/>
<text x="459.60" y="505.70" font-size="12" text-anchor="middle" letter-spacing="0.4">**</text>
<path d="M481.1,588.5 H511.4 M517.8,588.5 H548.7 M496.4,588.5 V570.6 H534.7 V588.5" fill="none" stroke="#333" stroke-width="0.9"/>
<text x="515.90" y="567.80" font-size="9.5" text-anchor="middle">n.s.</text>
<rect x="496.60" y="505.60" width="6.80" height="5.40" fill="#add8e6" stroke="#333" stroke-width="0.7"/>
<text x="507.00" y="509.90" font-size="9.5">Normoxia</text>
<rect x="496.60" y="517.40" width="6.80" height="5.40" fill="#f7a12c" stroke="#333" stroke-width="0.7"/>
<text x="507.00" y="523.80" font-size="9.5">Hypoxia</text>
</svg>
</body></html>
